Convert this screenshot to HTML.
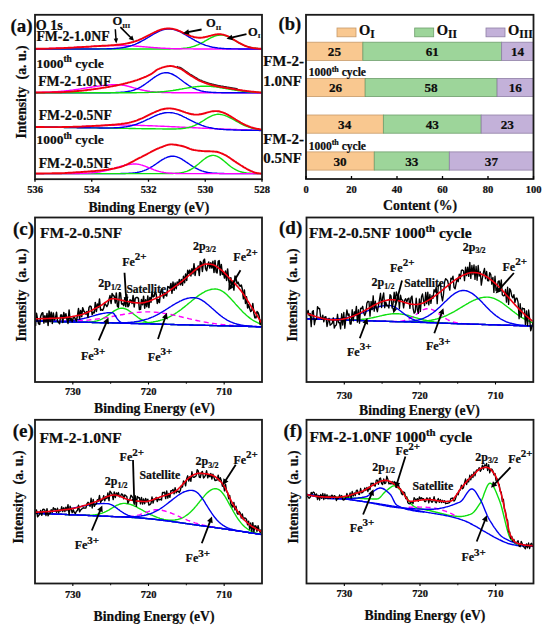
<!DOCTYPE html>
<html><head><meta charset="utf-8"><style>
html,body{margin:0;padding:0;background:#fff;width:550px;height:628px;overflow:hidden}
svg{display:block}
text{fill:#0d0d0d;stroke:#0d0d0d;stroke-width:0.22px}
</style></head><body>
<svg width="550" height="628" viewBox="0 0 550 628" style="font-family:'Liberation Serif',serif;font-weight:bold">
<rect width="550" height="628" fill="#fff"/>
<clipPath id="ca"><rect x="35" y="14.8" width="227" height="164.39999999999998"/></clipPath><g clip-path="url(#ca)">
<path d="M35.5,49.0L36.5,49.0L37.5,49.0L38.5,49.0L39.5,49.0L40.5,49.0L41.5,49.0L42.5,49.0L43.5,49.0L44.5,49.0L45.5,49.0L46.5,49.0L47.4,49.0L48.4,49.0L49.4,49.0L50.4,49.0L51.4,49.0L52.4,49.0L53.4,49.0L54.4,49.0L55.4,49.0L56.4,49.0L57.4,49.0L58.4,49.0L59.4,49.0L60.4,49.0L61.4,49.0L62.4,49.0L63.4,49.0L64.4,49.0L65.4,49.0L66.4,49.0L67.4,49.0L68.4,49.0L69.4,49.0L70.3,49.0L71.3,49.0L72.3,49.0L73.3,49.0L74.3,49.0L75.3,49.0L76.3,49.0L77.3,49.0L78.3,49.0L79.3,49.0L80.3,49.0L81.3,49.0L82.3,49.0L83.3,49.0L84.3,49.0L85.3,49.0L86.3,49.0L87.3,49.0L88.3,49.0L89.3,49.0L90.3,49.0L91.3,49.0L92.2,49.0L93.2,49.0L94.2,49.0L95.2,49.0L96.2,49.0L97.2,49.0L98.2,49.0L99.2,49.0L100.2,49.0L101.2,49.0L102.2,49.0L103.2,49.0L104.2,49.0L105.2,49.0L106.2,49.0L107.2,49.0L108.2,49.0L109.2,49.0L110.2,49.0L111.2,49.0L112.2,49.0L113.2,49.0L114.2,49.0L115.1,49.0L116.1,49.0L117.1,49.0L118.1,49.0L119.1,49.0L120.1,49.0L121.1,49.0L122.1,49.0L123.1,49.0L124.1,49.0L125.1,49.0L126.1,49.0L127.1,49.0L128.1,49.0L129.1,49.0L130.1,49.0L131.1,49.0L132.1,49.0L133.1,49.0L134.1,49.0L135.1,49.0L136.1,49.0L137.1,49.0L138.0,49.0L139.0,49.0L140.0,49.0L141.0,49.0L142.0,49.0L143.0,49.0L144.0,49.0L145.0,49.0L146.0,49.0L147.0,49.0L148.0,49.0L149.0,49.0L150.0,49.0L151.0,49.0L152.0,49.0L153.0,49.0L154.0,49.0L155.0,49.0L156.0,49.0L157.0,49.0L158.0,49.0L159.0,49.0L159.9,49.0L160.9,49.0L161.9,49.0L162.9,49.0L163.9,49.0L164.9,49.0L165.9,49.0L166.9,49.0L167.9,49.0L168.9,49.0L169.9,49.0L170.9,48.9L171.9,48.9L172.9,48.9L173.9,48.9L174.9,48.9L175.9,48.8L176.9,48.8L177.9,48.8L178.9,48.7L179.9,48.7L180.9,48.6L181.9,48.5L182.8,48.4L183.8,48.3L184.8,48.2L185.8,48.1L186.8,48.0L187.8,47.8L188.8,47.6L189.8,47.4L190.8,47.2L191.8,46.9L192.8,46.6L193.8,46.3L194.8,46.0L195.8,45.6L196.8,45.2L197.8,44.8L198.8,44.3L199.8,43.9L200.8,43.4L201.8,42.8L202.8,42.3L203.8,41.8L204.8,41.2L205.7,40.7L206.7,40.1L207.7,39.5L208.7,39.0L209.7,38.4L210.7,37.9L211.7,37.4L212.7,37.0L213.7,36.6L214.7,36.2L215.7,35.8L216.7,35.6L217.7,35.3L218.7,35.2L219.7,35.1L220.7,35.0L221.7,35.0L222.7,35.1L223.7,35.3L224.7,35.5L225.7,35.8L226.7,36.1L227.6,36.5L228.6,36.9L229.6,37.4L230.6,38.0L231.6,38.5L232.6,39.1L233.6,39.7L234.6,40.3L235.6,40.9L236.6,41.5L237.6,42.1L238.6,42.6L239.6,43.2L240.6,43.7L241.6,44.3L242.6,44.7L243.6,45.2L244.6,45.6L245.6,46.0L246.6,46.4L247.6,46.7L248.6,47.0L249.6,47.3L250.5,47.5L251.5,47.7L252.5,47.9L253.5,48.1L254.5,48.2L255.5,48.3L256.5,48.4L257.5,48.5L258.5,48.6L259.5,48.7L260.5,48.7L261.5,48.8" fill="none" stroke="#10E010" stroke-width="1.4" stroke-linejoin="round"/>
<path d="M35.5,48.8L36.5,48.8L37.5,48.8L38.5,48.8L39.5,48.8L40.5,48.7L41.5,48.7L42.5,48.7L43.5,48.7L44.5,48.7L45.5,48.6L46.5,48.6L47.4,48.6L48.4,48.6L49.4,48.5L50.4,48.5L51.4,48.5L52.4,48.5L53.4,48.4L54.4,48.4L55.4,48.4L56.4,48.3L57.4,48.3L58.4,48.3L59.4,48.2L60.4,48.2L61.4,48.1L62.4,48.1L63.4,48.1L64.4,48.0L65.4,48.0L66.4,47.9L67.4,47.9L68.4,47.8L69.4,47.8L70.3,47.7L71.3,47.7L72.3,47.6L73.3,47.6L74.3,47.5L75.3,47.5L76.3,47.4L77.3,47.3L78.3,47.3L79.3,47.2L80.3,47.2L81.3,47.1L82.3,47.0L83.3,47.0L84.3,46.9L85.3,46.9L86.3,46.8L87.3,46.7L88.3,46.7L89.3,46.6L90.3,46.6L91.3,46.5L92.2,46.4L93.2,46.4L94.2,46.3L95.2,46.3L96.2,46.2L97.2,46.2L98.2,46.1L99.2,46.1L100.2,46.0L101.2,46.0L102.2,45.9L103.2,45.9L104.2,45.8L105.2,45.8L106.2,45.8L107.2,45.7L108.2,45.7L109.2,45.7L110.2,45.6L111.2,45.6L112.2,45.6L113.2,45.6L114.2,45.5L115.1,45.5L116.1,45.5L117.1,45.5L118.1,45.5L119.1,45.5L120.1,45.5L121.1,45.5L122.1,45.5L123.1,45.5L124.1,45.5L125.1,45.6L126.1,45.6L127.1,45.6L128.1,45.7L129.1,45.7L130.1,45.8L131.1,45.8L132.1,45.9L133.1,45.9L134.1,46.0L135.1,46.1L136.1,46.2L137.1,46.2L138.0,46.3L139.0,46.4L140.0,46.5L141.0,46.5L142.0,46.6L143.0,46.7L144.0,46.8L145.0,46.9L146.0,47.0L147.0,47.0L148.0,47.1L149.0,47.2L150.0,47.3L151.0,47.4L152.0,47.5L153.0,47.5L154.0,47.6L155.0,47.7L156.0,47.8L157.0,47.8L158.0,47.9L159.0,48.0L159.9,48.0L160.9,48.1L161.9,48.1L162.9,48.2L163.9,48.3L164.9,48.3L165.9,48.4L166.9,48.4L167.9,48.4L168.9,48.5L169.9,48.5L170.9,48.6L171.9,48.6L172.9,48.6L173.9,48.7L174.9,48.7L175.9,48.7L176.9,48.7L177.9,48.8L178.9,48.8L179.9,48.8L180.9,48.8L181.9,48.8L182.8,48.9L183.8,48.9L184.8,48.9L185.8,48.9L186.8,48.9L187.8,48.9L188.8,48.9L189.8,48.9L190.8,48.9L191.8,48.9L192.8,48.9L193.8,49.0L194.8,49.0L195.8,49.0L196.8,49.0L197.8,49.0L198.8,49.0L199.8,49.0L200.8,49.0L201.8,49.0L202.8,49.0L203.8,49.0L204.8,49.0L205.7,49.0L206.7,49.0L207.7,49.0L208.7,49.0L209.7,49.0L210.7,49.0L211.7,49.0L212.7,49.0L213.7,49.0L214.7,49.0L215.7,49.0L216.7,49.0L217.7,49.0L218.7,49.0L219.7,49.0L220.7,49.0L221.7,49.0L222.7,49.0L223.7,49.0L224.7,49.0L225.7,49.0L226.7,49.0L227.6,49.0L228.6,49.0L229.6,49.0L230.6,49.0L231.6,49.0L232.6,49.0L233.6,49.0L234.6,49.0L235.6,49.0L236.6,49.0L237.6,49.0L238.6,49.0L239.6,49.0L240.6,49.0L241.6,49.0L242.6,49.0L243.6,49.0L244.6,49.0L245.6,49.0L246.6,49.0L247.6,49.0L248.6,49.0L249.6,49.0L250.5,49.0L251.5,49.0L252.5,49.0L253.5,49.0L254.5,49.0L255.5,49.0L256.5,49.0L257.5,49.0L258.5,49.0L259.5,49.0L260.5,49.0L261.5,49.0" fill="none" stroke="#FF00FF" stroke-width="1.4" stroke-linejoin="round"/>
<path d="M35.5,49.0L36.5,49.0L37.5,49.0L38.5,49.0L39.5,49.0L40.5,49.0L41.5,49.0L42.5,49.0L43.5,49.0L44.5,49.0L45.5,49.0L46.5,49.0L47.4,49.0L48.4,49.0L49.4,49.0L50.4,49.0L51.4,49.0L52.4,49.0L53.4,49.0L54.4,49.0L55.4,49.0L56.4,49.0L57.4,49.0L58.4,49.0L59.4,49.0L60.4,49.0L61.4,49.0L62.4,49.0L63.4,49.0L64.4,49.0L65.4,49.0L66.4,49.0L67.4,49.0L68.4,49.0L69.4,49.0L70.3,49.0L71.3,49.0L72.3,49.0L73.3,49.0L74.3,49.0L75.3,49.0L76.3,49.0L77.3,49.0L78.3,49.0L79.3,49.0L80.3,49.0L81.3,49.0L82.3,49.0L83.3,49.0L84.3,49.0L85.3,49.0L86.3,49.0L87.3,49.0L88.3,49.0L89.3,49.0L90.3,49.0L91.3,49.0L92.2,49.0L93.2,49.0L94.2,49.0L95.2,49.0L96.2,49.0L97.2,49.0L98.2,49.0L99.2,49.0L100.2,48.9L101.2,48.9L102.2,48.9L103.2,48.9L104.2,48.9L105.2,48.9L106.2,48.9L107.2,48.8L108.2,48.8L109.2,48.8L110.2,48.7L111.2,48.7L112.2,48.6L113.2,48.6L114.2,48.5L115.1,48.5L116.1,48.4L117.1,48.3L118.1,48.2L119.1,48.1L120.1,48.0L121.1,47.9L122.1,47.7L123.1,47.6L124.1,47.4L125.1,47.2L126.1,47.0L127.1,46.8L128.1,46.5L129.1,46.3L130.1,46.0L131.1,45.7L132.1,45.4L133.1,45.0L134.1,44.7L135.1,44.3L136.1,43.8L137.1,43.4L138.0,43.0L139.0,42.5L140.0,42.0L141.0,41.5L142.0,40.9L143.0,40.4L144.0,39.8L145.0,39.3L146.0,38.7L147.0,38.1L148.0,37.5L149.0,36.9L150.0,36.3L151.0,35.7L152.0,35.1L153.0,34.5L154.0,33.9L155.0,33.4L156.0,32.8L157.0,32.3L158.0,31.8L159.0,31.4L159.9,30.9L160.9,30.6L161.9,30.2L162.9,29.9L163.9,29.6L164.9,29.4L165.9,29.2L166.9,29.1L167.9,29.0L168.9,29.0L169.9,29.0L170.9,29.1L171.9,29.2L172.9,29.4L173.9,29.6L174.9,29.8L175.9,30.1L176.9,30.5L177.9,30.9L178.9,31.3L179.9,31.7L180.9,32.2L181.9,32.7L182.8,33.3L183.8,33.8L184.8,34.4L185.8,35.0L186.8,35.6L187.8,36.2L188.8,36.8L189.8,37.4L190.8,38.0L191.8,38.6L192.8,39.2L193.8,39.7L194.8,40.3L195.8,40.8L196.8,41.4L197.8,41.9L198.8,42.4L199.8,42.9L200.8,43.3L201.8,43.8L202.8,44.2L203.8,44.6L204.8,45.0L205.7,45.3L206.7,45.6L207.7,45.9L208.7,46.2L209.7,46.5L210.7,46.7L211.7,47.0L212.7,47.2L213.7,47.4L214.7,47.5L215.7,47.7L216.7,47.8L217.7,48.0L218.7,48.1L219.7,48.2L220.7,48.3L221.7,48.4L222.7,48.5L223.7,48.5L224.7,48.6L225.7,48.6L226.7,48.7L227.6,48.7L228.6,48.8L229.6,48.8L230.6,48.8L231.6,48.9L232.6,48.9L233.6,48.9L234.6,48.9L235.6,48.9L236.6,48.9L237.6,48.9L238.6,49.0L239.6,49.0L240.6,49.0L241.6,49.0L242.6,49.0L243.6,49.0L244.6,49.0L245.6,49.0L246.6,49.0L247.6,49.0L248.6,49.0L249.6,49.0L250.5,49.0L251.5,49.0L252.5,49.0L253.5,49.0L254.5,49.0L255.5,49.0L256.5,49.0L257.5,49.0L258.5,49.0L259.5,49.0L260.5,49.0L261.5,49.0" fill="none" stroke="#0000F0" stroke-width="1.4" stroke-linejoin="round"/>
<path d="M35.5,48.8L36.5,48.8L37.5,48.8L38.5,48.8L39.5,48.8L40.5,48.7L41.5,48.7L42.5,48.7L43.5,48.7L44.5,48.7L45.5,48.6L46.5,48.6L47.4,48.6L48.4,48.6L49.4,48.5L50.4,48.5L51.4,48.5L52.4,48.5L53.4,48.4L54.4,48.4L55.4,48.4L56.4,48.3L57.4,48.3L58.4,48.3L59.4,48.2L60.4,48.2L61.4,48.1L62.4,48.1L63.4,48.1L64.4,48.0L65.4,48.0L66.4,47.9L67.4,47.9L68.4,47.8L69.4,47.8L70.3,47.7L71.3,47.7L72.3,47.6L73.3,47.6L74.3,47.5L75.3,47.4L76.3,47.4L77.3,47.3L78.3,47.3L79.3,47.2L80.3,47.2L81.3,47.1L82.3,47.0L83.3,47.0L84.3,46.9L85.3,46.9L86.3,46.8L87.3,46.7L88.3,46.7L89.3,46.6L90.3,46.6L91.3,46.5L92.2,46.4L93.2,46.4L94.2,46.3L95.2,46.3L96.2,46.2L97.2,46.1L98.2,46.1L99.2,46.0L100.2,46.0L101.2,45.9L102.2,45.8L103.2,45.8L104.2,45.7L105.2,45.7L106.2,45.6L107.2,45.6L108.2,45.5L109.2,45.4L110.2,45.4L111.2,45.3L112.2,45.2L113.2,45.2L114.2,45.1L115.1,45.0L116.1,44.9L117.1,44.8L118.1,44.7L119.1,44.6L120.1,44.5L121.1,44.4L122.1,44.2L123.1,44.1L124.1,43.9L125.1,43.8L126.1,43.6L127.1,43.4L128.1,43.2L129.1,43.0L130.1,42.8L131.1,42.5L132.1,42.2L133.1,42.0L134.1,41.7L135.1,41.3L136.1,41.0L137.1,40.6L138.0,40.3L139.0,39.9L140.0,39.5L141.0,39.0L142.0,38.6L143.0,38.1L144.0,37.6L145.0,37.1L146.0,36.6L147.0,36.1L148.0,35.6L149.0,35.1L150.0,34.6L151.0,34.0L152.0,33.5L153.0,33.0L154.0,32.5L155.0,32.0L156.0,31.6L157.0,31.1L158.0,30.7L159.0,30.3L159.9,30.0L160.9,29.6L161.9,29.3L162.9,29.1L163.9,28.9L164.9,28.7L165.9,28.6L166.9,28.5L167.9,28.4L168.9,28.5L169.9,28.5L170.9,28.6L171.9,28.7L172.9,28.9L173.9,29.1L174.9,29.4L175.9,29.7L176.9,30.0L177.9,30.4L178.9,30.8L179.9,31.2L180.9,31.7L181.9,32.1L182.8,32.6L183.8,33.0L184.8,33.5L185.8,34.0L186.8,34.4L187.8,34.9L188.8,35.3L189.8,35.7L190.8,36.1L191.8,36.4L192.8,36.7L193.8,37.0L194.8,37.2L195.8,37.4L196.8,37.5L197.8,37.6L198.8,37.7L199.8,37.7L200.8,37.7L201.8,37.6L202.8,37.5L203.8,37.3L204.8,37.2L205.7,36.9L206.7,36.7L207.7,36.5L208.7,36.2L209.7,35.9L210.7,35.7L211.7,35.4L212.7,35.1L213.7,34.9L214.7,34.7L215.7,34.5L216.7,34.4L217.7,34.3L218.7,34.3L219.7,34.2L220.7,34.3L221.7,34.4L222.7,34.6L223.7,34.8L224.7,35.1L225.7,35.4L226.7,35.8L227.6,36.2L228.6,36.7L229.6,37.2L230.6,37.8L231.6,38.4L232.6,39.0L233.6,39.6L234.6,40.2L235.6,40.8L236.6,41.4L237.6,42.0L238.6,42.6L239.6,43.2L240.6,43.7L241.6,44.2L242.6,44.7L243.6,45.2L244.6,45.6L245.6,46.0L246.6,46.3L247.6,46.7L248.6,47.0L249.6,47.2L250.5,47.5L251.5,47.7L252.5,47.9L253.5,48.1L254.5,48.2L255.5,48.3L256.5,48.4L257.5,48.5L258.5,48.6L259.5,48.7L260.5,48.7L261.5,48.8" fill="none" stroke="#F00010" stroke-width="1.9" stroke-linejoin="round"/>
<path d="M35.5,92.5L36.5,92.5L37.5,92.5L38.5,92.4L39.5,92.4L40.5,92.4L41.5,92.4L42.5,92.3L43.5,92.3L44.5,92.3L45.5,92.2L46.5,92.2L47.4,92.2L48.4,92.1L49.4,92.1L50.4,92.0L51.4,92.0L52.4,91.9L53.4,91.9L54.4,91.8L55.4,91.7L56.4,91.7L57.4,91.6L58.4,91.5L59.4,91.4L60.4,91.4L61.4,91.3L62.4,91.2L63.4,91.1L64.4,91.0L65.4,90.9L66.4,90.8L67.4,90.7L68.4,90.6L69.4,90.4L70.3,90.3L71.3,90.2L72.3,90.1L73.3,89.9L74.3,89.8L75.3,89.7L76.3,89.5L77.3,89.4L78.3,89.2L79.3,89.1L80.3,88.9L81.3,88.8L82.3,88.6L83.3,88.4L84.3,88.3L85.3,88.1L86.3,88.0L87.3,87.8L88.3,87.6L89.3,87.5L90.3,87.3L91.3,87.2L92.2,87.0L93.2,86.9L94.2,86.7L95.2,86.6L96.2,86.4L97.2,86.3L98.2,86.1L99.2,86.0L100.2,85.9L101.2,85.7L102.2,85.6L103.2,85.5L104.2,85.4L105.2,85.3L106.2,85.2L107.2,85.1L108.2,85.0L109.2,85.0L110.2,84.9L111.2,84.8L112.2,84.8L113.2,84.8L114.2,84.7L115.1,84.7L116.1,84.7L117.1,84.7L118.1,84.7L119.1,84.8L120.1,84.8L121.1,84.9L122.1,85.1L123.1,85.2L124.1,85.4L125.1,85.6L126.1,85.8L127.1,86.0L128.1,86.2L129.1,86.5L130.1,86.8L131.1,87.0L132.1,87.3L133.1,87.6L134.1,87.9L135.1,88.1L136.1,88.4L137.1,88.7L138.0,89.0L139.0,89.2L140.0,89.5L141.0,89.8L142.0,90.0L143.0,90.2L144.0,90.4L145.0,90.6L146.0,90.8L147.0,91.0L148.0,91.2L149.0,91.3L150.0,91.5L151.0,91.6L152.0,91.7L153.0,91.8L154.0,91.9L155.0,92.0L156.0,92.1L157.0,92.2L158.0,92.3L159.0,92.3L159.9,92.4L160.9,92.4L161.9,92.5L162.9,92.5L163.9,92.5L164.9,92.5L165.9,92.6L166.9,92.6L167.9,92.6L168.9,92.6L169.9,92.6L170.9,92.6L171.9,92.7L172.9,92.7L173.9,92.7L174.9,92.7L175.9,92.7L176.9,92.7L177.9,92.7L178.9,92.7L179.9,92.7L180.9,92.7L181.9,92.7L182.8,92.7L183.8,92.7L184.8,92.7L185.8,92.7L186.8,92.7L187.8,92.7L188.8,92.7L189.8,92.7L190.8,92.7L191.8,92.7L192.8,92.7L193.8,92.7L194.8,92.7L195.8,92.7L196.8,92.7L197.8,92.7L198.8,92.7L199.8,92.7L200.8,92.7L201.8,92.7L202.8,92.7L203.8,92.7L204.8,92.7L205.7,92.7L206.7,92.7L207.7,92.7L208.7,92.7L209.7,92.7L210.7,92.7L211.7,92.7L212.7,92.7L213.7,92.7L214.7,92.7L215.7,92.7L216.7,92.7L217.7,92.7L218.7,92.7L219.7,92.7L220.7,92.7L221.7,92.7L222.7,92.7L223.7,92.7L224.7,92.7L225.7,92.7L226.7,92.7L227.6,92.7L228.6,92.7L229.6,92.7L230.6,92.7L231.6,92.7L232.6,92.7L233.6,92.7L234.6,92.7L235.6,92.7L236.6,92.7L237.6,92.7L238.6,92.7L239.6,92.7L240.6,92.7L241.6,92.7L242.6,92.7L243.6,92.7L244.6,92.7L245.6,92.7L246.6,92.7L247.6,92.7L248.6,92.7L249.6,92.7L250.5,92.7L251.5,92.7L252.5,92.7L253.5,92.7L254.5,92.7L255.5,92.7L256.5,92.7L257.5,92.7L258.5,92.7L259.5,92.7L260.5,92.7L261.5,92.7" fill="none" stroke="#FF00FF" stroke-width="1.4" stroke-linejoin="round"/>
<path d="M35.5,92.7L36.5,92.7L37.5,92.7L38.5,92.7L39.5,92.7L40.5,92.7L41.5,92.7L42.5,92.7L43.5,92.7L44.5,92.7L45.5,92.7L46.5,92.7L47.4,92.7L48.4,92.7L49.4,92.7L50.4,92.7L51.4,92.7L52.4,92.7L53.4,92.7L54.4,92.7L55.4,92.7L56.4,92.7L57.4,92.7L58.4,92.7L59.4,92.7L60.4,92.7L61.4,92.7L62.4,92.7L63.4,92.7L64.4,92.7L65.4,92.7L66.4,92.7L67.4,92.7L68.4,92.7L69.4,92.7L70.3,92.7L71.3,92.7L72.3,92.7L73.3,92.7L74.3,92.7L75.3,92.7L76.3,92.7L77.3,92.7L78.3,92.7L79.3,92.7L80.3,92.7L81.3,92.7L82.3,92.7L83.3,92.7L84.3,92.7L85.3,92.7L86.3,92.7L87.3,92.7L88.3,92.7L89.3,92.7L90.3,92.7L91.3,92.7L92.2,92.7L93.2,92.7L94.2,92.7L95.2,92.7L96.2,92.7L97.2,92.7L98.2,92.7L99.2,92.7L100.2,92.7L101.2,92.7L102.2,92.7L103.2,92.7L104.2,92.7L105.2,92.7L106.2,92.7L107.2,92.7L108.2,92.7L109.2,92.7L110.2,92.7L111.2,92.6L112.2,92.6L113.2,92.6L114.2,92.6L115.1,92.6L116.1,92.5L117.1,92.5L118.1,92.5L119.1,92.4L120.1,92.4L121.1,92.3L122.1,92.2L123.1,92.1L124.1,92.1L125.1,91.9L126.1,91.8L127.1,91.7L128.1,91.5L129.1,91.3L130.1,91.1L131.1,90.9L132.1,90.6L133.1,90.3L134.1,90.0L135.1,89.6L136.1,89.2L137.1,88.8L138.0,88.4L139.0,87.9L140.0,87.3L141.0,86.8L142.0,86.2L143.0,85.6L144.0,84.9L145.0,84.2L146.0,83.5L147.0,82.8L148.0,82.1L149.0,81.3L150.0,80.6L151.0,79.8L152.0,79.1L153.0,78.3L154.0,77.6L155.0,76.9L156.0,76.3L157.0,75.6L158.0,75.1L159.0,74.5L159.9,74.1L160.9,73.7L161.9,73.3L162.9,73.1L163.9,72.9L164.9,72.7L165.9,72.7L166.9,72.7L167.9,72.8L168.9,73.0L169.9,73.3L170.9,73.6L171.9,74.0L172.9,74.5L173.9,75.0L174.9,75.6L175.9,76.2L176.9,76.8L177.9,77.5L178.9,78.2L179.9,79.0L180.9,79.7L181.9,80.5L182.8,81.2L183.8,82.0L184.8,82.7L185.8,83.4L186.8,84.1L187.8,84.8L188.8,85.5L189.8,86.1L190.8,86.7L191.8,87.3L192.8,87.8L193.8,88.3L194.8,88.7L195.8,89.2L196.8,89.6L197.8,89.9L198.8,90.2L199.8,90.5L200.8,90.8L201.8,91.1L202.8,91.3L203.8,91.5L204.8,91.6L205.7,91.8L206.7,91.9L207.7,92.0L208.7,92.1L209.7,92.2L210.7,92.3L211.7,92.4L212.7,92.4L213.7,92.5L214.7,92.5L215.7,92.5L216.7,92.6L217.7,92.6L218.7,92.6L219.7,92.6L220.7,92.6L221.7,92.7L222.7,92.7L223.7,92.7L224.7,92.7L225.7,92.7L226.7,92.7L227.6,92.7L228.6,92.7L229.6,92.7L230.6,92.7L231.6,92.7L232.6,92.7L233.6,92.7L234.6,92.7L235.6,92.7L236.6,92.7L237.6,92.7L238.6,92.7L239.6,92.7L240.6,92.7L241.6,92.7L242.6,92.7L243.6,92.7L244.6,92.7L245.6,92.7L246.6,92.7L247.6,92.7L248.6,92.7L249.6,92.7L250.5,92.7L251.5,92.7L252.5,92.7L253.5,92.7L254.5,92.7L255.5,92.7L256.5,92.7L257.5,92.7L258.5,92.7L259.5,92.7L260.5,92.7L261.5,92.7" fill="none" stroke="#0000F0" stroke-width="1.4" stroke-linejoin="round"/>
<path d="M35.5,92.7L36.5,92.7L37.5,92.7L38.5,92.7L39.5,92.7L40.5,92.7L41.5,92.7L42.5,92.7L43.5,92.7L44.5,92.7L45.5,92.7L46.5,92.7L47.4,92.7L48.4,92.7L49.4,92.7L50.4,92.7L51.4,92.7L52.4,92.7L53.4,92.7L54.4,92.7L55.4,92.7L56.4,92.7L57.4,92.7L58.4,92.7L59.4,92.7L60.4,92.7L61.4,92.7L62.4,92.7L63.4,92.7L64.4,92.7L65.4,92.7L66.4,92.7L67.4,92.7L68.4,92.7L69.4,92.7L70.3,92.7L71.3,92.7L72.3,92.7L73.3,92.7L74.3,92.7L75.3,92.7L76.3,92.7L77.3,92.7L78.3,92.7L79.3,92.7L80.3,92.7L81.3,92.7L82.3,92.7L83.3,92.7L84.3,92.7L85.3,92.7L86.3,92.7L87.3,92.7L88.3,92.7L89.3,92.7L90.3,92.7L91.3,92.7L92.2,92.7L93.2,92.7L94.2,92.7L95.2,92.7L96.2,92.7L97.2,92.7L98.2,92.7L99.2,92.7L100.2,92.7L101.2,92.7L102.2,92.7L103.2,92.7L104.2,92.7L105.2,92.7L106.2,92.7L107.2,92.7L108.2,92.7L109.2,92.7L110.2,92.7L111.2,92.7L112.2,92.7L113.2,92.7L114.2,92.7L115.1,92.7L116.1,92.7L117.1,92.7L118.1,92.7L119.1,92.7L120.1,92.7L121.1,92.7L122.1,92.7L123.1,92.7L124.1,92.7L125.1,92.7L126.1,92.7L127.1,92.7L128.1,92.7L129.1,92.7L130.1,92.7L131.1,92.7L132.1,92.7L133.1,92.7L134.1,92.7L135.1,92.7L136.1,92.7L137.1,92.6L138.0,92.6L139.0,92.6L140.0,92.6L141.0,92.6L142.0,92.6L143.0,92.6L144.0,92.6L145.0,92.5L146.0,92.5L147.0,92.5L148.0,92.5L149.0,92.4L150.0,92.4L151.0,92.4L152.0,92.3L153.0,92.3L154.0,92.3L155.0,92.2L156.0,92.2L157.0,92.1L158.0,92.0L159.0,92.0L159.9,91.9L160.9,91.8L161.9,91.7L162.9,91.7L163.9,91.6L164.9,91.5L165.9,91.4L166.9,91.2L167.9,91.1L168.9,91.0L169.9,90.9L170.9,90.7L171.9,90.6L172.9,90.5L173.9,90.3L174.9,90.2L175.9,90.0L176.9,89.8L177.9,89.7L178.9,89.5L179.9,89.3L180.9,89.1L181.9,89.0L182.8,88.8L183.8,88.6L184.8,88.4L185.8,88.3L186.8,88.1L187.8,87.9L188.8,87.7L189.8,87.6L190.8,87.4L191.8,87.3L192.8,87.1L193.8,87.0L194.8,86.9L195.8,86.7L196.8,86.6L197.8,86.5L198.8,86.5L199.8,86.4L200.8,86.3L201.8,86.3L202.8,86.2L203.8,86.2L204.8,86.2L205.7,86.2L206.7,86.2L207.7,86.3L208.7,86.3L209.7,86.3L210.7,86.4L211.7,86.5L212.7,86.6L213.7,86.7L214.7,86.8L215.7,86.9L216.7,87.1L217.7,87.2L218.7,87.3L219.7,87.5L220.7,87.7L221.7,87.8L222.7,88.0L223.7,88.2L224.7,88.3L225.7,88.5L226.7,88.7L227.6,88.9L228.6,89.1L229.6,89.2L230.6,89.4L231.6,89.6L232.6,89.7L233.6,89.9L234.6,90.1L235.6,90.2L236.6,90.4L237.6,90.5L238.6,90.7L239.6,90.8L240.6,90.9L241.6,91.1L242.6,91.2L243.6,91.3L244.6,91.4L245.6,91.5L246.6,91.6L247.6,91.7L248.6,91.8L249.6,91.9L250.5,91.9L251.5,92.0L252.5,92.1L253.5,92.1L254.5,92.2L255.5,92.2L256.5,92.3L257.5,92.3L258.5,92.4L259.5,92.4L260.5,92.4L261.5,92.5" fill="none" stroke="#10E010" stroke-width="1.4" stroke-linejoin="round"/>
<path d="M176.9,66.4L177.9,66.8L178.9,67.1L179.9,67.5L180.9,68.0L181.9,68.5L182.8,69.1L183.8,69.8L184.8,70.5L185.8,71.2L186.8,71.9L187.8,72.6L188.8,73.3L189.8,74.0L190.8,74.6L191.8,75.2L192.8,75.8L193.8,76.4L194.8,77.0L195.8,77.6L196.8,78.2L197.8,78.8L198.8,79.3L199.8,79.8L200.8,80.2L201.8,80.7L202.8,81.1L203.8,81.4L204.8,81.8L205.7,82.2L206.7,82.5L207.7,82.8L208.7,83.2L209.7,83.5L210.7,83.8L211.7,84.0L212.7,84.3L213.7,84.5L214.7,84.8L215.7,85.0L216.7,85.2L217.7,85.4L218.7,85.6L219.7,85.8L220.7,86.0L221.7,86.1L222.7,86.3L223.7,86.5L224.7,86.6L225.7,86.8L226.7,87.0L227.6,87.1L228.6,87.3L229.6,87.4L230.6,87.6L231.6,87.8L232.6,87.9L233.6,88.1L234.6,88.3L235.6,88.4L236.6,88.6L237.6,88.7" fill="none" stroke="#222" stroke-width="1.4" stroke-linejoin="round"/>
<path d="M35.5,92.5L36.5,92.5L37.5,92.5L38.5,92.5L39.5,92.5L40.5,92.5L41.5,92.5L42.5,92.5L43.5,92.5L44.5,92.5L45.5,92.4L46.5,92.4L47.4,92.4L48.4,92.4L49.4,92.4L50.4,92.4L51.4,92.4L52.4,92.3L53.4,92.3L54.4,92.3L55.4,92.3L56.4,92.3L57.4,92.3L58.4,92.2L59.4,92.2L60.4,92.2L61.4,92.2L62.4,92.1L63.4,92.1L64.4,92.0L65.4,92.0L66.4,91.9L67.4,91.9L68.4,91.8L69.4,91.7L70.3,91.6L71.3,91.6L72.3,91.5L73.3,91.4L74.3,91.3L75.3,91.2L76.3,91.1L77.3,91.0L78.3,91.0L79.3,90.9L80.3,90.8L81.3,90.7L82.3,90.6L83.3,90.5L84.3,90.4L85.3,90.3L86.3,90.2L87.3,90.0L88.3,89.9L89.3,89.8L90.3,89.7L91.3,89.5L92.2,89.4L93.2,89.3L94.2,89.1L95.2,89.0L96.2,88.9L97.2,88.7L98.2,88.6L99.2,88.4L100.2,88.3L101.2,88.1L102.2,87.9L103.2,87.8L104.2,87.6L105.2,87.5L106.2,87.3L107.2,87.1L108.2,87.0L109.2,86.8L110.2,86.6L111.2,86.4L112.2,86.3L113.2,86.1L114.2,85.9L115.1,85.7L116.1,85.5L117.1,85.3L118.1,85.1L119.1,84.9L120.1,84.6L121.1,84.4L122.1,84.2L123.1,84.0L124.1,83.7L125.1,83.5L126.1,83.2L127.1,83.0L128.1,82.7L129.1,82.4L130.1,82.2L131.1,81.9L132.1,81.6L133.1,81.3L134.1,81.0L135.1,80.7L136.1,80.4L137.1,80.1L138.0,79.7L139.0,79.4L140.0,79.0L141.0,78.6L142.0,78.2L143.0,77.8L144.0,77.4L145.0,77.0L146.0,76.6L147.0,76.1L148.0,75.7L149.0,75.2L150.0,74.7L151.0,74.1L152.0,73.5L153.0,72.7L154.0,72.0L155.0,71.2L156.0,70.4L157.0,69.8L158.0,69.2L159.0,68.8L159.9,68.4L160.9,68.1L161.9,67.7L162.9,67.4L163.9,67.1L164.9,66.8L165.9,66.6L166.9,66.3L167.9,66.2L168.9,66.1L169.9,66.0L170.9,66.0L171.9,66.1L172.9,66.3L173.9,66.5L174.9,66.8L175.9,67.1L176.9,67.4L177.9,67.8L178.9,68.1L179.9,68.5L180.9,69.0L181.9,69.5L182.8,70.1L183.8,70.8L184.8,71.5L185.8,72.2L186.8,72.9L187.8,73.6L188.8,74.3L189.8,75.0L190.8,75.6L191.8,76.2L192.8,76.8L193.8,77.4L194.8,78.0L195.8,78.6L196.8,79.2L197.8,79.8L198.8,80.3L199.8,80.8L200.8,81.2L201.8,81.7L202.8,82.1L203.8,82.4L204.8,82.8L205.7,83.2L206.7,83.5L207.7,83.8L208.7,84.2L209.7,84.5L210.7,84.8L211.7,85.0L212.7,85.3L213.7,85.5L214.7,85.8L215.7,86.0L216.7,86.2L217.7,86.4L218.7,86.6L219.7,86.8L220.7,87.0L221.7,87.1L222.7,87.3L223.7,87.5L224.7,87.6L225.7,87.8L226.7,88.0L227.6,88.1L228.6,88.3L229.6,88.4L230.6,88.6L231.6,88.8L232.6,88.9L233.6,89.1L234.6,89.3L235.6,89.4L236.6,89.6L237.6,89.7L238.6,89.9L239.6,90.0L240.6,90.2L241.6,90.3L242.6,90.5L243.6,90.6L244.6,90.7L245.6,90.9L246.6,91.0L247.6,91.1L248.6,91.2L249.6,91.4L250.5,91.5L251.5,91.6L252.5,91.7L253.5,91.8L254.5,91.9L255.5,92.0L256.5,92.1L257.5,92.2L258.5,92.3L259.5,92.4L260.5,92.5L261.5,92.6" fill="none" stroke="#F00010" stroke-width="1.9" stroke-linejoin="round"/>
<path d="M35.5,127.0L36.5,127.0L37.5,127.0L38.5,127.0L39.5,127.0L40.5,127.0L41.5,127.0L42.5,127.0L43.5,127.0L44.5,127.1L45.5,127.1L46.5,127.1L47.4,127.1L48.4,127.1L49.4,127.1L50.4,127.1L51.4,127.1L52.4,127.1L53.4,127.1L54.4,127.1L55.4,127.1L56.4,127.1L57.4,127.1L58.4,127.1L59.4,127.1L60.4,127.1L61.4,127.1L62.4,127.0L63.4,127.0L64.4,127.0L65.4,127.0L66.4,127.0L67.4,127.0L68.4,127.0L69.4,126.9L70.3,126.9L71.3,126.9L72.3,126.9L73.3,126.8L74.3,126.8L75.3,126.8L76.3,126.8L77.3,126.7L78.3,126.7L79.3,126.6L80.3,126.6L81.3,126.6L82.3,126.5L83.3,126.5L84.3,126.4L85.3,126.4L86.3,126.4L87.3,126.3L88.3,126.3L89.3,126.2L90.3,126.2L91.3,126.1L92.2,126.1L93.2,126.0L94.2,126.0L95.2,125.9L96.2,125.9L97.2,125.8L98.2,125.8L99.2,125.7L100.2,125.7L101.2,125.6L102.2,125.6L103.2,125.5L104.2,125.5L105.2,125.4L106.2,125.4L107.2,125.3L108.2,125.3L109.2,125.3L110.2,125.2L111.2,125.2L112.2,125.2L113.2,125.2L114.2,125.1L115.1,125.1L116.1,125.1L117.1,125.1L118.1,125.1L119.1,125.1L120.1,125.1L121.1,125.1L122.1,125.1L123.1,125.1L124.1,125.1L125.1,125.1L126.1,125.1L127.1,125.1L128.1,125.1L129.1,125.2L130.1,125.2L131.1,125.2L132.1,125.2L133.1,125.2L134.1,125.3L135.1,125.3L136.1,125.3L137.1,125.3L138.0,125.4L139.0,125.4L140.0,125.4L141.0,125.5L142.0,125.5L143.0,125.5L144.0,125.5L145.0,125.6L146.0,125.6L147.0,125.6L148.0,125.7L149.0,125.7L150.0,125.7L151.0,125.8L152.0,125.8L153.0,125.9L154.0,125.9L155.0,125.9L156.0,126.0L157.0,126.0L158.0,126.1L159.0,126.1L159.9,126.1L160.9,126.2L161.9,126.2L162.9,126.3L163.9,126.3L164.9,126.4L165.9,126.4L166.9,126.4L167.9,126.5L168.9,126.5L169.9,126.6L170.9,126.6L171.9,126.7L172.9,126.7L173.9,126.8L174.9,126.8L175.9,126.9L176.9,126.9L177.9,127.0L178.9,127.0L179.9,127.1L180.9,127.1L181.9,127.2L182.8,127.2L183.8,127.3L184.8,127.3L185.8,127.4L186.8,127.4L187.8,127.4L188.8,127.5L189.8,127.5L190.8,127.6L191.8,127.6L192.8,127.7L193.8,127.7L194.8,127.8L195.8,127.8L196.8,127.9L197.8,127.9L198.8,128.0L199.8,128.0L200.8,128.1L201.8,128.1L202.8,128.2L203.8,128.2L204.8,128.3L205.7,128.3L206.7,128.3L207.7,128.4L208.7,128.4L209.7,128.5L210.7,128.5L211.7,128.6L212.7,128.6L213.7,128.6L214.7,128.7L215.7,128.7L216.7,128.8L217.7,128.8L218.7,128.9L219.7,128.9L220.7,128.9L221.7,129.0L222.7,129.0L223.7,129.1L224.7,129.1L225.7,129.1L226.7,129.2L227.6,129.2L228.6,129.2L229.6,129.3L230.6,129.3L231.6,129.4L232.6,129.4L233.6,129.4L234.6,129.5L235.6,129.5L236.6,129.5L237.6,129.6L238.6,129.6L239.6,129.6L240.6,129.7L241.6,129.7L242.6,129.7L243.6,129.7L244.6,129.8L245.6,129.8L246.6,129.8L247.6,129.9L248.6,129.9L249.6,129.9L250.5,130.0L251.5,130.0L252.5,130.0L253.5,130.0L254.5,130.1L255.5,130.1L256.5,130.1L257.5,130.1L258.5,130.2L259.5,130.2L260.5,130.2L261.5,130.2" fill="none" stroke="#FF00FF" stroke-width="1.4" stroke-linejoin="round"/>
<path d="M35.5,127.0L36.5,127.0L37.5,127.0L38.5,127.1L39.5,127.1L40.5,127.1L41.5,127.1L42.5,127.1L43.5,127.1L44.5,127.1L45.5,127.2L46.5,127.2L47.4,127.2L48.4,127.2L49.4,127.2L50.4,127.2L51.4,127.3L52.4,127.3L53.4,127.3L54.4,127.3L55.4,127.3L56.4,127.3L57.4,127.3L58.4,127.4L59.4,127.4L60.4,127.4L61.4,127.4L62.4,127.4L63.4,127.4L64.4,127.5L65.4,127.5L66.4,127.5L67.4,127.5L68.4,127.5L69.4,127.5L70.3,127.5L71.3,127.6L72.3,127.6L73.3,127.6L74.3,127.6L75.3,127.6L76.3,127.6L77.3,127.7L78.3,127.7L79.3,127.7L80.3,127.7L81.3,127.7L82.3,127.7L83.3,127.7L84.3,127.8L85.3,127.8L86.3,127.8L87.3,127.8L88.3,127.8L89.3,127.8L90.3,127.9L91.3,127.9L92.2,127.9L93.2,127.9L94.2,127.9L95.2,127.9L96.2,127.9L97.2,128.0L98.2,128.0L99.2,128.0L100.2,128.0L101.2,128.0L102.2,128.0L103.2,128.1L104.2,128.1L105.2,128.1L106.2,128.1L107.2,128.1L108.2,128.1L109.2,128.1L110.2,128.2L111.2,128.2L112.2,128.2L113.2,128.2L114.2,128.2L115.1,128.2L116.1,128.3L117.1,128.3L118.1,128.3L119.1,128.3L120.1,128.3L121.1,128.3L122.1,128.3L123.1,128.4L124.1,128.4L125.1,128.4L126.1,128.4L127.1,128.4L128.1,128.4L129.1,128.5L130.1,128.5L131.1,128.5L132.1,128.5L133.1,128.5L134.1,128.5L135.1,128.5L136.1,128.6L137.1,128.6L138.0,128.6L139.0,128.6L140.0,128.6L141.0,128.6L142.0,128.7L143.0,128.7L144.0,128.7L145.0,128.7L146.0,128.7L147.0,128.7L148.0,128.7L149.0,128.8L150.0,128.8L151.0,128.8L152.0,128.8L153.0,128.8L154.0,128.8L155.0,128.8L156.0,128.9L157.0,128.9L158.0,128.9L159.0,128.9L159.9,128.9L160.9,128.9L161.9,128.9L162.9,129.0L163.9,129.0L164.9,129.0L165.9,129.0L166.9,129.0L167.9,129.0L168.9,129.0L169.9,129.0L170.9,129.0L171.9,129.0L172.9,129.0L173.9,129.0L174.9,129.0L175.9,129.0L176.9,128.9L177.9,128.9L178.9,128.8L179.9,128.8L180.9,128.7L181.9,128.6L182.8,128.5L183.8,128.4L184.8,128.3L185.8,128.1L186.8,127.9L187.8,127.7L188.8,127.5L189.8,127.2L190.8,126.9L191.8,126.6L192.8,126.2L193.8,125.8L194.8,125.4L195.8,124.9L196.8,124.4L197.8,123.9L198.8,123.4L199.8,122.8L200.8,122.2L201.8,121.6L202.8,121.0L203.8,120.4L204.8,119.7L205.7,119.1L206.7,118.5L207.7,117.9L208.7,117.3L209.7,116.8L210.7,116.3L211.7,115.8L212.7,115.4L213.7,115.1L214.7,114.8L215.7,114.6L216.7,114.4L217.7,114.3L218.7,114.3L219.7,114.4L220.7,114.5L221.7,114.6L222.7,114.9L223.7,115.1L224.7,115.4L225.7,115.8L226.7,116.1L227.6,116.6L228.6,117.0L229.6,117.5L230.6,118.0L231.6,118.5L232.6,119.1L233.6,119.6L234.6,120.2L235.6,120.8L236.6,121.3L237.6,121.9L238.6,122.4L239.6,123.0L240.6,123.5L241.6,124.0L242.6,124.5L243.6,125.0L244.6,125.5L245.6,125.9L246.6,126.3L247.6,126.7L248.6,127.0L249.6,127.4L250.5,127.7L251.5,128.0L252.5,128.3L253.5,128.5L254.5,128.7L255.5,129.0L256.5,129.1L257.5,129.3L258.5,129.5L259.5,129.6L260.5,129.7L261.5,129.9" fill="none" stroke="#10E010" stroke-width="1.4" stroke-linejoin="round"/>
<path d="M35.5,127.0L36.5,127.0L37.5,127.0L38.5,127.1L39.5,127.1L40.5,127.1L41.5,127.1L42.5,127.1L43.5,127.1L44.5,127.1L45.5,127.2L46.5,127.2L47.4,127.2L48.4,127.2L49.4,127.2L50.4,127.2L51.4,127.3L52.4,127.3L53.4,127.3L54.4,127.3L55.4,127.3L56.4,127.3L57.4,127.3L58.4,127.4L59.4,127.4L60.4,127.4L61.4,127.4L62.4,127.4L63.4,127.4L64.4,127.5L65.4,127.5L66.4,127.5L67.4,127.5L68.4,127.5L69.4,127.5L70.3,127.5L71.3,127.6L72.3,127.6L73.3,127.6L74.3,127.6L75.3,127.6L76.3,127.6L77.3,127.7L78.3,127.7L79.3,127.7L80.3,127.7L81.3,127.7L82.3,127.7L83.3,127.7L84.3,127.8L85.3,127.8L86.3,127.8L87.3,127.8L88.3,127.8L89.3,127.8L90.3,127.8L91.3,127.9L92.2,127.9L93.2,127.9L94.2,127.9L95.2,127.9L96.2,127.9L97.2,127.9L98.2,127.9L99.2,128.0L100.2,128.0L101.2,128.0L102.2,128.0L103.2,128.0L104.2,128.0L105.2,128.0L106.2,128.0L107.2,128.0L108.2,128.0L109.2,128.0L110.2,127.9L111.2,127.9L112.2,127.9L113.2,127.9L114.2,127.8L115.1,127.8L116.1,127.7L117.1,127.7L118.1,127.6L119.1,127.6L120.1,127.5L121.1,127.4L122.1,127.3L123.1,127.2L124.1,127.0L125.1,126.9L126.1,126.8L127.1,126.6L128.1,126.4L129.1,126.2L130.1,126.0L131.1,125.7L132.1,125.5L133.1,125.2L134.1,124.9L135.1,124.6L136.1,124.3L137.1,124.0L138.0,123.6L139.0,123.2L140.0,122.8L141.0,122.4L142.0,122.0L143.0,121.6L144.0,121.1L145.0,120.7L146.0,120.2L147.0,119.7L148.0,119.2L149.0,118.8L150.0,118.3L151.0,117.8L152.0,117.3L153.0,116.8L154.0,116.4L155.0,115.9L156.0,115.5L157.0,115.1L158.0,114.7L159.0,114.4L159.9,114.0L160.9,113.7L161.9,113.5L162.9,113.2L163.9,113.0L164.9,112.8L165.9,112.7L166.9,112.6L167.9,112.6L168.9,112.6L169.9,112.6L170.9,112.7L171.9,112.8L172.9,112.9L173.9,113.1L174.9,113.4L175.9,113.6L176.9,113.9L177.9,114.2L178.9,114.6L179.9,115.0L180.9,115.4L181.9,115.8L182.8,116.3L183.8,116.8L184.8,117.3L185.8,117.7L186.8,118.3L187.8,118.8L188.8,119.3L189.8,119.8L190.8,120.3L191.8,120.8L192.8,121.3L193.8,121.8L194.8,122.3L195.8,122.8L196.8,123.2L197.8,123.7L198.8,124.1L199.8,124.5L200.8,124.9L201.8,125.3L202.8,125.6L203.8,126.0L204.8,126.3L205.7,126.6L206.7,126.9L207.7,127.1L208.7,127.4L209.7,127.6L210.7,127.8L211.7,128.0L212.7,128.2L213.7,128.4L214.7,128.6L215.7,128.7L216.7,128.8L217.7,129.0L218.7,129.1L219.7,129.2L220.7,129.3L221.7,129.4L222.7,129.4L223.7,129.5L224.7,129.6L225.7,129.6L226.7,129.7L227.6,129.7L228.6,129.8L229.6,129.8L230.6,129.9L231.6,129.9L232.6,129.9L233.6,130.0L234.6,130.0L235.6,130.0L236.6,130.1L237.6,130.1L238.6,130.1L239.6,130.1L240.6,130.1L241.6,130.2L242.6,130.2L243.6,130.2L244.6,130.2L245.6,130.2L246.6,130.3L247.6,130.3L248.6,130.3L249.6,130.3L250.5,130.3L251.5,130.3L252.5,130.4L253.5,130.4L254.5,130.4L255.5,130.4L256.5,130.4L257.5,130.4L258.5,130.4L259.5,130.5L260.5,130.5L261.5,130.5" fill="none" stroke="#0000F0" stroke-width="1.4" stroke-linejoin="round"/>
<path d="M35.5,127.0L36.5,127.0L37.5,127.0L38.5,127.0L39.5,127.0L40.5,127.0L41.5,127.0L42.5,127.0L43.5,127.0L44.5,127.1L45.5,127.1L46.5,127.1L47.4,127.1L48.4,127.1L49.4,127.1L50.4,127.1L51.4,127.1L52.4,127.1L53.4,127.1L54.4,127.1L55.4,127.1L56.4,127.1L57.4,127.1L58.4,127.1L59.4,127.1L60.4,127.1L61.4,127.1L62.4,127.0L63.4,127.0L64.4,127.0L65.4,127.0L66.4,127.0L67.4,127.0L68.4,127.0L69.4,126.9L70.3,126.9L71.3,126.9L72.3,126.9L73.3,126.8L74.3,126.8L75.3,126.8L76.3,126.8L77.3,126.7L78.3,126.7L79.3,126.6L80.3,126.6L81.3,126.6L82.3,126.5L83.3,126.5L84.3,126.4L85.3,126.4L86.3,126.3L87.3,126.3L88.3,126.3L89.3,126.2L90.3,126.1L91.3,126.1L92.2,126.0L93.2,126.0L94.2,125.9L95.2,125.9L96.2,125.8L97.2,125.8L98.2,125.7L99.2,125.7L100.2,125.6L101.2,125.5L102.2,125.5L103.2,125.4L104.2,125.4L105.2,125.3L106.2,125.2L107.2,125.2L108.2,125.1L109.2,125.0L110.2,125.0L111.2,124.9L112.2,124.8L113.2,124.7L114.2,124.7L115.1,124.6L116.1,124.5L117.1,124.4L118.1,124.3L119.1,124.2L120.1,124.1L121.1,124.0L122.1,123.8L123.1,123.7L124.1,123.6L125.1,123.4L126.1,123.2L127.1,123.1L128.1,122.9L129.1,122.7L130.1,122.4L131.1,122.2L132.1,121.9L133.1,121.6L134.1,121.3L135.1,121.0L136.1,120.7L137.1,120.3L138.0,119.9L139.0,119.5L140.0,119.1L141.0,118.7L142.0,118.3L143.0,117.8L144.0,117.4L145.0,116.9L146.0,116.4L147.0,115.9L148.0,115.4L149.0,114.9L150.0,114.4L151.0,113.9L152.0,113.4L153.0,113.0L154.0,112.5L155.0,112.0L156.0,111.6L157.0,111.2L158.0,110.8L159.0,110.4L159.9,110.0L160.9,109.7L161.9,109.4L162.9,109.2L163.9,109.0L164.9,108.8L165.9,108.6L166.9,108.5L167.9,108.5L168.9,108.4L169.9,108.4L170.9,108.5L171.9,108.6L172.9,108.7L173.9,108.9L174.9,109.1L175.9,109.3L176.9,109.6L177.9,109.9L178.9,110.2L179.9,110.5L180.9,110.8L181.9,111.2L182.8,111.5L183.8,111.9L184.8,112.2L185.8,112.6L186.8,112.9L187.8,113.2L188.8,113.5L189.8,113.8L190.8,114.0L191.8,114.2L192.8,114.3L193.8,114.5L194.8,114.6L195.8,114.6L196.8,114.6L197.8,114.6L198.8,114.5L199.8,114.3L200.8,114.2L201.8,114.0L202.8,113.8L203.8,113.5L204.8,113.3L205.7,113.0L206.7,112.7L207.7,112.4L208.7,112.1L209.7,111.9L210.7,111.6L211.7,111.4L212.7,111.3L213.7,111.2L214.7,111.1L215.7,111.1L216.7,111.1L217.7,111.2L218.7,111.3L219.7,111.5L220.7,111.8L221.7,112.1L222.7,112.4L223.7,112.8L224.7,113.2L225.7,113.7L226.7,114.1L227.6,114.7L228.6,115.2L229.6,115.8L230.6,116.4L231.6,117.0L232.6,117.6L233.6,118.2L234.6,118.8L235.6,119.5L236.6,120.1L237.6,120.7L238.6,121.3L239.6,121.9L240.6,122.5L241.6,123.0L242.6,123.6L243.6,124.1L244.6,124.6L245.6,125.1L246.6,125.5L247.6,125.9L248.6,126.3L249.6,126.7L250.5,127.1L251.5,127.4L252.5,127.7L253.5,128.0L254.5,128.2L255.5,128.5L256.5,128.7L257.5,128.9L258.5,129.0L259.5,129.2L260.5,129.4L261.5,129.5" fill="none" stroke="#F00010" stroke-width="1.9" stroke-linejoin="round"/>
<path d="M35.5,173.6L36.5,173.6L37.5,173.6L38.5,173.6L39.5,173.6L40.5,173.6L41.5,173.6L42.5,173.6L43.5,173.6L44.5,173.6L45.5,173.6L46.5,173.6L47.4,173.6L48.4,173.6L49.4,173.6L50.4,173.6L51.4,173.6L52.4,173.6L53.4,173.6L54.4,173.6L55.4,173.6L56.4,173.6L57.4,173.6L58.4,173.6L59.4,173.6L60.4,173.6L61.4,173.6L62.4,173.6L63.4,173.6L64.4,173.6L65.4,173.6L66.4,173.6L67.4,173.6L68.4,173.6L69.4,173.6L70.3,173.6L71.3,173.6L72.3,173.6L73.3,173.6L74.3,173.6L75.3,173.6L76.3,173.6L77.3,173.6L78.3,173.6L79.3,173.6L80.3,173.6L81.3,173.6L82.3,173.6L83.3,173.6L84.3,173.6L85.3,173.6L86.3,173.6L87.3,173.6L88.3,173.6L89.3,173.6L90.3,173.6L91.3,173.6L92.2,173.6L93.2,173.6L94.2,173.6L95.2,173.6L96.2,173.6L97.2,173.6L98.2,173.6L99.2,173.6L100.2,173.6L101.2,173.6L102.2,173.6L103.2,173.6L104.2,173.6L105.2,173.6L106.2,173.6L107.2,173.6L108.2,173.6L109.2,173.6L110.2,173.6L111.2,173.6L112.2,173.6L113.2,173.6L114.2,173.6L115.1,173.6L116.1,173.6L117.1,173.6L118.1,173.6L119.1,173.6L120.1,173.6L121.1,173.5L122.1,173.5L123.1,173.5L124.1,173.5L125.1,173.5L126.1,173.4L127.1,173.4L128.1,173.4L129.1,173.3L130.1,173.2L131.1,173.2L132.1,173.1L133.1,173.0L134.1,172.9L135.1,172.8L136.1,172.6L137.1,172.5L138.0,172.3L139.0,172.1L140.0,171.8L141.0,171.6L142.0,171.3L143.0,170.9L144.0,170.6L145.0,170.2L146.0,169.8L147.0,169.3L148.0,168.9L149.0,168.3L150.0,167.8L151.0,167.2L152.0,166.6L153.0,166.0L154.0,165.3L155.0,164.7L156.0,164.0L157.0,163.3L158.0,162.6L159.0,161.9L159.9,161.2L160.9,160.6L161.9,159.9L162.9,159.3L163.9,158.8L164.9,158.2L165.9,157.8L166.9,157.3L167.9,157.0L168.9,156.7L169.9,156.5L170.9,156.3L171.9,156.2L172.9,156.2L173.9,156.3L174.9,156.4L175.9,156.6L176.9,156.9L177.9,157.3L178.9,157.7L179.9,158.1L180.9,158.6L181.9,159.2L182.8,159.8L183.8,160.4L184.8,161.1L185.8,161.8L186.8,162.4L187.8,163.1L188.8,163.8L189.8,164.5L190.8,165.2L191.8,165.8L192.8,166.5L193.8,167.1L194.8,167.7L195.8,168.2L196.8,168.7L197.8,169.2L198.8,169.7L199.8,170.1L200.8,170.5L201.8,170.9L202.8,171.2L203.8,171.5L204.8,171.8L205.7,172.0L206.7,172.2L207.7,172.4L208.7,172.6L209.7,172.7L210.7,172.9L211.7,173.0L212.7,173.1L213.7,173.2L214.7,173.2L215.7,173.3L216.7,173.3L217.7,173.4L218.7,173.4L219.7,173.5L220.7,173.5L221.7,173.5L222.7,173.5L223.7,173.5L224.7,173.6L225.7,173.6L226.7,173.6L227.6,173.6L228.6,173.6L229.6,173.6L230.6,173.6L231.6,173.6L232.6,173.6L233.6,173.6L234.6,173.6L235.6,173.6L236.6,173.6L237.6,173.6L238.6,173.6L239.6,173.6L240.6,173.6L241.6,173.6L242.6,173.6L243.6,173.6L244.6,173.6L245.6,173.6L246.6,173.6L247.6,173.6L248.6,173.6L249.6,173.6L250.5,173.6L251.5,173.6L252.5,173.6L253.5,173.6L254.5,173.6L255.5,173.6L256.5,173.6L257.5,173.6L258.5,173.6L259.5,173.6L260.5,173.6L261.5,173.6" fill="none" stroke="#0000F0" stroke-width="1.4" stroke-linejoin="round"/>
<path d="M35.5,173.6L36.5,173.6L37.5,173.6L38.5,173.6L39.5,173.6L40.5,173.6L41.5,173.6L42.5,173.6L43.5,173.6L44.5,173.6L45.5,173.6L46.5,173.6L47.4,173.6L48.4,173.6L49.4,173.6L50.4,173.6L51.4,173.6L52.4,173.6L53.4,173.6L54.4,173.6L55.4,173.6L56.4,173.6L57.4,173.6L58.4,173.6L59.4,173.6L60.4,173.6L61.4,173.6L62.4,173.6L63.4,173.6L64.4,173.6L65.4,173.6L66.4,173.6L67.4,173.6L68.4,173.6L69.4,173.6L70.3,173.6L71.3,173.6L72.3,173.6L73.3,173.6L74.3,173.6L75.3,173.6L76.3,173.6L77.3,173.6L78.3,173.6L79.3,173.6L80.3,173.6L81.3,173.6L82.3,173.6L83.3,173.6L84.3,173.6L85.3,173.6L86.3,173.6L87.3,173.6L88.3,173.6L89.3,173.6L90.3,173.6L91.3,173.6L92.2,173.6L93.2,173.6L94.2,173.6L95.2,173.6L96.2,173.6L97.2,173.6L98.2,173.6L99.2,173.6L100.2,173.6L101.2,173.6L102.2,173.6L103.2,173.6L104.2,173.6L105.2,173.6L106.2,173.6L107.2,173.6L108.2,173.6L109.2,173.6L110.2,173.6L111.2,173.6L112.2,173.6L113.2,173.6L114.2,173.6L115.1,173.6L116.1,173.6L117.1,173.6L118.1,173.6L119.1,173.6L120.1,173.6L121.1,173.6L122.1,173.6L123.1,173.6L124.1,173.6L125.1,173.6L126.1,173.6L127.1,173.6L128.1,173.6L129.1,173.6L130.1,173.6L131.1,173.6L132.1,173.6L133.1,173.6L134.1,173.6L135.1,173.6L136.1,173.6L137.1,173.6L138.0,173.6L139.0,173.6L140.0,173.6L141.0,173.6L142.0,173.6L143.0,173.6L144.0,173.6L145.0,173.6L146.0,173.6L147.0,173.6L148.0,173.6L149.0,173.6L150.0,173.6L151.0,173.6L152.0,173.6L153.0,173.6L154.0,173.6L155.0,173.6L156.0,173.6L157.0,173.6L158.0,173.6L159.0,173.6L159.9,173.6L160.9,173.6L161.9,173.6L162.9,173.6L163.9,173.6L164.9,173.6L165.9,173.6L166.9,173.6L167.9,173.6L168.9,173.5L169.9,173.5L170.9,173.5L171.9,173.5L172.9,173.5L173.9,173.4L174.9,173.4L175.9,173.3L176.9,173.2L177.9,173.2L178.9,173.1L179.9,172.9L180.9,172.8L181.9,172.6L182.8,172.4L183.8,172.2L184.8,171.9L185.8,171.6L186.8,171.3L187.8,170.9L188.8,170.5L189.8,170.0L190.8,169.5L191.8,168.9L192.8,168.3L193.8,167.6L194.8,166.9L195.8,166.1L196.8,165.3L197.8,164.5L198.8,163.7L199.8,162.8L200.8,162.0L201.8,161.1L202.8,160.3L203.8,159.5L204.8,158.8L205.7,158.1L206.7,157.4L207.7,156.9L208.7,156.4L209.7,156.0L210.7,155.7L211.7,155.5L212.7,155.4L213.7,155.4L214.7,155.6L215.7,155.8L216.7,156.1L217.7,156.6L218.7,157.1L219.7,157.7L220.7,158.4L221.7,159.1L222.7,159.9L223.7,160.7L224.7,161.5L225.7,162.4L226.7,163.2L227.6,164.0L228.6,164.9L229.6,165.7L230.6,166.5L231.6,167.2L232.6,167.9L233.6,168.5L234.6,169.1L235.6,169.7L236.6,170.2L237.6,170.6L238.6,171.1L239.6,171.4L240.6,171.8L241.6,172.0L242.6,172.3L243.6,172.5L244.6,172.7L245.6,172.8L246.6,173.0L247.6,173.1L248.6,173.2L249.6,173.3L250.5,173.3L251.5,173.4L252.5,173.4L253.5,173.5L254.5,173.5L255.5,173.5L256.5,173.5L257.5,173.6L258.5,173.6L259.5,173.6L260.5,173.6L261.5,173.6" fill="none" stroke="#10E010" stroke-width="1.4" stroke-linejoin="round"/>
<path d="M35.5,173.6L36.5,173.6L37.5,173.6L38.5,173.6L39.5,173.6L40.5,173.6L41.5,173.6L42.5,173.6L43.5,173.6L44.5,173.6L45.5,173.6L46.5,173.6L47.4,173.6L48.4,173.6L49.4,173.6L50.4,173.6L51.4,173.6L52.4,173.6L53.4,173.6L54.4,173.6L55.4,173.6L56.4,173.6L57.4,173.6L58.4,173.6L59.4,173.6L60.4,173.6L61.4,173.6L62.4,173.6L63.4,173.6L64.4,173.6L65.4,173.6L66.4,173.6L67.4,173.6L68.4,173.6L69.4,173.6L70.3,173.6L71.3,173.6L72.3,173.6L73.3,173.6L74.3,173.5L75.3,173.5L76.3,173.5L77.3,173.5L78.3,173.5L79.3,173.5L80.3,173.4L81.3,173.4L82.3,173.4L83.3,173.4L84.3,173.3L85.3,173.3L86.3,173.2L87.3,173.2L88.3,173.1L89.3,173.1L90.3,173.0L91.3,172.9L92.2,172.8L93.2,172.7L94.2,172.6L95.2,172.5L96.2,172.4L97.2,172.3L98.2,172.1L99.2,172.0L100.2,171.8L101.2,171.6L102.2,171.4L103.2,171.2L104.2,171.0L105.2,170.8L106.2,170.6L107.2,170.3L108.2,170.1L109.2,169.8L110.2,169.5L111.2,169.2L112.2,168.9L113.2,168.6L114.2,168.3L115.1,168.0L116.1,167.7L117.1,167.4L118.1,167.1L119.1,166.8L120.1,166.5L121.1,166.2L122.1,166.0L123.1,165.7L124.1,165.5L125.1,165.2L126.1,165.0L127.1,164.8L128.1,164.6L129.1,164.5L130.1,164.3L131.1,164.2L132.1,164.1L133.1,164.0L134.1,164.0L135.1,164.0L136.1,164.0L137.1,164.1L138.0,164.2L139.0,164.4L140.0,164.6L141.0,164.9L142.0,165.1L143.0,165.5L144.0,165.8L145.0,166.2L146.0,166.6L147.0,167.0L148.0,167.4L149.0,167.8L150.0,168.2L151.0,168.6L152.0,169.0L153.0,169.4L154.0,169.8L155.0,170.1L156.0,170.5L157.0,170.8L158.0,171.1L159.0,171.4L159.9,171.6L160.9,171.9L161.9,172.1L162.9,172.3L163.9,172.5L164.9,172.6L165.9,172.8L166.9,172.9L167.9,173.0L168.9,173.1L169.9,173.2L170.9,173.2L171.9,173.3L172.9,173.4L173.9,173.4L174.9,173.4L175.9,173.5L176.9,173.5L177.9,173.5L178.9,173.5L179.9,173.5L180.9,173.6L181.9,173.6L182.8,173.6L183.8,173.6L184.8,173.6L185.8,173.6L186.8,173.6L187.8,173.6L188.8,173.6L189.8,173.6L190.8,173.6L191.8,173.6L192.8,173.6L193.8,173.6L194.8,173.6L195.8,173.6L196.8,173.6L197.8,173.6L198.8,173.6L199.8,173.6L200.8,173.6L201.8,173.6L202.8,173.6L203.8,173.6L204.8,173.6L205.7,173.6L206.7,173.6L207.7,173.6L208.7,173.6L209.7,173.6L210.7,173.6L211.7,173.6L212.7,173.6L213.7,173.6L214.7,173.6L215.7,173.6L216.7,173.6L217.7,173.6L218.7,173.6L219.7,173.6L220.7,173.6L221.7,173.6L222.7,173.6L223.7,173.6L224.7,173.6L225.7,173.6L226.7,173.6L227.6,173.6L228.6,173.6L229.6,173.6L230.6,173.6L231.6,173.6L232.6,173.6L233.6,173.6L234.6,173.6L235.6,173.6L236.6,173.6L237.6,173.6L238.6,173.6L239.6,173.6L240.6,173.6L241.6,173.6L242.6,173.6L243.6,173.6L244.6,173.6L245.6,173.6L246.6,173.6L247.6,173.6L248.6,173.6L249.6,173.6L250.5,173.6L251.5,173.6L252.5,173.6L253.5,173.6L254.5,173.6L255.5,173.6L256.5,173.6L257.5,173.6L258.5,173.6L259.5,173.6L260.5,173.6L261.5,173.6" fill="none" stroke="#FF00FF" stroke-width="1.4" stroke-linejoin="round"/>
<path d="M35.5,173.5L36.5,173.5L37.5,173.5L38.5,173.5L39.5,173.5L40.5,173.5L41.5,173.5L42.5,173.5L43.5,173.5L44.5,173.4L45.5,173.4L46.5,173.4L47.4,173.4L48.4,173.4L49.4,173.4L50.4,173.4L51.4,173.4L52.4,173.3L53.4,173.3L54.4,173.3L55.4,173.3L56.4,173.3L57.4,173.3L58.4,173.2L59.4,173.2L60.4,173.2L61.4,173.2L62.4,173.1L63.4,173.1L64.4,173.1L65.4,173.0L66.4,173.0L67.4,172.9L68.4,172.8L69.4,172.8L70.3,172.7L71.3,172.7L72.3,172.6L73.3,172.5L74.3,172.5L75.3,172.4L76.3,172.3L77.3,172.3L78.3,172.2L79.3,172.2L80.3,172.1L81.3,172.0L82.3,172.0L83.3,171.9L84.3,171.8L85.3,171.8L86.3,171.7L87.3,171.6L88.3,171.5L89.3,171.5L90.3,171.4L91.3,171.3L92.2,171.2L93.2,171.1L94.2,171.1L95.2,171.0L96.2,170.9L97.2,170.8L98.2,170.7L99.2,170.6L100.2,170.5L101.2,170.4L102.2,170.3L103.2,170.1L104.2,170.0L105.2,169.9L106.2,169.8L107.2,169.6L108.2,169.5L109.2,169.3L110.2,169.2L111.2,169.0L112.2,168.8L113.2,168.6L114.2,168.5L115.1,168.3L116.1,168.0L117.1,167.8L118.1,167.6L119.1,167.4L120.1,167.1L121.1,166.8L122.1,166.4L123.1,166.1L124.1,165.7L125.1,165.2L126.1,164.8L127.1,164.3L128.1,163.9L129.1,163.4L130.1,162.9L131.1,162.3L132.1,161.8L133.1,161.3L134.1,160.8L135.1,160.2L136.1,159.7L137.1,159.2L138.0,158.7L139.0,158.2L140.0,157.7L141.0,157.3L142.0,156.7L143.0,156.2L144.0,155.7L145.0,155.2L146.0,154.6L147.0,154.1L148.0,153.5L149.0,153.0L150.0,152.5L151.0,151.9L152.0,151.4L153.0,150.9L154.0,150.4L155.0,149.9L156.0,149.4L157.0,148.9L158.0,148.5L159.0,148.1L159.9,147.7L160.9,147.3L161.9,147.0L162.9,146.6L163.9,146.2L164.9,145.8L165.9,145.4L166.9,145.1L167.9,144.8L168.9,144.6L169.9,144.5L170.9,144.4L171.9,144.4L172.9,144.5L173.9,144.6L174.9,144.7L175.9,144.8L176.9,145.0L177.9,145.2L178.9,145.4L179.9,145.6L180.9,145.8L181.9,146.0L182.8,146.2L183.8,146.5L184.8,146.8L185.8,147.2L186.8,147.6L187.8,148.0L188.8,148.4L189.8,148.8L190.8,149.1L191.8,149.5L192.8,149.7L193.8,150.0L194.8,150.1L195.8,150.3L196.8,150.4L197.8,150.6L198.8,150.7L199.8,150.8L200.8,150.9L201.8,151.0L202.8,151.1L203.8,151.1L204.8,151.2L205.7,151.2L206.7,151.2L207.7,151.3L208.7,151.3L209.7,151.3L210.7,151.4L211.7,151.4L212.7,151.5L213.7,151.5L214.7,151.6L215.7,151.7L216.7,151.8L217.7,152.0L218.7,152.3L219.7,152.7L220.7,153.0L221.7,153.5L222.7,153.9L223.7,154.4L224.7,154.8L225.7,155.3L226.7,155.9L227.6,156.5L228.6,157.1L229.6,157.8L230.6,158.5L231.6,159.2L232.6,159.9L233.6,160.6L234.6,161.3L235.6,161.9L236.6,162.6L237.6,163.2L238.6,163.9L239.6,164.5L240.6,165.2L241.6,165.8L242.6,166.4L243.6,167.1L244.6,167.7L245.6,168.2L246.6,168.8L247.6,169.3L248.6,169.8L249.6,170.3L250.5,170.8L251.5,171.2L252.5,171.7L253.5,172.1L254.5,172.5L255.5,172.8L256.5,173.0L257.5,173.2L258.5,173.3L259.5,173.4L260.5,173.5L261.5,173.6" fill="none" stroke="#F00010" stroke-width="1.9" stroke-linejoin="round"/>
</g>
<rect x="35" y="14.8" width="227" height="164.39999999999998" fill="none" stroke="#1a1a1a" stroke-width="1.8"/>
<line x1="35.0" y1="179.2" x2="35.0" y2="181.7" stroke="#000" stroke-width="1.3"/>
<text x="35.0" y="192.5" font-size="10.5" text-anchor="middle" >536</text>
<line x1="91.75" y1="179.2" x2="91.75" y2="181.7" stroke="#000" stroke-width="1.3"/>
<text x="91.75" y="192.5" font-size="10.5" text-anchor="middle" >534</text>
<line x1="148.5" y1="179.2" x2="148.5" y2="181.7" stroke="#000" stroke-width="1.3"/>
<text x="148.5" y="192.5" font-size="10.5" text-anchor="middle" >532</text>
<line x1="205.25" y1="179.2" x2="205.25" y2="181.7" stroke="#000" stroke-width="1.3"/>
<text x="205.25" y="192.5" font-size="10.5" text-anchor="middle" >530</text>
<line x1="262.0" y1="179.2" x2="262.0" y2="181.7" stroke="#000" stroke-width="1.3"/>
<text x="262.0" y="192.5" font-size="10.5" text-anchor="middle" >528</text>
<text x="10.5" y="32" font-size="19" text-anchor="start" >(a)</text>
<text x="35.8" y="29.5" font-size="14" text-anchor="start" >O 1s</text>
<text x="36.4" y="41.3" font-size="13.8" text-anchor="start" >FM-2-1.0NF</text>
<text x="36.4" y="67.6" font-size="13.5">1000<tspan font-size="9.45" dy="-5.13">th</tspan><tspan dy="5.13"> cycle</tspan></text>
<text x="38.2" y="85.5" font-size="13.8" text-anchor="start" >FM-2-1.0NF</text>
<text x="38.7" y="120.4" font-size="13.8" text-anchor="start" >FM-2-0.5NF</text>
<text x="36.4" y="144.2" font-size="13.5">1000<tspan font-size="9.45" dy="-5.13">th</tspan><tspan dy="5.13"> cycle</tspan></text>
<text x="38.7" y="168.2" font-size="13.8" text-anchor="start" >FM-2-0.5NF</text>
<text x="112.4" y="25.3" font-size="12.5">O<tspan font-size="7" dy="3">III</tspan></text>
<text x="206" y="27.1" font-size="12.5">O<tspan font-size="7" dy="2.5">II</tspan></text>
<text x="248" y="35.6" font-size="12.5">O<tspan font-size="7" dy="2.5">I</tspan></text>
<line x1="115.30" y1="29.30" x2="116.02" y2="39.51" stroke="#000" stroke-width="1.5"/>
<polygon points="116.30,43.50 113.75,38.67 118.14,38.36" fill="#000"/>
<line x1="120.40" y1="27.10" x2="131.18" y2="37.96" stroke="#000" stroke-width="1.6"/>
<polygon points="134.00,40.80 128.63,39.08 132.32,35.42" fill="#000"/>
<line x1="201.60" y1="29.50" x2="187.90" y2="32.22" stroke="#000" stroke-width="1.8"/>
<polygon points="183.00,33.20 188.34,29.28 189.43,34.78" fill="#000"/>
<line x1="246.50" y1="34.10" x2="231.37" y2="37.66" stroke="#000" stroke-width="1.8"/>
<polygon points="226.50,38.80 231.70,34.70 232.98,40.15" fill="#000"/>
<text x="88.4" y="211.5" font-size="13.7" text-anchor="start" >Binding Energy (eV)</text>
<text transform="translate(25.7,138.4) rotate(-90)" font-size="14.3"><tspan x="0" y="0" textLength="51.7" lengthAdjust="spacingAndGlyphs">Intensity</tspan><tspan x="59" y="0" textLength="34" lengthAdjust="spacingAndGlyphs">(a. u.)</tspan></text>
<rect x="306.00" y="42.2" width="56.88" height="18.2" fill="#F9C890" stroke="#C79A6A" stroke-width="0.8"/>
<text x="334.44" y="56.10" font-size="13.2" text-anchor="middle" >25</text>
<rect x="362.88" y="42.2" width="138.78" height="18.2" fill="#9DD59A" stroke="#6E9E6C" stroke-width="0.8"/>
<text x="432.26" y="56.10" font-size="13.2" text-anchor="middle" >61</text>
<rect x="501.65" y="42.2" width="31.85" height="18.2" fill="#C3B1D9" stroke="#8F7FA6" stroke-width="0.8"/>
<text x="517.57" y="56.10" font-size="13.2" text-anchor="middle" >14</text>
<rect x="306.00" y="78.4" width="59.15" height="18.2" fill="#F9C890" stroke="#C79A6A" stroke-width="0.8"/>
<text x="335.57" y="92.30" font-size="13.2" text-anchor="middle" >26</text>
<rect x="365.15" y="78.4" width="131.95" height="18.2" fill="#9DD59A" stroke="#6E9E6C" stroke-width="0.8"/>
<text x="431.12" y="92.30" font-size="13.2" text-anchor="middle" >58</text>
<rect x="497.10" y="78.4" width="36.40" height="18.2" fill="#C3B1D9" stroke="#8F7FA6" stroke-width="0.8"/>
<text x="515.30" y="92.30" font-size="13.2" text-anchor="middle" >16</text>
<rect x="306.00" y="115.0" width="77.35" height="18.2" fill="#F9C890" stroke="#C79A6A" stroke-width="0.8"/>
<text x="344.68" y="128.90" font-size="13.2" text-anchor="middle" >34</text>
<rect x="383.35" y="115.0" width="97.83" height="18.2" fill="#9DD59A" stroke="#6E9E6C" stroke-width="0.8"/>
<text x="432.26" y="128.90" font-size="13.2" text-anchor="middle" >43</text>
<rect x="481.18" y="115.0" width="52.33" height="18.2" fill="#C3B1D9" stroke="#8F7FA6" stroke-width="0.8"/>
<text x="507.34" y="128.90" font-size="13.2" text-anchor="middle" >23</text>
<rect x="306.00" y="151.9" width="68.25" height="18.2" fill="#F9C890" stroke="#C79A6A" stroke-width="0.8"/>
<text x="340.12" y="165.80" font-size="13.2" text-anchor="middle" >30</text>
<rect x="374.25" y="151.9" width="75.08" height="18.2" fill="#9DD59A" stroke="#6E9E6C" stroke-width="0.8"/>
<text x="411.79" y="165.80" font-size="13.2" text-anchor="middle" >33</text>
<rect x="449.32" y="151.9" width="84.17" height="18.2" fill="#C3B1D9" stroke="#8F7FA6" stroke-width="0.8"/>
<text x="491.41" y="165.80" font-size="13.2" text-anchor="middle" >37</text>
<rect x="306" y="14.8" width="227.5" height="164.2" fill="none" stroke="#1a1a1a" stroke-width="1.8"/>
<line x1="306.0" y1="179" x2="306.0" y2="176" stroke="#000" stroke-width="1.3"/>
<text x="306.0" y="193" font-size="10.5" text-anchor="middle" >0</text>
<line x1="351.5" y1="179" x2="351.5" y2="176" stroke="#000" stroke-width="1.3"/>
<text x="351.5" y="193" font-size="10.5" text-anchor="middle" >20</text>
<line x1="397.0" y1="179" x2="397.0" y2="176" stroke="#000" stroke-width="1.3"/>
<text x="397.0" y="193" font-size="10.5" text-anchor="middle" >40</text>
<line x1="442.5" y1="179" x2="442.5" y2="176" stroke="#000" stroke-width="1.3"/>
<text x="442.5" y="193" font-size="10.5" text-anchor="middle" >60</text>
<line x1="488.0" y1="179" x2="488.0" y2="176" stroke="#000" stroke-width="1.3"/>
<text x="488.0" y="193" font-size="10.5" text-anchor="middle" >80</text>
<line x1="533.5" y1="179" x2="533.5" y2="176" stroke="#000" stroke-width="1.3"/>
<text x="533.5" y="193" font-size="10.5" text-anchor="middle" >100</text>
<text x="278.5" y="30.3" font-size="18.5" text-anchor="start" >(b)</text>
<rect x="337" y="28" width="19" height="8.8" fill="#F9C890" stroke="#C79A6A" stroke-width="0.8"/>
<text x="359" y="35" font-size="14.5">O<tspan font-size="11.5" dy="3.3">I</tspan></text>
<rect x="414.7" y="28" width="19" height="8.8" fill="#9DD59A" stroke="#6E9E6C" stroke-width="0.8"/>
<text x="436.7" y="35" font-size="14.5">O<tspan font-size="11.5" dy="3.3">II</tspan></text>
<rect x="486" y="28" width="19" height="8.8" fill="#C3B1D9" stroke="#8F7FA6" stroke-width="0.8"/>
<text x="508" y="35" font-size="14.5">O<tspan font-size="11.5" dy="3.3">III</tspan></text>
<text x="263.2" y="66.4" font-size="15" text-anchor="start" >FM-2-</text>
<text x="263.2" y="86" font-size="15" text-anchor="start" >1.0NF</text>
<text x="263.2" y="143.5" font-size="15" text-anchor="start" >FM-2-</text>
<text x="263.2" y="163.1" font-size="15" text-anchor="start" >0.5NF</text>
<text x="308.7" y="76.2" font-size="11.5">1000<tspan font-size="8.05" dy="-4.37">th</tspan><tspan dy="4.37"> cycle</tspan></text>
<text x="308.7" y="149.7" font-size="11.5">1000<tspan font-size="8.05" dy="-4.37">th</tspan><tspan dy="4.37"> cycle</tspan></text>
<text x="383.1" y="209.5" font-size="13.8" text-anchor="start" >Content (%)</text>
<clipPath id="cc"><rect x="35" y="217.5" width="227" height="164.5"/></clipPath><g clip-path="url(#cc)">
<path d="M35.5,321.0L36.5,321.0L37.5,321.1L38.5,321.1L39.5,321.1L40.5,321.1L41.5,321.2L42.5,321.2L43.5,321.2L44.5,321.2L45.5,321.3L46.5,321.3L47.4,321.3L48.4,321.3L49.4,321.4L50.4,321.4L51.4,321.4L52.4,321.4L53.4,321.5L54.4,321.5L55.4,321.5L56.4,321.5L57.4,321.6L58.4,321.6L59.4,321.6L60.4,321.6L61.4,321.7L62.4,321.7L63.4,321.7L64.4,321.8L65.4,321.8L66.4,321.8L67.4,321.8L68.4,321.9L69.4,321.9L70.3,321.9L71.3,321.9L72.3,322.0L73.3,322.0L74.3,322.0L75.3,322.0L76.3,322.0L77.3,322.1L78.3,322.1L79.3,322.1L80.3,322.1L81.3,322.1L82.3,322.1L83.3,322.2L84.3,322.2L85.3,322.1L86.3,322.1L87.3,322.1L88.3,322.1L89.3,322.0L90.3,322.0L91.3,321.9L92.2,321.8L93.2,321.6L94.2,321.5L95.2,321.3L96.2,321.1L97.2,320.8L98.2,320.5L99.2,320.2L100.2,319.8L101.2,319.3L102.2,318.9L103.2,318.3L104.2,317.8L105.2,317.2L106.2,316.5L107.2,315.8L108.2,315.1L109.2,314.4L110.2,313.7L111.2,313.0L112.2,312.3L113.2,311.6L114.2,310.9L115.1,310.3L116.1,309.8L117.1,309.3L118.1,308.9L119.1,308.6L120.1,308.4L121.1,308.2L122.1,308.2L123.1,308.3L124.1,308.5L125.1,308.8L126.1,309.2L127.1,309.6L128.1,310.2L129.1,310.8L130.1,311.5L131.1,312.2L132.1,312.9L133.1,313.7L134.1,314.5L135.1,315.3L136.1,316.0L137.1,316.8L138.0,317.5L139.0,318.2L140.0,318.8L141.0,319.4L142.0,320.0L143.0,320.5L144.0,321.0L145.0,321.4L146.0,321.8L147.0,322.2L148.0,322.5L149.0,322.7L150.0,323.0L151.0,323.2L152.0,323.3L153.0,323.5L154.0,323.6L155.0,323.7L156.0,323.8L157.0,323.9L158.0,324.0L159.0,324.0L159.9,324.1L160.9,324.1L161.9,324.2L162.9,324.2L163.9,324.3L164.9,324.3L165.9,324.3L166.9,324.4L167.9,324.4L168.9,324.4L169.9,324.4L170.9,324.5L171.9,324.5L172.9,324.5L173.9,324.5L174.9,324.6L175.9,324.6L176.9,324.6L177.9,324.7L178.9,324.7L179.9,324.7L180.9,324.7L181.9,324.8L182.8,324.8L183.8,324.8L184.8,324.8L185.8,324.9L186.8,324.9L187.8,324.9L188.8,324.9L189.8,325.0L190.8,325.0L191.8,325.0L192.8,325.0L193.8,325.1L194.8,325.1L195.8,325.1L196.8,325.1L197.8,325.2L198.8,325.2L199.8,325.2L200.8,325.2L201.8,325.3L202.8,325.3L203.8,325.3L204.8,325.3L205.7,325.4L206.7,325.4L207.7,325.4L208.7,325.4L209.7,325.5L210.7,325.5L211.7,325.5L212.7,325.5L213.7,325.6L214.7,325.6L215.7,325.6L216.7,325.6L217.7,325.7L218.7,325.7L219.7,325.7L220.7,325.7L221.7,325.8L222.7,325.8L223.7,325.8L224.7,325.8L225.7,325.9L226.7,325.9L227.6,325.9L228.6,325.9L229.6,326.0L230.6,326.0L231.6,326.0L232.6,326.0L233.6,326.1L234.6,326.1L235.6,326.1L236.6,326.2L237.6,326.2L238.6,326.2L239.6,326.2L240.6,326.3L241.6,326.3L242.6,326.3L243.6,326.3L244.6,326.4L245.6,326.4L246.6,326.4L247.6,326.4L248.6,326.5L249.6,326.5L250.5,326.5L251.5,326.5L252.5,326.6L253.5,326.6L254.5,326.6L255.5,326.6L256.5,326.7L257.5,326.7L258.5,326.7L259.5,326.7L260.5,326.8L261.5,326.8" fill="none" stroke="#10E010" stroke-width="1.4" stroke-linejoin="round"/>
<path d="M35.5,321.0L36.5,321.0L37.5,321.1L38.5,321.1L39.5,321.1L40.5,321.1L41.5,321.2L42.5,321.2L43.5,321.2L44.5,321.2L45.5,321.3L46.5,321.3L47.4,321.3L48.4,321.3L49.4,321.4L50.4,321.4L51.4,321.4L52.4,321.4L53.4,321.5L54.4,321.5L55.4,321.5L56.4,321.5L57.4,321.6L58.4,321.6L59.4,321.6L60.4,321.6L61.4,321.7L62.4,321.7L63.4,321.7L64.4,321.8L65.4,321.8L66.4,321.8L67.4,321.8L68.4,321.9L69.4,321.9L70.3,321.9L71.3,321.9L72.3,322.0L73.3,322.0L74.3,322.0L75.3,322.0L76.3,322.1L77.3,322.1L78.3,322.1L79.3,322.1L80.3,322.2L81.3,322.2L82.3,322.2L83.3,322.2L84.3,322.3L85.3,322.3L86.3,322.3L87.3,322.3L88.3,322.4L89.3,322.4L90.3,322.4L91.3,322.4L92.2,322.5L93.2,322.5L94.2,322.5L95.2,322.5L96.2,322.6L97.2,322.6L98.2,322.6L99.2,322.6L100.2,322.7L101.2,322.7L102.2,322.7L103.2,322.7L104.2,322.8L105.2,322.8L106.2,322.8L107.2,322.8L108.2,322.9L109.2,322.9L110.2,322.9L111.2,322.9L112.2,323.0L113.2,323.0L114.2,323.0L115.1,323.0L116.1,323.0L117.1,323.1L118.1,323.1L119.1,323.1L120.1,323.1L121.1,323.2L122.1,323.2L123.1,323.2L124.1,323.2L125.1,323.2L126.1,323.2L127.1,323.2L128.1,323.2L129.1,323.3L130.1,323.3L131.1,323.3L132.1,323.3L133.1,323.3L134.1,323.3L135.1,323.3L136.1,323.2L137.1,323.2L138.0,323.2L139.0,323.2L140.0,323.1L141.0,323.1L142.0,323.1L143.0,323.0L144.0,322.9L145.0,322.9L146.0,322.8L147.0,322.7L148.0,322.6L149.0,322.5L150.0,322.4L151.0,322.3L152.0,322.1L153.0,322.0L154.0,321.8L155.0,321.6L156.0,321.4L157.0,321.2L158.0,321.0L159.0,320.7L159.9,320.5L160.9,320.2L161.9,319.9L162.9,319.5L163.9,319.2L164.9,318.8L165.9,318.4L166.9,318.0L167.9,317.5L168.9,317.1L169.9,316.6L170.9,316.1L171.9,315.5L172.9,315.0L173.9,314.4L174.9,313.8L175.9,313.1L176.9,312.5L177.9,311.8L178.9,311.1L179.9,310.4L180.9,309.7L181.9,308.9L182.8,308.1L183.8,307.4L184.8,306.6L185.8,305.8L186.8,305.0L187.8,304.1L188.8,303.3L189.8,302.5L190.8,301.7L191.8,300.8L192.8,300.0L193.8,299.2L194.8,298.4L195.8,297.6L196.8,296.9L197.8,296.1L198.8,295.4L199.8,294.7L200.8,294.1L201.8,293.4L202.8,292.8L203.8,292.3L204.8,291.7L205.7,291.2L206.7,290.8L207.7,290.4L208.7,290.1L209.7,289.8L210.7,289.5L211.7,289.3L212.7,289.1L213.7,289.1L214.7,289.0L215.7,289.0L216.7,289.1L217.7,289.3L218.7,289.6L219.7,289.9L220.7,290.4L221.7,290.9L222.7,291.5L223.7,292.1L224.7,292.9L225.7,293.7L226.7,294.6L227.6,295.5L228.6,296.5L229.6,297.5L230.6,298.5L231.6,299.6L232.6,300.7L233.6,301.8L234.6,302.9L235.6,304.1L236.6,305.2L237.6,306.3L238.6,307.4L239.6,308.5L240.6,309.6L241.6,310.6L242.6,311.7L243.6,312.7L244.6,313.6L245.6,314.6L246.6,315.5L247.6,316.3L248.6,317.1L249.6,317.9L250.5,318.6L251.5,319.3L252.5,320.0L253.5,320.6L254.5,321.2L255.5,321.7L256.5,322.2L257.5,322.7L258.5,323.1L259.5,323.5L260.5,323.9L261.5,324.2" fill="none" stroke="#10E010" stroke-width="1.4" stroke-linejoin="round"/>
<path d="M35.5,321.0L36.5,321.0L37.5,321.0L38.5,321.0L39.5,321.1L40.5,321.1L41.5,321.1L42.5,321.1L43.5,321.1L44.5,321.1L45.5,321.2L46.5,321.2L47.4,321.2L48.4,321.2L49.4,321.2L50.4,321.2L51.4,321.2L52.4,321.2L53.4,321.3L54.4,321.3L55.4,321.3L56.4,321.3L57.4,321.3L58.4,321.3L59.4,321.3L60.4,321.3L61.4,321.3L62.4,321.3L63.4,321.3L64.4,321.2L65.4,321.2L66.4,321.2L67.4,321.2L68.4,321.2L69.4,321.2L70.3,321.1L71.3,321.1L72.3,321.1L73.3,321.0L74.3,321.0L75.3,321.0L76.3,320.9L77.3,320.9L78.3,320.8L79.3,320.8L80.3,320.7L81.3,320.6L82.3,320.6L83.3,320.5L84.3,320.4L85.3,320.3L86.3,320.2L87.3,320.1L88.3,320.1L89.3,320.0L90.3,319.8L91.3,319.7L92.2,319.6L93.2,319.5L94.2,319.4L95.2,319.3L96.2,319.1L97.2,319.0L98.2,318.9L99.2,318.7L100.2,318.6L101.2,318.4L102.2,318.2L103.2,318.1L104.2,317.9L105.2,317.8L106.2,317.6L107.2,317.4L108.2,317.2L109.2,317.1L110.2,316.9L111.2,316.7L112.2,316.5L113.2,316.3L114.2,316.1L115.1,316.0L116.1,315.8L117.1,315.6L118.1,315.4L119.1,315.2L120.1,315.0L121.1,314.8L122.1,314.7L123.1,314.5L124.1,314.3L125.1,314.1L126.1,314.0L127.1,313.8L128.1,313.6L129.1,313.5L130.1,313.3L131.1,313.2L132.1,313.0L133.1,312.9L134.1,312.8L135.1,312.7L136.1,312.6L137.1,312.4L138.0,312.4L139.0,312.3L140.0,312.2L141.0,312.1L142.0,312.1L143.0,312.0L144.0,312.0L145.0,311.9L146.0,311.9L147.0,311.9L148.0,311.9L149.0,311.9L150.0,311.9L151.0,312.0L152.0,312.0L153.0,312.1L154.0,312.1L155.0,312.2L156.0,312.3L157.0,312.4L158.0,312.5L159.0,312.6L159.9,312.7L160.9,312.8L161.9,313.0L162.9,313.1L163.9,313.3L164.9,313.4L165.9,313.6L166.9,313.8L167.9,314.0L168.9,314.1L169.9,314.3L170.9,314.5L171.9,314.7L172.9,315.0L173.9,315.2L174.9,315.4L175.9,315.6L176.9,315.8L177.9,316.1L178.9,316.3L179.9,316.5L180.9,316.8L181.9,317.0L182.8,317.3L183.8,317.5L184.8,317.7L185.8,318.0L186.8,318.2L187.8,318.4L188.8,318.7L189.8,318.9L190.8,319.1L191.8,319.4L192.8,319.6L193.8,319.8L194.8,320.0L195.8,320.3L196.8,320.5L197.8,320.7L198.8,320.9L199.8,321.1L200.8,321.3L201.8,321.5L202.8,321.7L203.8,321.9L204.8,322.1L205.7,322.2L206.7,322.4L207.7,322.6L208.7,322.7L209.7,322.9L210.7,323.1L211.7,323.2L212.7,323.4L213.7,323.5L214.7,323.6L215.7,323.8L216.7,323.9L217.7,324.0L218.7,324.1L219.7,324.2L220.7,324.4L221.7,324.5L222.7,324.6L223.7,324.7L224.7,324.8L225.7,324.9L226.7,325.0L227.6,325.0L228.6,325.1L229.6,325.2L230.6,325.3L231.6,325.4L232.6,325.4L233.6,325.5L234.6,325.6L235.6,325.6L236.6,325.7L237.6,325.7L238.6,325.8L239.6,325.9L240.6,325.9L241.6,326.0L242.6,326.0L243.6,326.1L244.6,326.1L245.6,326.1L246.6,326.2L247.6,326.2L248.6,326.3L249.6,326.3L250.5,326.4L251.5,326.4L252.5,326.4L253.5,326.5L254.5,326.5L255.5,326.5L256.5,326.6L257.5,326.6L258.5,326.6L259.5,326.7L260.5,326.7L261.5,326.7" fill="none" stroke="#FF00FF" stroke-width="1.4" stroke-linejoin="round" stroke-dasharray="5,3.5"/>
<path d="M35.5,321.0L36.5,321.0L37.5,321.1L38.5,321.1L39.5,321.1L40.5,321.1L41.5,321.2L42.5,321.2L43.5,321.2L44.5,321.2L45.5,321.3L46.5,321.3L47.4,321.3L48.4,321.3L49.4,321.4L50.4,321.4L51.4,321.4L52.4,321.4L53.4,321.5L54.4,321.5L55.4,321.5L56.4,321.5L57.4,321.6L58.4,321.6L59.4,321.6L60.4,321.6L61.4,321.7L62.4,321.7L63.4,321.7L64.4,321.8L65.4,321.8L66.4,321.8L67.4,321.8L68.4,321.9L69.4,321.9L70.3,321.9L71.3,321.9L72.3,322.0L73.3,322.0L74.3,322.0L75.3,322.0L76.3,322.1L77.3,322.1L78.3,322.1L79.3,322.1L80.3,322.2L81.3,322.2L82.3,322.2L83.3,322.2L84.3,322.3L85.3,322.3L86.3,322.3L87.3,322.3L88.3,322.4L89.3,322.4L90.3,322.4L91.3,322.4L92.2,322.5L93.2,322.5L94.2,322.5L95.2,322.5L96.2,322.6L97.2,322.6L98.2,322.6L99.2,322.6L100.2,322.7L101.2,322.7L102.2,322.7L103.2,322.7L104.2,322.8L105.2,322.8L106.2,322.8L107.2,322.8L108.2,322.9L109.2,322.9L110.2,322.9L111.2,322.9L112.2,323.0L113.2,323.0L114.2,323.0L115.1,323.0L116.1,323.1L117.1,323.1L118.1,323.1L119.1,323.1L120.1,323.2L121.1,323.2L122.1,323.2L123.1,323.3L124.1,323.3L125.1,323.3L126.1,323.3L127.1,323.4L128.1,323.4L129.1,323.4L130.1,323.4L131.1,323.5L132.1,323.5L133.1,323.5L134.1,323.5L135.1,323.6L136.1,323.6L137.1,323.6L138.0,323.6L139.0,323.7L140.0,323.7L141.0,323.7L142.0,323.7L143.0,323.8L144.0,323.8L145.0,323.8L146.0,323.8L147.0,323.9L148.0,323.9L149.0,323.9L150.0,323.9L151.0,324.0L152.0,324.0L153.0,324.0L154.0,324.0L155.0,324.1L156.0,324.1L157.0,324.1L158.0,324.1L159.0,324.2L159.9,324.2L160.9,324.2L161.9,324.2L162.9,324.3L163.9,324.3L164.9,324.3L165.9,324.3L166.9,324.4L167.9,324.4L168.9,324.4L169.9,324.4L170.9,324.5L171.9,324.5L172.9,324.5L173.9,324.5L174.9,324.6L175.9,324.6L176.9,324.6L177.9,324.7L178.9,324.7L179.9,324.7L180.9,324.7L181.9,324.8L182.8,324.8L183.8,324.8L184.8,324.8L185.8,324.9L186.8,324.9L187.8,324.9L188.8,324.9L189.8,325.0L190.8,325.0L191.8,325.0L192.8,325.0L193.8,325.1L194.8,325.1L195.8,325.1L196.8,325.1L197.8,325.2L198.8,325.2L199.8,325.2L200.8,325.2L201.8,325.3L202.8,325.3L203.8,325.3L204.8,325.3L205.7,325.4L206.7,325.4L207.7,325.4L208.7,325.4L209.7,325.5L210.7,325.5L211.7,325.5L212.7,325.5L213.7,325.6L214.7,325.6L215.7,325.6L216.7,325.6L217.7,325.7L218.7,325.7L219.7,325.7L220.7,325.7L221.7,325.8L222.7,325.8L223.7,325.8L224.7,325.8L225.7,325.9L226.7,325.9L227.6,325.9L228.6,325.9L229.6,326.0L230.6,326.0L231.6,326.0L232.6,326.0L233.6,326.1L234.6,326.1L235.6,326.1L236.6,326.2L237.6,326.2L238.6,326.2L239.6,326.2L240.6,326.3L241.6,326.3L242.6,326.3L243.6,326.3L244.6,326.4L245.6,326.4L246.6,326.4L247.6,326.4L248.6,326.5L249.6,326.5L250.5,326.5L251.5,326.5L252.5,326.6L253.5,326.6L254.5,326.6L255.5,326.6L256.5,326.7L257.5,326.7L258.5,326.7L259.5,326.7L260.5,326.8L261.5,326.8" fill="none" stroke="#0000F0" stroke-width="1.4" stroke-linejoin="round"/>
<path d="M35.5,321.0L36.5,321.0L37.5,321.1L38.5,321.1L39.5,321.1L40.5,321.1L41.5,321.1L42.5,321.2L43.5,321.2L44.5,321.2L45.5,321.2L46.5,321.2L47.4,321.3L48.4,321.3L49.4,321.3L50.4,321.3L51.4,321.3L52.4,321.3L53.4,321.3L54.4,321.3L55.4,321.3L56.4,321.3L57.4,321.3L58.4,321.3L59.4,321.3L60.4,321.3L61.4,321.3L62.4,321.2L63.4,321.2L64.4,321.1L65.4,321.1L66.4,321.0L67.4,321.0L68.4,320.9L69.4,320.8L70.3,320.7L71.3,320.6L72.3,320.5L73.3,320.4L74.3,320.3L75.3,320.1L76.3,320.0L77.3,319.8L78.3,319.6L79.3,319.4L80.3,319.2L81.3,319.0L82.3,318.8L83.3,318.6L84.3,318.3L85.3,318.1L86.3,317.8L87.3,317.5L88.3,317.3L89.3,317.0L90.3,316.7L91.3,316.4L92.2,316.1L93.2,315.9L94.2,315.6L95.2,315.3L96.2,315.0L97.2,314.7L98.2,314.5L99.2,314.2L100.2,314.0L101.2,313.8L102.2,313.6L103.2,313.4L104.2,313.2L105.2,313.1L106.2,312.9L107.2,312.8L108.2,312.8L109.2,312.7L110.2,312.7L111.2,312.7L112.2,312.7L113.2,313.1L114.2,314.1L115.1,315.5L116.1,317.0L117.1,318.6L118.1,319.9L119.1,321.0L120.1,321.9L121.1,322.4L122.1,322.8L123.1,323.0L124.1,323.2L125.1,323.3L126.1,323.3L127.1,323.3L128.1,323.4L129.1,323.4L130.1,323.4L131.1,323.5L132.1,323.5L133.1,323.5L134.1,323.5L135.1,323.6L136.1,323.6L137.1,323.6L138.0,323.6L139.0,323.7L140.0,323.7L141.0,323.7L142.0,323.7L143.0,323.8L144.0,323.8L145.0,323.8L146.0,323.8L147.0,323.9L148.0,323.9L149.0,323.9L150.0,323.9L151.0,324.0L152.0,324.0L153.0,324.0L154.0,324.0L155.0,324.1L156.0,324.1L157.0,324.1L158.0,324.1L159.0,324.2L159.9,324.2L160.9,324.2L161.9,324.2L162.9,324.3L163.9,324.3L164.9,324.3L165.9,324.3L166.9,324.4L167.9,324.4L168.9,324.4L169.9,324.4L170.9,324.5L171.9,324.5L172.9,324.5L173.9,324.5L174.9,324.6L175.9,324.6L176.9,324.6L177.9,324.7L178.9,324.7L179.9,324.7L180.9,324.7L181.9,324.8L182.8,324.8L183.8,324.8L184.8,324.8L185.8,324.9L186.8,324.9L187.8,324.9L188.8,324.9L189.8,325.0L190.8,325.0L191.8,325.0L192.8,325.0L193.8,325.1L194.8,325.1L195.8,325.1L196.8,325.1L197.8,325.2L198.8,325.2L199.8,325.2L200.8,325.2L201.8,325.3L202.8,325.3L203.8,325.3L204.8,325.3L205.7,325.4L206.7,325.4L207.7,325.4L208.7,325.4L209.7,325.5L210.7,325.5L211.7,325.5L212.7,325.5L213.7,325.6L214.7,325.6L215.7,325.6L216.7,325.6L217.7,325.7L218.7,325.7L219.7,325.7L220.7,325.7L221.7,325.8L222.7,325.8L223.7,325.8L224.7,325.8L225.7,325.9L226.7,325.9L227.6,325.9L228.6,325.9L229.6,326.0L230.6,326.0L231.6,326.0L232.6,326.0L233.6,326.1L234.6,326.1L235.6,326.1L236.6,326.2L237.6,326.2L238.6,326.2L239.6,326.2L240.6,326.3L241.6,326.3L242.6,326.3L243.6,326.3L244.6,326.4L245.6,326.4L246.6,326.4L247.6,326.4L248.6,326.5L249.6,326.5L250.5,326.5L251.5,326.5L252.5,326.6L253.5,326.6L254.5,326.6L255.5,326.6L256.5,326.7L257.5,326.7L258.5,326.7L259.5,326.7L260.5,326.8L261.5,326.8" fill="none" stroke="#0000F0" stroke-width="1.4" stroke-linejoin="round"/>
<path d="M35.5,321.0L36.5,321.0L37.5,321.1L38.5,321.1L39.5,321.1L40.5,321.1L41.5,321.2L42.5,321.2L43.5,321.2L44.5,321.2L45.5,321.3L46.5,321.3L47.4,321.3L48.4,321.3L49.4,321.4L50.4,321.4L51.4,321.4L52.4,321.4L53.4,321.5L54.4,321.5L55.4,321.5L56.4,321.5L57.4,321.6L58.4,321.6L59.4,321.6L60.4,321.6L61.4,321.7L62.4,321.7L63.4,321.7L64.4,321.8L65.4,321.8L66.4,321.8L67.4,321.8L68.4,321.9L69.4,321.9L70.3,321.9L71.3,321.9L72.3,322.0L73.3,322.0L74.3,322.0L75.3,322.0L76.3,322.1L77.3,322.1L78.3,322.1L79.3,322.1L80.3,322.2L81.3,322.2L82.3,322.2L83.3,322.2L84.3,322.3L85.3,322.3L86.3,322.3L87.3,322.3L88.3,322.4L89.3,322.4L90.3,322.4L91.3,322.4L92.2,322.5L93.2,322.5L94.2,322.5L95.2,322.5L96.2,322.6L97.2,322.6L98.2,322.6L99.2,322.6L100.2,322.6L101.2,322.7L102.2,322.7L103.2,322.7L104.2,322.7L105.2,322.7L106.2,322.8L107.2,322.8L108.2,322.8L109.2,322.8L110.2,322.8L111.2,322.8L112.2,322.8L113.2,322.8L114.2,322.9L115.1,322.9L116.1,322.9L117.1,322.8L118.1,322.8L119.1,322.8L120.1,322.8L121.1,322.8L122.1,322.8L123.1,322.7L124.1,322.7L125.1,322.7L126.1,322.6L127.1,322.6L128.1,322.5L129.1,322.4L130.1,322.4L131.1,322.3L132.1,322.2L133.1,322.1L134.1,322.0L135.1,321.8L136.1,321.7L137.1,321.5L138.0,321.4L139.0,321.2L140.0,321.0L141.0,320.8L142.0,320.5L143.0,320.3L144.0,320.0L145.0,319.7L146.0,319.4L147.0,319.1L148.0,318.8L149.0,318.4L150.0,318.0L151.0,317.6L152.0,317.2L153.0,316.8L154.0,316.3L155.0,315.9L156.0,315.4L157.0,314.9L158.0,314.3L159.0,313.8L159.9,313.2L160.9,312.7L161.9,312.1L162.9,311.5L163.9,310.9L164.9,310.3L165.9,309.6L166.9,309.0L167.9,308.4L168.9,307.7L169.9,307.1L170.9,306.5L171.9,305.8L172.9,305.2L173.9,304.6L174.9,304.0L175.9,303.4L176.9,302.8L177.9,302.3L178.9,301.8L179.9,301.2L180.9,300.8L181.9,300.3L182.8,299.9L183.8,299.5L184.8,299.1L185.8,298.8L186.8,298.5L187.8,298.3L188.8,298.1L189.8,297.9L190.8,297.8L191.8,297.7L192.8,297.7L193.8,297.7L194.8,297.7L195.8,297.9L196.8,298.1L197.8,298.4L198.8,298.7L199.8,299.1L200.8,299.6L201.8,300.2L202.8,300.8L203.8,301.4L204.8,302.1L205.7,302.9L206.7,303.7L207.7,304.5L208.7,305.3L209.7,306.2L210.7,307.1L211.7,308.0L212.7,308.8L213.7,309.7L214.7,310.6L215.7,311.5L216.7,312.4L217.7,313.2L218.7,314.1L219.7,314.9L220.7,315.7L221.7,316.4L222.7,317.2L223.7,317.9L224.7,318.5L225.7,319.2L226.7,319.8L227.6,320.3L228.6,320.8L229.6,321.3L230.6,321.8L231.6,322.2L232.6,322.7L233.6,323.0L234.6,323.4L235.6,323.7L236.6,324.0L237.6,324.3L238.6,324.5L239.6,324.7L240.6,324.9L241.6,325.1L242.6,325.3L243.6,325.4L244.6,325.6L245.6,325.7L246.6,325.8L247.6,325.9L248.6,326.0L249.6,326.1L250.5,326.2L251.5,326.3L252.5,326.3L253.5,326.4L254.5,326.4L255.5,326.5L256.5,326.5L257.5,326.6L258.5,326.6L259.5,326.7L260.5,326.7L261.5,326.7" fill="none" stroke="#0000F0" stroke-width="1.4" stroke-linejoin="round"/>
<path d="M35.5,326.0L36.5,313.3L37.6,319.5L38.6,323.8L39.7,324.4L40.7,316.2L41.8,313.4L42.8,312.7L43.9,323.1L44.9,315.7L46.0,322.2L47.0,313.5L48.1,325.4L49.1,310.9L50.2,321.7L51.2,312.2L52.3,323.4L53.3,312.9L54.4,319.9L55.4,318.6L56.5,312.3L57.5,321.1L58.6,322.4L59.6,323.7L60.7,315.1L61.7,314.9L62.8,322.5L63.8,312.6L64.9,318.2L65.9,313.8L67.0,319.5L68.0,323.4L69.1,310.1L70.1,320.4L71.2,318.4L72.2,321.7L73.3,317.7L74.3,317.0L75.4,319.2L76.4,321.0L77.5,315.5L78.5,308.5L79.6,318.9L80.6,310.5L81.7,316.6L82.7,307.7L83.8,311.1L84.8,312.1L85.9,314.2L86.9,311.4L88.0,317.4L89.0,307.4L90.1,306.0L91.1,306.7L92.2,314.6L93.2,312.2L94.3,312.8L95.3,302.4L96.4,311.4L97.4,304.1L98.5,307.4L99.5,299.1L100.6,310.3L101.6,309.5L102.7,310.3L103.7,308.0L104.8,303.3L105.8,304.8L106.9,306.5L107.9,304.5L109.0,299.7L110.0,295.6L111.1,303.4L112.1,293.6L113.2,295.5L114.2,296.1L115.3,303.0L116.3,292.9L117.4,306.2L118.4,307.2L119.5,292.8L120.5,293.0L121.6,303.9L122.6,303.7L123.7,305.7L124.7,298.5L125.8,306.6L126.8,294.5L127.9,306.8L128.9,305.6L130.0,299.8L131.0,300.3L132.1,303.4L133.1,295.5L134.2,306.9L135.2,298.4L136.3,297.5L137.3,297.4L138.4,298.3L139.4,309.6L140.5,309.3L141.5,299.6L142.6,304.7L143.6,296.2L144.7,308.2L145.7,299.8L146.8,306.7L147.8,295.9L148.9,307.6L149.9,297.4L151.0,302.2L152.0,291.7L153.1,296.9L154.1,296.4L155.2,291.7L156.2,294.3L157.3,303.4L158.3,299.4L159.4,302.6L160.4,293.2L161.5,288.9L162.5,293.3L163.6,298.0L164.6,292.7L165.7,295.1L166.7,296.0L167.8,286.6L168.8,287.0L169.9,288.4L170.9,283.4L172.0,293.3L173.0,282.1L174.1,290.3L175.1,283.1L176.2,288.7L177.2,282.1L178.3,285.0L179.3,279.6L180.4,284.8L181.4,279.5L182.5,285.2L183.5,276.3L184.6,282.7L185.6,274.1L186.7,280.4L187.7,270.3L188.8,273.5L189.8,270.1L190.9,275.9L191.9,268.8L193.0,273.9L194.0,263.7L195.1,275.5L196.1,268.2L197.2,269.9L198.2,265.9L199.3,275.4L200.3,261.4L201.4,262.9L202.4,271.5L203.5,260.7L204.5,259.2L205.6,268.7L206.6,270.8L207.7,265.6L208.7,262.0L209.8,268.1L210.8,262.7L211.9,268.0L212.9,261.3L214.0,272.5L215.0,260.5L216.1,271.9L217.1,273.0L218.2,261.3L219.2,260.6L220.3,275.1L221.3,264.5L222.4,274.4L223.4,272.3L224.5,278.1L225.5,271.1L226.6,280.5L227.6,268.9L228.7,280.1L229.7,285.8L230.8,277.7L231.8,284.1L232.9,283.3L233.9,290.1L235.0,276.1L236.0,278.9L237.1,283.7L238.1,282.2L239.2,285.1L240.2,286.1L241.3,285.0L242.3,289.2L243.4,298.8L244.4,290.0L245.5,303.4L246.5,296.8L247.6,308.0L248.6,304.7L249.7,308.5L250.7,311.5L251.8,310.3L252.8,303.5L253.9,313.4L254.9,317.8L256.0,317.8L257.0,311.6L258.1,312.7L259.1,315.8L260.2,324.5L261.2,319.7" fill="none" stroke="#000" stroke-width="1.5" stroke-linejoin="round"/>
<path d="M35.5,318.7L36.5,318.7L37.5,318.7L38.5,318.7L39.5,318.7L40.5,318.7L41.5,318.6L42.5,318.6L43.5,318.6L44.5,318.6L45.5,318.6L46.5,318.5L47.4,318.5L48.4,318.5L49.4,318.4L50.4,318.4L51.4,318.4L52.4,318.3L53.4,318.3L54.4,318.3L55.4,318.2L56.4,318.2L57.4,318.1L58.4,318.1L59.4,318.0L60.4,318.0L61.4,317.9L62.4,317.8L63.4,317.8L64.4,317.7L65.4,317.6L66.4,317.4L67.4,317.3L68.4,317.2L69.4,317.0L70.3,316.9L71.3,316.7L72.3,316.6L73.3,316.4L74.3,316.2L75.3,316.0L76.3,315.8L77.3,315.6L78.3,315.4L79.3,315.2L80.3,314.9L81.3,314.7L82.3,314.4L83.3,314.1L84.3,313.7L85.3,313.3L86.3,312.9L87.3,312.5L88.3,312.0L89.3,311.6L90.3,311.1L91.3,310.6L92.2,310.1L93.2,309.5L94.2,309.0L95.2,308.5L96.2,308.0L97.2,307.4L98.2,306.9L99.2,306.4L100.2,305.9L101.2,305.3L102.2,304.7L103.2,304.0L104.2,303.2L105.2,302.5L106.2,301.8L107.2,301.1L108.2,300.4L109.2,299.8L110.2,299.3L111.2,299.0L112.2,298.8L113.2,298.7L114.2,298.7L115.1,298.8L116.1,299.0L117.1,299.2L118.1,299.4L119.1,299.6L120.1,299.9L121.1,300.2L122.1,300.4L123.1,300.6L124.1,300.8L125.1,301.0L126.1,301.2L127.1,301.4L128.1,301.5L129.1,301.7L130.1,301.9L131.1,302.1L132.1,302.2L133.1,302.4L134.1,302.5L135.1,302.7L136.1,302.8L137.1,302.9L138.0,302.9L139.0,303.0L140.0,303.0L141.0,303.0L142.0,302.9L143.0,302.8L144.0,302.6L145.0,302.4L146.0,302.1L147.0,301.8L148.0,301.5L149.0,301.2L150.0,300.8L151.0,300.4L152.0,300.0L153.0,299.6L154.0,299.1L155.0,298.7L156.0,298.2L157.0,297.8L158.0,297.3L159.0,296.9L159.9,296.4L160.9,296.0L161.9,295.5L162.9,294.9L163.9,294.4L164.9,293.8L165.9,293.1L166.9,292.5L167.9,291.8L168.9,291.1L169.9,290.4L170.9,289.7L171.9,288.9L172.9,288.2L173.9,287.4L174.9,286.6L175.9,285.9L176.9,285.1L177.9,284.3L178.9,283.6L179.9,282.8L180.9,282.0L181.9,281.3L182.8,280.5L183.8,279.6L184.8,278.8L185.8,278.0L186.8,277.1L187.8,276.3L188.8,275.5L189.8,274.6L190.8,273.8L191.8,273.0L192.8,272.1L193.8,271.2L194.8,270.3L195.8,269.4L196.8,268.6L197.8,267.8L198.8,267.1L199.8,266.5L200.8,266.0L201.8,265.4L202.8,264.9L203.8,264.5L204.8,264.2L205.7,264.0L206.7,264.0L207.7,264.1L208.7,264.1L209.7,264.2L210.7,264.3L211.7,264.5L212.7,264.6L213.7,265.0L214.7,265.4L215.7,266.0L216.7,266.6L217.7,267.3L218.7,268.1L219.7,268.8L220.7,269.5L221.7,270.3L222.7,271.2L223.7,272.1L224.7,273.1L225.7,274.1L226.7,275.1L227.6,276.2L228.6,277.2L229.6,278.2L230.6,279.2L231.6,280.3L232.6,281.3L233.6,282.3L234.6,283.3L235.6,284.4L236.6,285.5L237.6,286.6L238.6,287.8L239.6,289.0L240.6,290.3L241.6,291.6L242.6,293.0L243.6,294.5L244.6,296.0L245.6,297.5L246.6,299.1L247.6,300.7L248.6,302.2L249.6,303.8L250.5,305.3L251.5,306.9L252.5,308.4L253.5,310.0L254.5,311.6L255.5,313.1L256.5,314.7L257.5,316.3L258.5,317.9L259.5,319.5L260.5,321.2L261.5,322.8" fill="none" stroke="#F00010" stroke-width="1.6" stroke-linejoin="round"/>
</g>
<rect x="35" y="217.5" width="227" height="164.5" fill="none" stroke="#1a1a1a" stroke-width="1.8"/>
<line x1="72.83333333333333" y1="382" x2="72.83333333333333" y2="384.5" stroke="#000" stroke-width="1.1"/>
<text x="72.83" y="394.8" font-size="10.5" text-anchor="middle" >730</text>
<line x1="110.66666666666666" y1="382" x2="110.66666666666666" y2="383.8" stroke="#000" stroke-width="0.9"/>
<line x1="148.5" y1="382" x2="148.5" y2="384.5" stroke="#000" stroke-width="1.1"/>
<text x="148.50" y="394.8" font-size="10.5" text-anchor="middle" >720</text>
<line x1="186.33333333333331" y1="382" x2="186.33333333333331" y2="383.8" stroke="#000" stroke-width="0.9"/>
<line x1="224.16666666666666" y1="382" x2="224.16666666666666" y2="384.5" stroke="#000" stroke-width="1.1"/>
<text x="224.17" y="394.8" font-size="10.5" text-anchor="middle" >710</text>
<text x="13" y="234.5" font-size="19" text-anchor="start" >(c)</text>
<text x="40.1" y="238.2" font-size="15.5" text-anchor="start" >FM-2-0.5NF</text>
<text x="122.2" y="265.5" font-size="12">Fe<tspan font-size="11" dy="-5.5">2+</tspan></text>
<text x="98.2" y="287" font-size="12">2p<tspan font-size="8" dy="2.5">1/2</tspan></text>
<text x="126.4" y="293" font-size="11.5" text-anchor="start" >Satellite</text>
<text x="193.1" y="249.5" font-size="12">2p<tspan font-size="8" dy="2.5">3/2</tspan></text>
<text x="233.3" y="261.3" font-size="12">Fe<tspan font-size="11" dy="-5.5">2+</tspan></text>
<text x="80.9" y="360.2" font-size="12">Fe<tspan font-size="11" dy="-5.5">3+</tspan></text>
<text x="147.8" y="360.7" font-size="12">Fe<tspan font-size="11" dy="-5.5">3+</tspan></text>
<line x1="124.50" y1="272.70" x2="126.14" y2="298.01" stroke="#000" stroke-width="1.8"/>
<polygon points="126.40,302.00 123.58,297.17 128.57,296.85" fill="#000"/>
<line x1="240.50" y1="270.30" x2="230.78" y2="286.42" stroke="#000" stroke-width="1.8"/>
<polygon points="228.20,290.70 228.73,284.01 233.87,287.11" fill="#000"/>
<line x1="98.70" y1="340.40" x2="106.53" y2="322.10" stroke="#000" stroke-width="1.8"/>
<polygon points="108.50,317.50 108.90,324.20 103.38,321.84" fill="#000"/>
<line x1="158.00" y1="339.00" x2="165.21" y2="317.54" stroke="#000" stroke-width="1.8"/>
<polygon points="166.80,312.80 167.73,319.44 162.05,317.53" fill="#000"/>
<text x="94" y="413" font-size="13.7" text-anchor="start" >Binding Energy (eV)</text>
<text transform="translate(25.6,341.4) rotate(-90)" font-size="14.3"><tspan x="0" y="0" textLength="51.7" lengthAdjust="spacingAndGlyphs">Intensity</tspan><tspan x="59" y="0" textLength="34" lengthAdjust="spacingAndGlyphs">(a. u.)</tspan></text>
<clipPath id="cd"><rect x="306.5" y="217.5" width="226.79999999999995" height="164.5"/></clipPath><g clip-path="url(#cd)">
<path d="M307.0,318.8L308.0,318.8L309.0,318.9L310.0,318.9L311.0,318.9L312.0,319.0L313.0,319.0L314.0,319.0L315.0,319.1L316.0,319.1L316.9,319.1L317.9,319.2L318.9,319.2L319.9,319.2L320.9,319.3L321.9,319.3L322.9,319.3L323.9,319.4L324.9,319.4L325.9,319.4L326.9,319.5L327.9,319.5L328.9,319.5L329.9,319.5L330.9,319.6L331.9,319.6L332.9,319.6L333.9,319.7L334.9,319.7L335.8,319.7L336.8,319.7L337.8,319.8L338.8,319.8L339.8,319.8L340.8,319.8L341.8,319.9L342.8,319.9L343.8,319.9L344.8,319.9L345.8,319.9L346.8,319.9L347.8,319.9L348.8,319.9L349.8,319.9L350.8,319.9L351.8,319.9L352.8,319.9L353.8,319.9L354.7,319.8L355.7,319.8L356.7,319.8L357.7,319.7L358.7,319.6L359.7,319.6L360.7,319.5L361.7,319.4L362.7,319.3L363.7,319.2L364.7,319.1L365.7,318.9L366.7,318.8L367.7,318.6L368.7,318.5L369.7,318.3L370.7,318.1L371.7,317.9L372.7,317.7L373.6,317.5L374.6,317.3L375.6,317.1L376.6,316.8L377.6,316.6L378.6,316.4L379.6,316.1L380.6,315.9L381.6,315.7L382.6,315.4L383.6,315.2L384.6,315.0L385.6,314.8L386.6,314.6L387.6,314.4L388.6,314.3L389.6,314.1L390.6,314.0L391.6,313.9L392.5,313.8L393.5,313.7L394.5,313.7L395.5,313.7L396.5,313.7L397.5,313.7L398.5,313.8L399.5,313.9L400.5,314.0L401.5,314.1L402.5,314.3L403.5,314.4L404.5,314.6L405.5,314.8L406.5,315.1L407.5,315.3L408.5,315.5L409.5,315.8L410.5,316.1L411.4,316.4L412.4,316.7L413.4,317.0L414.4,317.3L415.4,317.6L416.4,317.9L417.4,318.2L418.4,318.5L419.4,318.7L420.4,319.0L421.4,319.3L422.4,319.6L423.4,319.8L424.4,320.1L425.4,320.3L426.4,320.5L427.4,320.8L428.4,321.0L429.3,321.2L430.3,321.3L431.3,321.5L432.3,321.7L433.3,321.8L434.3,322.0L435.3,322.1L436.3,322.2L437.3,322.4L438.3,322.5L439.3,322.6L440.3,322.7L441.3,322.8L442.3,322.8L443.3,322.9L444.3,323.0L445.3,323.0L446.3,323.1L447.3,323.2L448.2,323.2L449.2,323.3L450.2,323.3L451.2,323.4L452.2,323.4L453.2,323.5L454.2,323.5L455.2,323.5L456.2,323.6L457.2,323.6L458.2,323.7L459.2,323.7L460.2,323.7L461.2,323.8L462.2,323.8L463.2,323.8L464.2,323.9L465.2,323.9L466.2,323.9L467.1,324.0L468.1,324.0L469.1,324.0L470.1,324.1L471.1,324.1L472.1,324.1L473.1,324.2L474.1,324.2L475.1,324.2L476.1,324.3L477.1,324.3L478.1,324.3L479.1,324.4L480.1,324.4L481.1,324.4L482.1,324.5L483.1,324.5L484.1,324.5L485.1,324.5L486.0,324.6L487.0,324.6L488.0,324.6L489.0,324.7L490.0,324.7L491.0,324.7L492.0,324.8L493.0,324.8L494.0,324.8L495.0,324.9L496.0,324.9L497.0,324.9L498.0,325.0L499.0,325.0L500.0,325.0L501.0,325.1L502.0,325.1L503.0,325.1L504.0,325.2L504.9,325.2L505.9,325.2L506.9,325.3L507.9,325.3L508.9,325.3L509.9,325.3L510.9,325.4L511.9,325.4L512.9,325.4L513.9,325.5L514.9,325.5L515.9,325.5L516.9,325.6L517.9,325.6L518.9,325.6L519.9,325.7L520.9,325.7L521.9,325.7L522.9,325.8L523.8,325.8L524.8,325.8L525.8,325.9L526.8,325.9L527.8,325.9L528.8,326.0L529.8,326.0L530.8,326.0L531.8,326.1L532.8,326.1" fill="none" stroke="#10E010" stroke-width="1.4" stroke-linejoin="round"/>
<path d="M307.0,318.8L308.0,318.8L309.0,318.9L310.0,318.9L311.0,318.9L312.0,319.0L313.0,319.0L314.0,319.0L315.0,319.1L316.0,319.1L316.9,319.1L317.9,319.2L318.9,319.2L319.9,319.2L320.9,319.3L321.9,319.3L322.9,319.3L323.9,319.4L324.9,319.4L325.9,319.4L326.9,319.5L327.9,319.5L328.9,319.5L329.9,319.6L330.9,319.6L331.9,319.6L332.9,319.6L333.9,319.7L334.9,319.7L335.8,319.7L336.8,319.8L337.8,319.8L338.8,319.8L339.8,319.9L340.8,319.9L341.8,319.9L342.8,320.0L343.8,320.0L344.8,320.0L345.8,320.1L346.8,320.1L347.8,320.1L348.8,320.2L349.8,320.2L350.8,320.2L351.8,320.3L352.8,320.3L353.8,320.3L354.7,320.4L355.7,320.4L356.7,320.4L357.7,320.4L358.7,320.5L359.7,320.5L360.7,320.5L361.7,320.6L362.7,320.6L363.7,320.6L364.7,320.7L365.7,320.7L366.7,320.7L367.7,320.8L368.7,320.8L369.7,320.8L370.7,320.9L371.7,320.9L372.7,320.9L373.6,321.0L374.6,321.0L375.6,321.0L376.6,321.1L377.6,321.1L378.6,321.1L379.6,321.1L380.6,321.2L381.6,321.2L382.6,321.2L383.6,321.3L384.6,321.3L385.6,321.3L386.6,321.4L387.6,321.4L388.6,321.4L389.6,321.5L390.6,321.5L391.6,321.5L392.5,321.5L393.5,321.6L394.5,321.6L395.5,321.6L396.5,321.6L397.5,321.7L398.5,321.7L399.5,321.7L400.5,321.7L401.5,321.7L402.5,321.8L403.5,321.8L404.5,321.8L405.5,321.8L406.5,321.8L407.5,321.8L408.5,321.8L409.5,321.8L410.5,321.8L411.4,321.8L412.4,321.8L413.4,321.8L414.4,321.8L415.4,321.7L416.4,321.7L417.4,321.7L418.4,321.6L419.4,321.6L420.4,321.5L421.4,321.4L422.4,321.4L423.4,321.3L424.4,321.2L425.4,321.1L426.4,321.0L427.4,320.8L428.4,320.7L429.3,320.5L430.3,320.4L431.3,320.2L432.3,320.0L433.3,319.8L434.3,319.6L435.3,319.3L436.3,319.1L437.3,318.8L438.3,318.5L439.3,318.2L440.3,317.9L441.3,317.5L442.3,317.2L443.3,316.8L444.3,316.4L445.3,316.0L446.3,315.6L447.3,315.1L448.2,314.7L449.2,314.2L450.2,313.7L451.2,313.2L452.2,312.6L453.2,312.1L454.2,311.6L455.2,311.0L456.2,310.4L457.2,309.8L458.2,309.2L459.2,308.6L460.2,308.0L461.2,307.4L462.2,306.8L463.2,306.2L464.2,305.6L465.2,305.0L466.2,304.4L467.1,303.8L468.1,303.3L469.1,302.7L470.1,302.2L471.1,301.7L472.1,301.1L473.1,300.7L474.1,300.2L475.1,299.8L476.1,299.4L477.1,299.0L478.1,298.6L479.1,298.3L480.1,298.0L481.1,297.8L482.1,297.6L483.1,297.4L484.1,297.3L485.1,297.2L486.0,297.1L487.0,297.1L488.0,297.1L489.0,297.2L490.0,297.4L491.0,297.6L492.0,297.8L493.0,298.1L494.0,298.4L495.0,298.8L496.0,299.3L497.0,299.8L498.0,300.3L499.0,300.9L500.0,301.5L501.0,302.1L502.0,302.8L503.0,303.5L504.0,304.2L504.9,305.0L505.9,305.7L506.9,306.5L507.9,307.3L508.9,308.0L509.9,308.8L510.9,309.6L511.9,310.4L512.9,311.2L513.9,311.9L514.9,312.7L515.9,313.4L516.9,314.2L517.9,314.9L518.9,315.6L519.9,316.2L520.9,316.9L521.9,317.5L522.9,318.1L523.8,318.7L524.8,319.2L525.8,319.7L526.8,320.2L527.8,320.7L528.8,321.2L529.8,321.6L530.8,322.0L531.8,322.4L532.8,322.7" fill="none" stroke="#10E010" stroke-width="1.4" stroke-linejoin="round"/>
<path d="M307.0,318.8L308.0,318.8L309.0,318.9L310.0,318.9L311.0,318.9L312.0,319.0L313.0,319.0L314.0,319.0L315.0,319.1L316.0,319.1L316.9,319.1L317.9,319.2L318.9,319.2L319.9,319.2L320.9,319.3L321.9,319.3L322.9,319.3L323.9,319.4L324.9,319.4L325.9,319.4L326.9,319.5L327.9,319.5L328.9,319.5L329.9,319.6L330.9,319.6L331.9,319.6L332.9,319.6L333.9,319.7L334.9,319.7L335.8,319.7L336.8,319.8L337.8,319.8L338.8,319.8L339.8,319.9L340.8,319.9L341.8,319.9L342.8,320.0L343.8,320.0L344.8,320.0L345.8,320.1L346.8,320.1L347.8,320.1L348.8,320.2L349.8,320.2L350.8,320.2L351.8,320.3L352.8,320.3L353.8,320.3L354.7,320.4L355.7,320.4L356.7,320.4L357.7,320.4L358.7,320.5L359.7,320.5L360.7,320.5L361.7,320.6L362.7,320.6L363.7,320.6L364.7,320.7L365.7,320.7L366.7,320.7L367.7,320.8L368.7,320.8L369.7,320.8L370.7,320.9L371.7,320.9L372.7,320.9L373.6,321.0L374.6,321.0L375.6,321.0L376.6,321.1L377.6,321.1L378.6,321.1L379.6,321.2L380.6,321.2L381.6,321.2L382.6,321.2L383.6,321.3L384.6,321.3L385.6,321.3L386.6,321.4L387.6,321.4L388.6,321.4L389.6,321.4L390.6,321.5L391.6,321.5L392.5,321.5L393.5,321.5L394.5,321.5L395.5,321.5L396.5,321.5L397.5,321.4L398.5,321.4L399.5,321.3L400.5,321.2L401.5,321.1L402.5,320.9L403.5,320.8L404.5,320.5L405.5,320.3L406.5,320.0L407.5,319.6L408.5,319.2L409.5,318.7L410.5,318.2L411.4,317.7L412.4,317.1L413.4,316.4L414.4,315.7L415.4,315.0L416.4,314.3L417.4,313.6L418.4,312.8L419.4,312.1L420.4,311.4L421.4,310.8L422.4,310.2L423.4,309.7L424.4,309.3L425.4,309.0L426.4,308.8L427.4,308.7L428.4,308.7L429.3,308.8L430.3,309.1L431.3,309.3L432.3,309.7L433.3,310.2L434.3,310.7L435.3,311.3L436.3,312.0L437.3,312.6L438.3,313.4L439.3,314.1L440.3,314.8L441.3,315.6L442.3,316.3L443.3,317.0L444.3,317.7L445.3,318.3L446.3,318.9L447.3,319.5L448.2,320.0L449.2,320.5L450.2,320.9L451.2,321.3L452.2,321.7L453.2,322.0L454.2,322.3L455.2,322.5L456.2,322.7L457.2,322.9L458.2,323.1L459.2,323.2L460.2,323.4L461.2,323.5L462.2,323.6L463.2,323.7L464.2,323.7L465.2,323.8L466.2,323.8L467.1,323.9L468.1,324.0L469.1,324.0L470.1,324.0L471.1,324.1L472.1,324.1L473.1,324.2L474.1,324.2L475.1,324.2L476.1,324.3L477.1,324.3L478.1,324.3L479.1,324.4L480.1,324.4L481.1,324.4L482.1,324.5L483.1,324.5L484.1,324.5L485.1,324.5L486.0,324.6L487.0,324.6L488.0,324.6L489.0,324.7L490.0,324.7L491.0,324.7L492.0,324.8L493.0,324.8L494.0,324.8L495.0,324.9L496.0,324.9L497.0,324.9L498.0,325.0L499.0,325.0L500.0,325.0L501.0,325.1L502.0,325.1L503.0,325.1L504.0,325.2L504.9,325.2L505.9,325.2L506.9,325.3L507.9,325.3L508.9,325.3L509.9,325.3L510.9,325.4L511.9,325.4L512.9,325.4L513.9,325.5L514.9,325.5L515.9,325.5L516.9,325.6L517.9,325.6L518.9,325.6L519.9,325.7L520.9,325.7L521.9,325.7L522.9,325.8L523.8,325.8L524.8,325.8L525.8,325.9L526.8,325.9L527.8,325.9L528.8,326.0L529.8,326.0L530.8,326.0L531.8,326.1L532.8,326.1" fill="none" stroke="#FF00FF" stroke-width="1.4" stroke-linejoin="round" stroke-dasharray="5,3.5"/>
<path d="M307.0,318.8L308.0,318.8L309.0,318.9L310.0,318.9L311.0,318.9L312.0,319.0L313.0,319.0L314.0,319.0L315.0,319.1L316.0,319.1L316.9,319.1L317.9,319.2L318.9,319.2L319.9,319.2L320.9,319.3L321.9,319.3L322.9,319.3L323.9,319.4L324.9,319.4L325.9,319.4L326.9,319.5L327.9,319.5L328.9,319.5L329.9,319.6L330.9,319.6L331.9,319.6L332.9,319.6L333.9,319.7L334.9,319.7L335.8,319.7L336.8,319.8L337.8,319.8L338.8,319.8L339.8,319.9L340.8,319.9L341.8,319.9L342.8,320.0L343.8,320.0L344.8,320.0L345.8,320.1L346.8,320.1L347.8,320.1L348.8,320.2L349.8,320.2L350.8,320.2L351.8,320.3L352.8,320.3L353.8,320.3L354.7,320.4L355.7,320.4L356.7,320.4L357.7,320.4L358.7,320.5L359.7,320.5L360.7,320.5L361.7,320.6L362.7,320.6L363.7,320.6L364.7,320.7L365.7,320.7L366.7,320.7L367.7,320.8L368.7,320.8L369.7,320.8L370.7,320.9L371.7,320.9L372.7,320.9L373.6,321.0L374.6,321.0L375.6,321.0L376.6,321.1L377.6,321.1L378.6,321.1L379.6,321.2L380.6,321.2L381.6,321.2L382.6,321.2L383.6,321.3L384.6,321.3L385.6,321.3L386.6,321.4L387.6,321.4L388.6,321.4L389.6,321.5L390.6,321.5L391.6,321.5L392.5,321.6L393.5,321.6L394.5,321.6L395.5,321.7L396.5,321.7L397.5,321.7L398.5,321.8L399.5,321.8L400.5,321.8L401.5,321.9L402.5,321.9L403.5,321.9L404.5,322.0L405.5,322.0L406.5,322.0L407.5,322.0L408.5,322.1L409.5,322.1L410.5,322.1L411.4,322.2L412.4,322.2L413.4,322.2L414.4,322.3L415.4,322.3L416.4,322.3L417.4,322.4L418.4,322.4L419.4,322.4L420.4,322.5L421.4,322.5L422.4,322.5L423.4,322.6L424.4,322.6L425.4,322.6L426.4,322.7L427.4,322.7L428.4,322.7L429.3,322.8L430.3,322.8L431.3,322.8L432.3,322.9L433.3,322.9L434.3,322.9L435.3,322.9L436.3,323.0L437.3,323.0L438.3,323.0L439.3,323.1L440.3,323.1L441.3,323.1L442.3,323.2L443.3,323.2L444.3,323.2L445.3,323.3L446.3,323.3L447.3,323.3L448.2,323.4L449.2,323.4L450.2,323.4L451.2,323.5L452.2,323.5L453.2,323.5L454.2,323.6L455.2,323.6L456.2,323.6L457.2,323.7L458.2,323.7L459.2,323.7L460.2,323.7L461.2,323.8L462.2,323.8L463.2,323.8L464.2,323.9L465.2,323.9L466.2,323.9L467.1,324.0L468.1,324.0L469.1,324.0L470.1,324.1L471.1,324.1L472.1,324.1L473.1,324.2L474.1,324.2L475.1,324.2L476.1,324.3L477.1,324.3L478.1,324.3L479.1,324.4L480.1,324.4L481.1,324.4L482.1,324.5L483.1,324.5L484.1,324.5L485.1,324.5L486.0,324.6L487.0,324.6L488.0,324.6L489.0,324.7L490.0,324.7L491.0,324.7L492.0,324.8L493.0,324.8L494.0,324.8L495.0,324.9L496.0,324.9L497.0,324.9L498.0,325.0L499.0,325.0L500.0,325.0L501.0,325.1L502.0,325.1L503.0,325.1L504.0,325.2L504.9,325.2L505.9,325.2L506.9,325.3L507.9,325.3L508.9,325.3L509.9,325.3L510.9,325.4L511.9,325.4L512.9,325.4L513.9,325.5L514.9,325.5L515.9,325.5L516.9,325.6L517.9,325.6L518.9,325.6L519.9,325.7L520.9,325.7L521.9,325.7L522.9,325.8L523.8,325.8L524.8,325.8L525.8,325.9L526.8,325.9L527.8,325.9L528.8,326.0L529.8,326.0L530.8,326.0L531.8,326.1L532.8,326.1" fill="none" stroke="#0000F0" stroke-width="1.4" stroke-linejoin="round"/>
<path d="M307.0,318.8L308.0,318.8L309.0,318.9L310.0,318.9L311.0,318.9L312.0,318.9L313.0,319.0L314.0,319.0L315.0,319.0L316.0,319.0L316.9,319.1L317.9,319.1L318.9,319.1L319.9,319.1L320.9,319.1L321.9,319.1L322.9,319.2L323.9,319.2L324.9,319.2L325.9,319.2L326.9,319.2L327.9,319.2L328.9,319.1L329.9,319.1L330.9,319.1L331.9,319.1L332.9,319.0L333.9,319.0L334.9,318.9L335.8,318.9L336.8,318.8L337.8,318.7L338.8,318.7L339.8,318.6L340.8,318.5L341.8,318.3L342.8,318.2L343.8,318.1L344.8,317.9L345.8,317.7L346.8,317.6L347.8,317.4L348.8,317.2L349.8,316.9L350.8,316.7L351.8,316.4L352.8,316.2L353.8,315.9L354.7,315.6L355.7,315.3L356.7,315.0L357.7,314.6L358.7,314.3L359.7,313.9L360.7,313.5L361.7,313.2L362.7,312.8L363.7,312.4L364.7,312.0L365.7,311.6L366.7,311.2L367.7,310.8L368.7,310.4L369.7,310.0L370.7,309.6L371.7,309.2L372.7,308.8L373.6,308.4L374.6,308.1L375.6,307.7L376.6,307.4L377.6,307.1L378.6,306.8L379.6,306.5L380.6,306.3L381.6,306.1L382.6,305.9L383.6,305.8L384.6,305.6L385.6,305.5L386.6,305.5L387.6,305.4L388.6,305.4L389.6,305.5L390.6,305.6L391.6,305.8L392.5,306.2L393.5,306.5L394.5,307.0L395.5,307.6L396.5,308.2L397.5,308.8L398.5,309.5L399.5,310.3L400.5,311.0L401.5,311.8L402.5,312.6L403.5,313.3L404.5,314.1L405.5,314.8L406.5,315.5L407.5,316.2L408.5,316.9L409.5,317.5L410.5,318.0L411.4,318.6L412.4,319.1L413.4,319.5L414.4,319.9L415.4,320.3L416.4,320.6L417.4,320.9L418.4,321.2L419.4,321.4L420.4,321.6L421.4,321.8L422.4,321.9L423.4,322.1L424.4,322.2L425.4,322.3L426.4,322.4L427.4,322.5L428.4,322.6L429.3,322.6L430.3,322.7L431.3,322.7L432.3,322.8L433.3,322.8L434.3,322.9L435.3,322.9L436.3,323.0L437.3,323.0L438.3,323.0L439.3,323.1L440.3,323.1L441.3,323.1L442.3,323.2L443.3,323.2L444.3,323.2L445.3,323.3L446.3,323.3L447.3,323.3L448.2,323.4L449.2,323.4L450.2,323.4L451.2,323.5L452.2,323.5L453.2,323.5L454.2,323.6L455.2,323.6L456.2,323.6L457.2,323.7L458.2,323.7L459.2,323.7L460.2,323.7L461.2,323.8L462.2,323.8L463.2,323.8L464.2,323.9L465.2,323.9L466.2,323.9L467.1,324.0L468.1,324.0L469.1,324.0L470.1,324.1L471.1,324.1L472.1,324.1L473.1,324.2L474.1,324.2L475.1,324.2L476.1,324.3L477.1,324.3L478.1,324.3L479.1,324.4L480.1,324.4L481.1,324.4L482.1,324.5L483.1,324.5L484.1,324.5L485.1,324.5L486.0,324.6L487.0,324.6L488.0,324.6L489.0,324.7L490.0,324.7L491.0,324.7L492.0,324.8L493.0,324.8L494.0,324.8L495.0,324.9L496.0,324.9L497.0,324.9L498.0,325.0L499.0,325.0L500.0,325.0L501.0,325.1L502.0,325.1L503.0,325.1L504.0,325.2L504.9,325.2L505.9,325.2L506.9,325.3L507.9,325.3L508.9,325.3L509.9,325.3L510.9,325.4L511.9,325.4L512.9,325.4L513.9,325.5L514.9,325.5L515.9,325.5L516.9,325.6L517.9,325.6L518.9,325.6L519.9,325.7L520.9,325.7L521.9,325.7L522.9,325.8L523.8,325.8L524.8,325.8L525.8,325.9L526.8,325.9L527.8,325.9L528.8,326.0L529.8,326.0L530.8,326.0L531.8,326.1L532.8,326.1" fill="none" stroke="#0000F0" stroke-width="1.4" stroke-linejoin="round"/>
<path d="M307.0,318.8L308.0,318.8L309.0,318.9L310.0,318.9L311.0,318.9L312.0,319.0L313.0,319.0L314.0,319.0L315.0,319.1L316.0,319.1L316.9,319.1L317.9,319.2L318.9,319.2L319.9,319.2L320.9,319.3L321.9,319.3L322.9,319.3L323.9,319.4L324.9,319.4L325.9,319.4L326.9,319.5L327.9,319.5L328.9,319.5L329.9,319.6L330.9,319.6L331.9,319.6L332.9,319.6L333.9,319.7L334.9,319.7L335.8,319.7L336.8,319.8L337.8,319.8L338.8,319.8L339.8,319.9L340.8,319.9L341.8,319.9L342.8,320.0L343.8,320.0L344.8,320.0L345.8,320.1L346.8,320.1L347.8,320.1L348.8,320.2L349.8,320.2L350.8,320.2L351.8,320.3L352.8,320.3L353.8,320.3L354.7,320.4L355.7,320.4L356.7,320.4L357.7,320.4L358.7,320.5L359.7,320.5L360.7,320.5L361.7,320.6L362.7,320.6L363.7,320.6L364.7,320.7L365.7,320.7L366.7,320.7L367.7,320.8L368.7,320.8L369.7,320.8L370.7,320.9L371.7,320.9L372.7,320.9L373.6,321.0L374.6,321.0L375.6,321.0L376.6,321.1L377.6,321.1L378.6,321.1L379.6,321.1L380.6,321.2L381.6,321.2L382.6,321.2L383.6,321.3L384.6,321.3L385.6,321.3L386.6,321.4L387.6,321.4L388.6,321.4L389.6,321.4L390.6,321.5L391.6,321.5L392.5,321.5L393.5,321.5L394.5,321.6L395.5,321.6L396.5,321.6L397.5,321.6L398.5,321.6L399.5,321.6L400.5,321.6L401.5,321.6L402.5,321.6L403.5,321.6L404.5,321.5L405.5,321.5L406.5,321.5L407.5,321.4L408.5,321.4L409.5,321.3L410.5,321.2L411.4,321.1L412.4,321.0L413.4,320.9L414.4,320.7L415.4,320.5L416.4,320.3L417.4,320.1L418.4,319.9L419.4,319.6L420.4,319.3L421.4,319.0L422.4,318.7L423.4,318.3L424.4,317.9L425.4,317.4L426.4,316.9L427.4,316.4L428.4,315.8L429.3,315.2L430.3,314.6L431.3,313.9L432.3,313.2L433.3,312.5L434.3,311.7L435.3,310.9L436.3,310.1L437.3,309.2L438.3,308.3L439.3,307.4L440.3,306.5L441.3,305.5L442.3,304.5L443.3,303.6L444.3,302.6L445.3,301.6L446.3,300.7L447.3,299.7L448.2,298.8L449.2,297.9L450.2,297.0L451.2,296.1L452.2,295.3L453.2,294.6L454.2,293.8L455.2,293.2L456.2,292.6L457.2,292.1L458.2,291.6L459.2,291.2L460.2,290.9L461.2,290.7L462.2,290.5L463.2,290.5L464.2,290.5L465.2,290.6L466.2,290.8L467.1,291.0L468.1,291.3L469.1,291.8L470.1,292.3L471.1,292.8L472.1,293.4L473.1,294.1L474.1,294.9L475.1,295.7L476.1,296.5L477.1,297.4L478.1,298.4L479.1,299.3L480.1,300.3L481.1,301.3L482.1,302.3L483.1,303.4L484.1,304.4L485.1,305.5L486.0,306.5L487.0,307.5L488.0,308.5L489.0,309.5L490.0,310.5L491.0,311.4L492.0,312.3L493.0,313.2L494.0,314.1L495.0,314.9L496.0,315.7L497.0,316.4L498.0,317.1L499.0,317.8L500.0,318.5L501.0,319.1L502.0,319.6L503.0,320.2L504.0,320.7L504.9,321.1L505.9,321.6L506.9,322.0L507.9,322.3L508.9,322.7L509.9,323.0L510.9,323.3L511.9,323.5L512.9,323.8L513.9,324.0L514.9,324.2L515.9,324.4L516.9,324.6L517.9,324.7L518.9,324.9L519.9,325.0L520.9,325.1L521.9,325.2L522.9,325.3L523.8,325.4L524.8,325.5L525.8,325.6L526.8,325.7L527.8,325.7L528.8,325.8L529.8,325.8L530.8,325.9L531.8,325.9L532.8,326.0" fill="none" stroke="#0000F0" stroke-width="1.4" stroke-linejoin="round"/>
<path d="M307.0,313.5L308.1,310.5L309.1,315.5L310.2,313.5L311.2,326.6L312.3,311.8L313.3,310.6L314.4,324.7L315.4,319.7L316.5,319.4L317.5,306.6L318.6,308.6L319.6,308.5L320.7,317.8L321.7,319.0L322.8,315.1L323.8,321.8L324.9,316.9L325.9,316.7L327.0,326.5L328.0,321.6L329.1,318.3L330.1,325.2L331.2,324.3L332.2,323.3L333.3,317.8L334.3,328.1L335.4,325.6L336.4,325.0L337.5,314.3L338.5,322.7L339.6,322.4L340.6,328.9L341.7,313.8L342.7,325.0L343.8,312.5L344.8,328.3L345.9,317.9L346.9,309.9L348.0,315.4L349.0,314.0L350.1,324.0L351.1,324.0L352.2,309.7L353.2,320.8L354.3,311.8L355.3,315.2L356.4,306.4L357.4,322.1L358.5,309.8L359.5,323.2L360.6,308.3L361.6,308.6L362.7,306.3L363.7,312.7L364.8,315.6L365.8,312.8L366.9,303.1L367.9,301.3L369.0,301.7L370.0,316.1L371.1,301.4L372.1,309.6L373.2,295.8L374.2,311.2L375.3,301.1L376.3,307.8L377.4,311.7L378.4,306.0L379.5,299.5L380.5,293.3L381.6,307.5L382.6,297.7L383.7,293.0L384.7,307.7L385.8,302.0L386.8,305.8L387.9,305.5L388.9,308.0L390.0,294.7L391.0,295.9L392.1,308.0L393.1,303.4L394.2,292.3L395.2,302.5L396.3,292.0L397.3,295.5L398.4,295.2L399.4,308.6L400.5,295.1L401.5,299.6L402.6,300.1L403.6,307.8L404.7,300.2L405.7,298.7L406.8,302.1L407.8,298.9L408.9,298.1L409.9,308.4L411.0,297.5L412.0,296.0L413.1,308.3L414.1,313.2L415.2,312.0L416.2,298.2L417.3,309.9L418.3,313.4L419.4,299.0L420.4,311.4L421.5,296.7L422.5,294.0L423.6,300.7L424.6,305.5L425.7,292.5L426.7,303.6L427.8,292.1L428.8,304.9L429.9,294.5L430.9,303.4L432.0,295.8L433.0,298.4L434.1,289.7L435.1,292.1L436.2,287.2L437.2,303.6L438.3,285.2L439.3,285.4L440.4,283.0L441.4,295.4L442.5,300.9L443.5,294.2L444.6,281.9L445.6,278.7L446.7,279.6L447.7,281.0L448.8,286.2L449.8,290.2L450.9,278.3L451.9,279.1L453.0,276.2L454.0,287.4L455.1,288.8L456.1,283.5L457.2,278.5L458.2,281.7L459.3,274.2L460.3,278.7L461.4,270.3L462.4,270.0L463.5,270.7L464.5,280.6L465.6,267.1L466.6,275.6L467.7,267.1L468.7,276.4L469.8,262.4L470.8,278.4L471.9,265.5L472.9,274.5L474.0,264.9L475.0,279.4L476.1,266.3L477.1,280.3L478.2,265.5L479.2,276.2L480.3,271.8L481.3,285.1L482.4,278.1L483.4,272.6L484.5,268.5L485.5,278.7L486.6,271.4L487.6,280.7L488.7,280.9L489.7,272.7L490.8,274.5L491.8,284.2L492.9,277.4L493.9,292.4L495.0,276.1L496.0,290.6L497.1,289.3L498.1,281.6L499.2,280.9L500.2,289.7L501.3,279.9L502.3,294.7L503.4,295.9L504.4,295.6L505.5,289.5L506.5,302.1L507.6,287.1L508.6,304.4L509.7,288.7L510.7,290.6L511.8,296.2L512.8,297.8L513.9,294.6L514.9,302.6L516.0,298.2L517.0,298.1L518.1,302.4L519.1,318.7L520.2,303.7L521.2,317.2L522.3,308.0L523.3,308.7L524.4,308.7L525.4,324.4L526.5,310.9L527.5,325.6L528.6,310.0L529.6,318.3L530.7,330.8L531.7,327.5L532.8,322.7" fill="none" stroke="#000" stroke-width="1.35" stroke-linejoin="round"/>
<path d="M307.0,313.5L308.0,313.8L309.0,314.2L310.0,314.6L311.0,314.9L312.0,315.3L313.0,315.6L314.0,315.9L315.0,316.3L316.0,316.6L316.9,316.9L317.9,317.2L318.9,317.5L319.9,317.8L320.9,318.0L321.9,318.3L322.9,318.5L323.9,318.8L324.9,319.0L325.9,319.1L326.9,319.3L327.9,319.5L328.9,319.6L329.9,319.7L330.9,319.8L331.9,319.9L332.9,319.9L333.9,319.9L334.9,319.9L335.8,319.9L336.8,319.8L337.8,319.8L338.8,319.7L339.8,319.5L340.8,319.4L341.8,319.2L342.8,319.1L343.8,318.9L344.8,318.7L345.8,318.4L346.8,318.2L347.8,317.9L348.8,317.6L349.8,317.3L350.8,316.9L351.8,316.6L352.8,316.2L353.8,315.8L354.7,315.4L355.7,315.0L356.7,314.6L357.7,314.1L358.7,313.6L359.7,313.1L360.7,312.6L361.7,312.1L362.7,311.6L363.7,311.0L364.7,310.5L365.7,309.9L366.7,309.4L367.7,308.8L368.7,308.2L369.7,307.7L370.7,307.1L371.7,306.6L372.7,306.0L373.6,305.5L374.6,305.0L375.6,304.4L376.6,303.9L377.6,303.5L378.6,303.0L379.6,302.6L380.6,302.1L381.6,301.8L382.6,301.4L383.6,301.1L384.6,300.8L385.6,300.5L386.6,300.3L387.6,300.1L388.6,299.9L389.6,299.8L390.6,299.7L391.6,299.7L392.5,299.7L393.5,299.8L394.5,299.9L395.5,300.0L396.5,300.2L397.5,300.4L398.5,300.7L399.5,300.9L400.5,301.2L401.5,301.5L402.5,301.8L403.5,302.1L404.5,302.4L405.5,302.7L406.5,303.0L407.5,303.3L408.5,303.6L409.5,303.8L410.5,304.0L411.4,304.2L412.4,304.3L413.4,304.4L414.4,304.5L415.4,304.5L416.4,304.5L417.4,304.4L418.4,304.2L419.4,304.0L420.4,303.8L421.4,303.5L422.4,303.2L423.4,302.8L424.4,302.4L425.4,301.9L426.4,301.4L427.4,300.9L428.4,300.3L429.3,299.7L430.3,299.1L431.3,298.5L432.3,297.8L433.3,297.1L434.3,296.4L435.3,295.7L436.3,294.9L437.3,294.1L438.3,293.4L439.3,292.6L440.3,291.8L441.3,291.0L442.3,290.1L443.3,289.3L444.3,288.5L445.3,287.7L446.3,286.9L447.3,286.1L448.2,285.2L449.2,284.5L450.2,283.7L451.2,282.9L452.2,282.1L453.2,281.4L454.2,280.6L455.2,279.9L456.2,279.2L457.2,278.6L458.2,277.9L459.2,277.3L460.2,276.7L461.2,276.2L462.2,275.6L463.2,275.1L464.2,274.7L465.2,274.3L466.2,273.9L467.1,273.5L468.1,273.2L469.1,273.0L470.1,272.8L471.1,272.6L472.1,272.5L473.1,272.5L474.1,272.5L475.1,272.6L476.1,272.7L477.1,272.8L478.1,273.0L479.1,273.3L480.1,273.6L481.1,274.0L482.1,274.4L483.1,274.8L484.1,275.3L485.1,275.8L486.0,276.4L487.0,277.0L488.0,277.7L489.0,278.3L490.0,279.1L491.0,279.8L492.0,280.6L493.0,281.4L494.0,282.3L495.0,283.2L496.0,284.1L497.0,285.0L498.0,286.0L499.0,287.0L500.0,288.0L501.0,289.0L502.0,290.1L503.0,291.1L504.0,292.2L504.9,293.3L505.9,294.5L506.9,295.6L507.9,296.7L508.9,297.8L509.9,299.0L510.9,300.1L511.9,301.2L512.9,302.4L513.9,303.5L514.9,304.6L515.9,305.7L516.9,306.8L517.9,307.8L518.9,308.9L519.9,309.9L520.9,310.9L521.9,311.8L522.9,312.8L523.8,313.7L524.8,314.6L525.8,315.5L526.8,316.3L527.8,317.2L528.8,318.1L529.8,318.9L530.8,319.7L531.8,320.6L532.8,321.4" fill="none" stroke="#F00010" stroke-width="1.6" stroke-linejoin="round"/>
</g>
<rect x="306.5" y="217.5" width="226.79999999999995" height="164.5" fill="none" stroke="#1a1a1a" stroke-width="1.8"/>
<line x1="344.3" y1="382" x2="344.3" y2="384.5" stroke="#000" stroke-width="1.1"/>
<text x="344.30" y="398.8" font-size="10.5" text-anchor="middle" >730</text>
<line x1="382.1" y1="382" x2="382.1" y2="383.8" stroke="#000" stroke-width="0.9"/>
<line x1="419.9" y1="382" x2="419.9" y2="384.5" stroke="#000" stroke-width="1.1"/>
<text x="419.90" y="398.8" font-size="10.5" text-anchor="middle" >720</text>
<line x1="457.7" y1="382" x2="457.7" y2="383.8" stroke="#000" stroke-width="0.9"/>
<line x1="495.5" y1="382" x2="495.5" y2="384.5" stroke="#000" stroke-width="1.1"/>
<text x="495.50" y="398.8" font-size="10.5" text-anchor="middle" >710</text>
<text x="279" y="233.5" font-size="19" text-anchor="start" >(d)</text>
<text x="308.9" y="237.8" font-size="15.5">FM-2-0.5NF 1000<tspan font-size="10.85" dy="-5.89">th</tspan><tspan dy="5.89"> cycle</tspan></text>
<text x="390" y="271.8" font-size="12">Fe<tspan font-size="11" dy="-5.5">2+</tspan></text>
<text x="371.5" y="286" font-size="12">2p<tspan font-size="8" dy="2.5">1/2</tspan></text>
<text x="404.3" y="287" font-size="11.5" text-anchor="start" >Satellite</text>
<text x="462.7" y="250.5" font-size="12">2p<tspan font-size="8" dy="2.5">3/2</tspan></text>
<text x="502.5" y="270.7" font-size="12">Fe<tspan font-size="11" dy="-5.5">2+</tspan></text>
<text x="347" y="355.6" font-size="12">Fe<tspan font-size="11" dy="-5.5">3+</tspan></text>
<text x="426" y="350" font-size="12">Fe<tspan font-size="11" dy="-5.5">3+</tspan></text>
<line x1="402.00" y1="280.50" x2="394.41" y2="309.43" stroke="#000" stroke-width="1.8"/>
<polygon points="393.40,313.30 392.25,307.83 397.09,309.10" fill="#000"/>
<line x1="513.90" y1="273.00" x2="499.03" y2="289.67" stroke="#000" stroke-width="1.8"/>
<polygon points="495.70,293.40 497.46,286.93 501.93,290.92" fill="#000"/>
<line x1="359.80" y1="338.30" x2="365.65" y2="322.68" stroke="#000" stroke-width="1.8"/>
<polygon points="367.40,318.00 368.11,324.67 362.49,322.57" fill="#000"/>
<line x1="434.30" y1="333.20" x2="441.69" y2="312.90" stroke="#000" stroke-width="1.8"/>
<polygon points="443.40,308.20 444.17,314.86 438.53,312.81" fill="#000"/>
<text x="359" y="414.5" font-size="13.7" text-anchor="start" >Binding Energy (eV)</text>
<text transform="translate(297.3,341.4) rotate(-90)" font-size="14.3"><tspan x="0" y="0" textLength="51.7" lengthAdjust="spacingAndGlyphs">Intensity</tspan><tspan x="59" y="0" textLength="34" lengthAdjust="spacingAndGlyphs">(a. u.)</tspan></text>
<clipPath id="ce"><rect x="35" y="419.8" width="227" height="163.7"/></clipPath><g clip-path="url(#ce)">
<path d="M35.5,513.3L36.5,513.4L37.5,513.4L38.5,513.4L39.5,513.5L40.5,513.5L41.5,513.5L42.5,513.6L43.5,513.6L44.5,513.7L45.5,513.7L46.5,513.7L47.4,513.8L48.4,513.8L49.4,513.8L50.4,513.9L51.4,513.9L52.4,514.0L53.4,514.0L54.4,514.0L55.4,514.1L56.4,514.1L57.4,514.2L58.4,514.2L59.4,514.2L60.4,514.3L61.4,514.3L62.4,514.4L63.4,514.4L64.4,514.4L65.4,514.5L66.4,514.5L67.4,514.6L68.4,514.6L69.4,514.6L70.3,514.7L71.3,514.7L72.3,514.8L73.3,514.8L74.3,514.9L75.3,514.9L76.3,514.9L77.3,515.0L78.3,515.0L79.3,515.0L80.3,515.1L81.3,515.1L82.3,515.1L83.3,515.2L84.3,515.2L85.3,515.2L86.3,515.2L87.3,515.2L88.3,515.2L89.3,515.2L90.3,515.2L91.3,515.1L92.2,515.1L93.2,515.0L94.2,514.9L95.2,514.8L96.2,514.6L97.2,514.4L98.2,514.2L99.2,514.0L100.2,513.7L101.2,513.4L102.2,513.1L103.2,512.7L104.2,512.3L105.2,511.8L106.2,511.4L107.2,510.8L108.2,510.3L109.2,509.8L110.2,509.2L111.2,508.6L112.2,508.0L113.2,507.4L114.2,506.8L115.1,506.3L116.1,505.7L117.1,505.2L118.1,504.8L119.1,504.4L120.1,504.0L121.1,503.8L122.1,503.6L123.1,503.4L124.1,503.4L125.1,503.4L126.1,503.5L127.1,503.7L128.1,503.8L129.1,504.1L130.1,504.3L131.1,504.6L132.1,505.0L133.1,505.4L134.1,505.8L135.1,506.3L136.1,506.7L137.1,507.2L138.0,507.8L139.0,508.3L140.0,508.8L141.0,509.4L142.0,509.9L143.0,510.5L144.0,511.1L145.0,511.6L146.0,512.2L147.0,512.7L148.0,513.3L149.0,513.8L150.0,514.3L151.0,514.8L152.0,515.2L153.0,515.7L154.0,516.1L155.0,516.5L156.0,516.9L157.0,517.3L158.0,517.7L159.0,518.0L159.9,518.3L160.9,518.6L161.9,518.9L162.9,519.2L163.9,519.5L164.9,519.7L165.9,520.0L166.9,520.2L167.9,520.4L168.9,520.6L169.9,520.8L170.9,521.0L171.9,521.2L172.9,521.4L173.9,521.6L174.9,521.8L175.9,521.9L176.9,522.1L177.9,522.3L178.9,522.4L179.9,522.6L180.9,522.7L181.9,522.9L182.8,523.0L183.8,523.2L184.8,523.3L185.8,523.5L186.8,523.6L187.8,523.8L188.8,523.9L189.8,524.1L190.8,524.2L191.8,524.4L192.8,524.5L193.8,524.6L194.8,524.8L195.8,524.9L196.8,525.1L197.8,525.2L198.8,525.3L199.8,525.5L200.8,525.6L201.8,525.7L202.8,525.9L203.8,526.0L204.8,526.1L205.7,526.3L206.7,526.4L207.7,526.6L208.7,526.7L209.7,526.8L210.7,527.0L211.7,527.1L212.7,527.2L213.7,527.4L214.7,527.5L215.7,527.7L216.7,527.8L217.7,528.0L218.7,528.1L219.7,528.2L220.7,528.4L221.7,528.5L222.7,528.7L223.7,528.8L224.7,528.9L225.7,529.1L226.7,529.2L227.6,529.4L228.6,529.5L229.6,529.7L230.6,529.8L231.6,530.0L232.6,530.1L233.6,530.3L234.6,530.4L235.6,530.6L236.6,530.7L237.6,530.9L238.6,531.0L239.6,531.1L240.6,531.3L241.6,531.4L242.6,531.6L243.6,531.8L244.6,531.9L245.6,532.1L246.6,532.2L247.6,532.4L248.6,532.5L249.6,532.7L250.5,532.8L251.5,533.0L252.5,533.1L253.5,533.3L254.5,533.4L255.5,533.6L256.5,533.7L257.5,533.9L258.5,534.1L259.5,534.2L260.5,534.4L261.5,534.5" fill="none" stroke="#10E010" stroke-width="1.4" stroke-linejoin="round"/>
<path d="M35.5,513.3L36.5,513.4L37.5,513.4L38.5,513.4L39.5,513.5L40.5,513.5L41.5,513.5L42.5,513.6L43.5,513.6L44.5,513.7L45.5,513.7L46.5,513.7L47.4,513.8L48.4,513.8L49.4,513.8L50.4,513.9L51.4,513.9L52.4,514.0L53.4,514.0L54.4,514.0L55.4,514.1L56.4,514.1L57.4,514.2L58.4,514.2L59.4,514.2L60.4,514.3L61.4,514.3L62.4,514.4L63.4,514.4L64.4,514.4L65.4,514.5L66.4,514.5L67.4,514.6L68.4,514.6L69.4,514.7L70.3,514.7L71.3,514.7L72.3,514.8L73.3,514.8L74.3,514.9L75.3,514.9L76.3,514.9L77.3,515.0L78.3,515.0L79.3,515.1L80.3,515.1L81.3,515.2L82.3,515.2L83.3,515.3L84.3,515.3L85.3,515.3L86.3,515.4L87.3,515.4L88.3,515.5L89.3,515.5L90.3,515.6L91.3,515.6L92.2,515.6L93.2,515.7L94.2,515.7L95.2,515.8L96.2,515.8L97.2,515.9L98.2,515.9L99.2,516.0L100.2,516.0L101.2,516.1L102.2,516.1L103.2,516.1L104.2,516.2L105.2,516.2L106.2,516.3L107.2,516.3L108.2,516.4L109.2,516.4L110.2,516.4L111.2,516.5L112.2,516.5L113.2,516.6L114.2,516.6L115.1,516.7L116.1,516.7L117.1,516.8L118.1,516.8L119.1,516.8L120.1,516.9L121.1,516.9L122.1,517.0L123.1,517.0L124.1,517.1L125.1,517.1L126.1,517.2L127.1,517.2L128.1,517.3L129.1,517.3L130.1,517.4L131.1,517.4L132.1,517.5L133.1,517.6L134.1,517.6L135.1,517.7L136.1,517.7L137.1,517.8L138.0,517.9L139.0,517.9L140.0,518.0L141.0,518.1L142.0,518.1L143.0,518.2L144.0,518.3L145.0,518.4L146.0,518.5L147.0,518.6L148.0,518.6L149.0,518.7L150.0,518.8L151.0,518.9L152.0,519.0L153.0,519.1L154.0,519.2L155.0,519.3L156.0,519.4L157.0,519.5L158.0,519.6L159.0,519.7L159.9,519.8L160.9,519.9L161.9,520.0L162.9,520.1L163.9,520.1L164.9,520.2L165.9,520.2L166.9,520.3L167.9,520.3L168.9,520.3L169.9,520.3L170.9,520.3L171.9,520.3L172.9,520.2L173.9,520.1L174.9,520.0L175.9,519.8L176.9,519.6L177.9,519.4L178.9,519.1L179.9,518.8L180.9,518.5L181.9,518.0L182.8,517.6L183.8,517.1L184.8,516.5L185.8,515.8L186.8,515.1L187.8,514.4L188.8,513.6L189.8,512.7L190.8,511.8L191.8,510.8L192.8,509.7L193.8,508.7L194.8,507.5L195.8,506.4L196.8,505.2L197.8,503.9L198.8,502.7L199.8,501.4L200.8,500.2L201.8,499.0L202.8,497.7L203.8,496.6L204.8,495.4L205.7,494.4L206.7,493.3L207.7,492.4L208.7,491.6L209.7,490.8L210.7,490.2L211.7,489.6L212.7,489.2L213.7,488.9L214.7,488.7L215.7,488.7L216.7,488.8L217.7,489.1L218.7,489.6L219.7,490.2L220.7,491.1L221.7,492.1L222.7,493.3L223.7,494.6L224.7,496.0L225.7,497.6L226.7,499.3L227.6,501.0L228.6,502.8L229.6,504.6L230.6,506.4L231.6,508.2L232.6,510.0L233.6,511.8L234.6,513.5L235.6,515.2L236.6,516.8L237.6,518.3L238.6,519.8L239.6,521.1L240.6,522.4L241.6,523.6L242.6,524.7L243.6,525.7L244.6,526.7L245.6,527.5L246.6,528.3L247.6,529.0L248.6,529.7L249.6,530.3L250.5,530.8L251.5,531.3L252.5,531.7L253.5,532.1L254.5,532.5L255.5,532.8L256.5,533.1L257.5,533.4L258.5,533.6L259.5,533.9L260.5,534.1L261.5,534.3" fill="none" stroke="#10E010" stroke-width="1.4" stroke-linejoin="round"/>
<path d="M35.5,513.3L36.5,513.4L37.5,513.4L38.5,513.4L39.5,513.5L40.5,513.5L41.5,513.5L42.5,513.6L43.5,513.6L44.5,513.7L45.5,513.7L46.5,513.7L47.4,513.8L48.4,513.8L49.4,513.8L50.4,513.9L51.4,513.9L52.4,514.0L53.4,514.0L54.4,514.0L55.4,514.1L56.4,514.1L57.4,514.2L58.4,514.2L59.4,514.2L60.4,514.3L61.4,514.3L62.4,514.4L63.4,514.4L64.4,514.4L65.4,514.5L66.4,514.5L67.4,514.6L68.4,514.6L69.4,514.7L70.3,514.7L71.3,514.7L72.3,514.8L73.3,514.8L74.3,514.9L75.3,514.9L76.3,514.9L77.3,515.0L78.3,515.0L79.3,515.1L80.3,515.1L81.3,515.2L82.3,515.2L83.3,515.3L84.3,515.3L85.3,515.3L86.3,515.4L87.3,515.4L88.3,515.5L89.3,515.5L90.3,515.6L91.3,515.6L92.2,515.6L93.2,515.7L94.2,515.7L95.2,515.8L96.2,515.8L97.2,515.9L98.2,515.9L99.2,516.0L100.2,516.0L101.2,516.1L102.2,516.1L103.2,516.1L104.2,516.2L105.2,516.2L106.2,516.3L107.2,516.3L108.2,516.4L109.2,516.4L110.2,516.4L111.2,516.5L112.2,516.5L113.2,516.6L114.2,516.6L115.1,516.6L116.1,516.7L117.1,516.7L118.1,516.7L119.1,516.8L120.1,516.8L121.1,516.8L122.1,516.8L123.1,516.8L124.1,516.8L125.1,516.8L126.1,516.8L127.1,516.7L128.1,516.7L129.1,516.6L130.1,516.5L131.1,516.4L132.1,516.3L133.1,516.2L134.1,516.0L135.1,515.8L136.1,515.6L137.1,515.4L138.0,515.1L139.0,514.9L140.0,514.6L141.0,514.2L142.0,513.9L143.0,513.5L144.0,513.2L145.0,512.8L146.0,512.4L147.0,512.0L148.0,511.7L149.0,511.3L150.0,511.0L151.0,510.7L152.0,510.4L153.0,510.2L154.0,510.0L155.0,509.8L156.0,509.8L157.0,509.7L158.0,509.7L159.0,509.8L159.9,510.0L160.9,510.1L161.9,510.3L162.9,510.5L163.9,510.8L164.9,511.0L165.9,511.3L166.9,511.6L167.9,511.9L168.9,512.3L169.9,512.6L170.9,513.0L171.9,513.4L172.9,513.8L173.9,514.2L174.9,514.6L175.9,515.1L176.9,515.5L177.9,516.0L178.9,516.4L179.9,516.8L180.9,517.3L181.9,517.7L182.8,518.2L183.8,518.6L184.8,519.0L185.8,519.4L186.8,519.9L187.8,520.3L188.8,520.6L189.8,521.0L190.8,521.4L191.8,521.8L192.8,522.1L193.8,522.4L194.8,522.8L195.8,523.1L196.8,523.4L197.8,523.7L198.8,524.0L199.8,524.2L200.8,524.5L201.8,524.7L202.8,525.0L203.8,525.2L204.8,525.4L205.7,525.6L206.7,525.8L207.7,526.0L208.7,526.2L209.7,526.4L210.7,526.6L211.7,526.8L212.7,527.0L213.7,527.2L214.7,527.3L215.7,527.5L216.7,527.7L217.7,527.8L218.7,528.0L219.7,528.1L220.7,528.3L221.7,528.4L222.7,528.6L223.7,528.8L224.7,528.9L225.7,529.1L226.7,529.2L227.6,529.4L228.6,529.5L229.6,529.7L230.6,529.8L231.6,530.0L232.6,530.1L233.6,530.2L234.6,530.4L235.6,530.5L236.6,530.7L237.6,530.8L238.6,531.0L239.6,531.1L240.6,531.3L241.6,531.4L242.6,531.6L243.6,531.7L244.6,531.9L245.6,532.1L246.6,532.2L247.6,532.4L248.6,532.5L249.6,532.7L250.5,532.8L251.5,533.0L252.5,533.1L253.5,533.3L254.5,533.4L255.5,533.6L256.5,533.7L257.5,533.9L258.5,534.1L259.5,534.2L260.5,534.4L261.5,534.5" fill="none" stroke="#FF00FF" stroke-width="1.4" stroke-linejoin="round" stroke-dasharray="5,3.5"/>
<path d="M35.5,513.3L36.5,513.4L37.5,513.4L38.5,513.4L39.5,513.5L40.5,513.5L41.5,513.5L42.5,513.6L43.5,513.6L44.5,513.7L45.5,513.7L46.5,513.7L47.4,513.8L48.4,513.8L49.4,513.8L50.4,513.9L51.4,513.9L52.4,514.0L53.4,514.0L54.4,514.0L55.4,514.1L56.4,514.1L57.4,514.2L58.4,514.2L59.4,514.2L60.4,514.3L61.4,514.3L62.4,514.4L63.4,514.4L64.4,514.4L65.4,514.5L66.4,514.5L67.4,514.6L68.4,514.6L69.4,514.7L70.3,514.7L71.3,514.7L72.3,514.8L73.3,514.8L74.3,514.9L75.3,514.9L76.3,514.9L77.3,515.0L78.3,515.0L79.3,515.1L80.3,515.1L81.3,515.2L82.3,515.2L83.3,515.3L84.3,515.3L85.3,515.3L86.3,515.4L87.3,515.4L88.3,515.5L89.3,515.5L90.3,515.6L91.3,515.6L92.2,515.6L93.2,515.7L94.2,515.7L95.2,515.8L96.2,515.8L97.2,515.9L98.2,515.9L99.2,516.0L100.2,516.0L101.2,516.1L102.2,516.1L103.2,516.1L104.2,516.2L105.2,516.2L106.2,516.3L107.2,516.3L108.2,516.4L109.2,516.4L110.2,516.4L111.2,516.5L112.2,516.5L113.2,516.6L114.2,516.6L115.1,516.7L116.1,516.7L117.1,516.8L118.1,516.8L119.1,516.8L120.1,516.9L121.1,516.9L122.1,517.0L123.1,517.0L124.1,517.1L125.1,517.1L126.1,517.2L127.1,517.2L128.1,517.3L129.1,517.3L130.1,517.4L131.1,517.4L132.1,517.5L133.1,517.6L134.1,517.6L135.1,517.7L136.1,517.7L137.1,517.8L138.0,517.9L139.0,517.9L140.0,518.0L141.0,518.1L142.0,518.1L143.0,518.2L144.0,518.3L145.0,518.4L146.0,518.5L147.0,518.6L148.0,518.7L149.0,518.8L150.0,518.8L151.0,518.9L152.0,519.1L153.0,519.2L154.0,519.3L155.0,519.4L156.0,519.5L157.0,519.6L158.0,519.7L159.0,519.8L159.9,520.0L160.9,520.1L161.9,520.2L162.9,520.3L163.9,520.5L164.9,520.6L165.9,520.7L166.9,520.8L167.9,521.0L168.9,521.1L169.9,521.2L170.9,521.4L171.9,521.5L172.9,521.7L173.9,521.8L174.9,521.9L175.9,522.1L176.9,522.2L177.9,522.4L178.9,522.5L179.9,522.6L180.9,522.8L181.9,522.9L182.8,523.1L183.8,523.2L184.8,523.4L185.8,523.5L186.8,523.6L187.8,523.8L188.8,523.9L189.8,524.1L190.8,524.2L191.8,524.4L192.8,524.5L193.8,524.6L194.8,524.8L195.8,524.9L196.8,525.1L197.8,525.2L198.8,525.3L199.8,525.5L200.8,525.6L201.8,525.7L202.8,525.9L203.8,526.0L204.8,526.1L205.7,526.3L206.7,526.4L207.7,526.6L208.7,526.7L209.7,526.8L210.7,527.0L211.7,527.1L212.7,527.2L213.7,527.4L214.7,527.5L215.7,527.7L216.7,527.8L217.7,528.0L218.7,528.1L219.7,528.2L220.7,528.4L221.7,528.5L222.7,528.7L223.7,528.8L224.7,528.9L225.7,529.1L226.7,529.2L227.6,529.4L228.6,529.5L229.6,529.7L230.6,529.8L231.6,530.0L232.6,530.1L233.6,530.3L234.6,530.4L235.6,530.6L236.6,530.7L237.6,530.9L238.6,531.0L239.6,531.1L240.6,531.3L241.6,531.4L242.6,531.6L243.6,531.8L244.6,531.9L245.6,532.1L246.6,532.2L247.6,532.4L248.6,532.5L249.6,532.7L250.5,532.8L251.5,533.0L252.5,533.1L253.5,533.3L254.5,533.4L255.5,533.6L256.5,533.7L257.5,533.9L258.5,534.1L259.5,534.2L260.5,534.4L261.5,534.5" fill="none" stroke="#0000F0" stroke-width="1.4" stroke-linejoin="round"/>
<path d="M35.5,512.6L36.5,512.6L37.5,512.5L38.5,512.5L39.5,512.5L40.5,512.4L41.5,512.4L42.5,512.3L43.5,512.3L44.5,512.2L45.5,512.1L46.5,512.1L47.4,512.0L48.4,511.9L49.4,511.8L50.4,511.7L51.4,511.6L52.4,511.5L53.4,511.4L54.4,511.3L55.4,511.2L56.4,511.1L57.4,510.9L58.4,510.8L59.4,510.6L60.4,510.5L61.4,510.3L62.4,510.2L63.4,510.0L64.4,509.8L65.4,509.6L66.4,509.5L67.4,509.3L68.4,509.1L69.4,508.9L70.3,508.7L71.3,508.5L72.3,508.3L73.3,508.1L74.3,507.8L75.3,507.6L76.3,507.4L77.3,507.2L78.3,507.0L79.3,506.8L80.3,506.6L81.3,506.4L82.3,506.2L83.3,506.0L84.3,505.8L85.3,505.6L86.3,505.4L87.3,505.2L88.3,505.0L89.3,504.9L90.3,504.7L91.3,504.5L92.2,504.4L93.2,504.3L94.2,504.1L95.2,504.0L96.2,503.9L97.2,503.8L98.2,503.8L99.2,503.7L100.2,503.6L101.2,503.6L102.2,503.6L103.2,503.5L104.2,503.5L105.2,503.6L106.2,503.6L107.2,503.6L108.2,503.7L109.2,503.9L110.2,504.3L111.2,504.7L112.2,505.2L113.2,505.7L114.2,506.3L115.1,507.0L116.1,507.7L117.1,508.4L118.1,509.2L119.1,509.9L120.1,510.7L121.1,511.4L122.1,512.0L123.1,512.7L124.1,513.3L125.1,513.8L126.1,514.4L127.1,514.8L128.1,515.3L129.1,515.6L130.1,516.0L131.1,516.3L132.1,516.6L133.1,516.8L134.1,517.0L135.1,517.2L136.1,517.4L137.1,517.5L138.0,517.6L139.0,517.8L140.0,517.9L141.0,518.0L142.0,518.1L143.0,518.2L144.0,518.3L145.0,518.4L146.0,518.5L147.0,518.5L148.0,518.6L149.0,518.7L150.0,518.8L151.0,518.9L152.0,519.0L153.0,519.2L154.0,519.3L155.0,519.4L156.0,519.5L157.0,519.6L158.0,519.7L159.0,519.8L159.9,520.0L160.9,520.1L161.9,520.2L162.9,520.3L163.9,520.5L164.9,520.6L165.9,520.7L166.9,520.8L167.9,521.0L168.9,521.1L169.9,521.2L170.9,521.4L171.9,521.5L172.9,521.7L173.9,521.8L174.9,521.9L175.9,522.1L176.9,522.2L177.9,522.4L178.9,522.5L179.9,522.6L180.9,522.8L181.9,522.9L182.8,523.1L183.8,523.2L184.8,523.4L185.8,523.5L186.8,523.6L187.8,523.8L188.8,523.9L189.8,524.1L190.8,524.2L191.8,524.4L192.8,524.5L193.8,524.6L194.8,524.8L195.8,524.9L196.8,525.1L197.8,525.2L198.8,525.3L199.8,525.5L200.8,525.6L201.8,525.7L202.8,525.9L203.8,526.0L204.8,526.1L205.7,526.3L206.7,526.4L207.7,526.6L208.7,526.7L209.7,526.8L210.7,527.0L211.7,527.1L212.7,527.2L213.7,527.4L214.7,527.5L215.7,527.7L216.7,527.8L217.7,528.0L218.7,528.1L219.7,528.2L220.7,528.4L221.7,528.5L222.7,528.7L223.7,528.8L224.7,528.9L225.7,529.1L226.7,529.2L227.6,529.4L228.6,529.5L229.6,529.7L230.6,529.8L231.6,530.0L232.6,530.1L233.6,530.3L234.6,530.4L235.6,530.6L236.6,530.7L237.6,530.9L238.6,531.0L239.6,531.1L240.6,531.3L241.6,531.4L242.6,531.6L243.6,531.8L244.6,531.9L245.6,532.1L246.6,532.2L247.6,532.4L248.6,532.5L249.6,532.7L250.5,532.8L251.5,533.0L252.5,533.1L253.5,533.3L254.5,533.4L255.5,533.6L256.5,533.7L257.5,533.9L258.5,534.1L259.5,534.2L260.5,534.4L261.5,534.5" fill="none" stroke="#0000F0" stroke-width="1.4" stroke-linejoin="round"/>
<path d="M35.5,513.3L36.5,513.4L37.5,513.4L38.5,513.4L39.5,513.5L40.5,513.5L41.5,513.5L42.5,513.6L43.5,513.6L44.5,513.7L45.5,513.7L46.5,513.7L47.4,513.8L48.4,513.8L49.4,513.8L50.4,513.9L51.4,513.9L52.4,514.0L53.4,514.0L54.4,514.0L55.4,514.1L56.4,514.1L57.4,514.2L58.4,514.2L59.4,514.2L60.4,514.3L61.4,514.3L62.4,514.4L63.4,514.4L64.4,514.4L65.4,514.5L66.4,514.5L67.4,514.6L68.4,514.6L69.4,514.7L70.3,514.7L71.3,514.7L72.3,514.8L73.3,514.8L74.3,514.9L75.3,514.9L76.3,514.9L77.3,515.0L78.3,515.0L79.3,515.1L80.3,515.1L81.3,515.2L82.3,515.2L83.3,515.3L84.3,515.3L85.3,515.3L86.3,515.4L87.3,515.4L88.3,515.5L89.3,515.5L90.3,515.6L91.3,515.6L92.2,515.6L93.2,515.7L94.2,515.7L95.2,515.8L96.2,515.8L97.2,515.9L98.2,515.9L99.2,516.0L100.2,516.0L101.2,516.0L102.2,516.1L103.2,516.1L104.2,516.2L105.2,516.2L106.2,516.3L107.2,516.3L108.2,516.3L109.2,516.4L110.2,516.4L111.2,516.5L112.2,516.5L113.2,516.5L114.2,516.6L115.1,516.6L116.1,516.6L117.1,516.7L118.1,516.7L119.1,516.7L120.1,516.7L121.1,516.8L122.1,516.8L123.1,516.8L124.1,516.8L125.1,516.8L126.1,516.8L127.1,516.8L128.1,516.8L129.1,516.8L130.1,516.8L131.1,516.8L132.1,516.8L133.1,516.7L134.1,516.7L135.1,516.6L136.1,516.5L137.1,516.5L138.0,516.4L139.0,516.3L140.0,516.1L141.0,516.0L142.0,515.8L143.0,515.6L144.0,515.5L145.0,515.2L146.0,515.0L147.0,514.7L148.0,514.5L149.0,514.2L150.0,513.8L151.0,513.5L152.0,513.1L153.0,512.7L154.0,512.2L155.0,511.7L156.0,511.2L157.0,510.7L158.0,510.2L159.0,509.6L159.9,509.0L160.9,508.3L161.9,507.7L162.9,507.0L163.9,506.3L164.9,505.5L165.9,504.8L166.9,504.0L167.9,503.2L168.9,502.4L169.9,501.6L170.9,500.9L171.9,500.1L172.9,499.3L173.9,498.5L174.9,497.7L175.9,497.0L176.9,496.2L177.9,495.5L178.9,494.8L179.9,494.2L180.9,493.6L181.9,493.0L182.8,492.5L183.8,492.0L184.8,491.6L185.8,491.3L186.8,491.0L187.8,490.7L188.8,490.5L189.8,490.4L190.8,490.4L191.8,490.4L192.8,490.5L193.8,490.7L194.8,491.1L195.8,491.6L196.8,492.3L197.8,493.1L198.8,494.1L199.8,495.2L200.8,496.5L201.8,497.8L202.8,499.2L203.8,500.7L204.8,502.2L205.7,503.8L206.7,505.4L207.7,507.0L208.7,508.6L209.7,510.2L210.7,511.7L211.7,513.2L212.7,514.6L213.7,516.0L214.7,517.3L215.7,518.5L216.7,519.7L217.7,520.8L218.7,521.8L219.7,522.7L220.7,523.6L221.7,524.3L222.7,525.1L223.7,525.7L224.7,526.3L225.7,526.9L226.7,527.3L227.6,527.8L228.6,528.2L229.6,528.6L230.6,528.9L231.6,529.2L232.6,529.5L233.6,529.8L234.6,530.0L235.6,530.2L236.6,530.4L237.6,530.6L238.6,530.8L239.6,531.0L240.6,531.2L241.6,531.4L242.6,531.5L243.6,531.7L244.6,531.9L245.6,532.0L246.6,532.2L247.6,532.3L248.6,532.5L249.6,532.7L250.5,532.8L251.5,533.0L252.5,533.1L253.5,533.3L254.5,533.4L255.5,533.6L256.5,533.7L257.5,533.9L258.5,534.1L259.5,534.2L260.5,534.4L261.5,534.5" fill="none" stroke="#0000F0" stroke-width="1.4" stroke-linejoin="round"/>
<path d="M35.5,514.0L36.5,510.0L37.6,516.8L38.6,515.6L39.7,514.0L40.7,510.4L41.8,515.3L42.8,509.4L43.9,509.3L44.9,510.2L46.0,515.5L47.0,508.7L48.1,515.8L49.1,513.5L50.2,513.0L51.2,509.7L52.3,512.4L53.3,507.8L54.4,509.2L55.4,508.8L56.5,512.3L57.5,508.3L58.6,512.7L59.6,510.0L60.7,511.0L61.7,506.8L62.8,511.6L63.8,507.7L64.9,511.5L65.9,507.1L67.0,510.5L68.0,504.6L69.1,514.9L70.1,506.2L71.2,509.2L72.2,512.7L73.3,509.8L74.3,512.6L75.4,513.5L76.4,511.2L77.5,510.4L78.5,505.2L79.6,511.9L80.6,510.0L81.7,509.1L82.7,508.1L83.8,507.8L84.8,508.1L85.9,508.0L86.9,504.0L88.0,502.3L89.0,503.2L90.1,506.4L91.1,498.3L92.2,508.0L93.2,499.4L94.3,506.3L95.3,504.5L96.4,503.8L97.4,499.7L98.5,501.0L99.5,495.5L100.6,502.4L101.6,500.4L102.7,500.0L103.7,495.7L104.8,500.8L105.8,496.6L106.9,498.6L107.9,492.9L109.0,500.6L110.0,491.1L111.1,492.6L112.1,494.1L113.2,499.6L114.2,491.9L115.3,497.6L116.3,493.0L117.4,494.4L118.4,492.6L119.5,496.7L120.5,496.3L121.6,493.9L122.6,494.5L123.7,498.9L124.7,494.9L125.8,495.7L126.8,496.5L127.9,503.1L128.9,500.9L130.0,498.9L131.0,495.3L132.1,496.6L133.1,498.3L134.2,504.2L135.2,495.8L136.3,506.4L137.3,496.4L138.4,497.8L139.4,497.7L140.5,503.9L141.5,497.4L142.6,504.1L143.6,499.0L144.7,503.7L145.7,498.4L146.8,501.9L147.8,499.2L148.9,505.0L149.9,504.7L151.0,503.4L152.0,496.9L153.1,503.1L154.1,498.9L155.2,499.6L156.2,497.3L157.3,501.6L158.3,498.7L159.4,499.8L160.4,499.3L161.5,500.0L162.5,492.5L163.6,492.7L164.6,492.2L165.7,498.6L166.7,490.9L167.8,498.1L168.8,493.4L169.9,497.4L170.9,490.7L172.0,490.9L173.0,489.4L174.1,493.9L175.1,487.6L176.2,492.9L177.2,491.1L178.3,491.3L179.3,492.5L180.4,490.1L181.4,485.8L182.5,487.0L183.5,480.9L184.6,482.3L185.6,485.9L186.7,478.7L187.7,475.8L188.8,481.1L189.8,476.7L190.9,481.3L191.9,471.8L193.0,477.1L194.0,477.4L195.1,476.7L196.1,476.0L197.2,469.6L198.2,470.7L199.3,477.1L200.3,477.6L201.4,472.5L202.4,471.5L203.5,478.0L204.5,477.0L205.6,475.2L206.6,470.7L207.7,477.9L208.7,475.0L209.8,476.7L210.8,473.5L211.9,479.1L212.9,474.1L214.0,477.5L215.0,480.5L216.1,480.2L217.1,480.1L218.2,475.2L219.2,481.0L220.3,477.6L221.3,480.7L222.4,486.2L223.4,483.8L224.5,490.8L225.5,484.1L226.6,491.6L227.6,492.8L228.7,498.7L229.7,495.5L230.8,503.7L231.8,505.5L232.9,507.2L233.9,502.5L235.0,510.0L236.0,506.1L237.1,513.0L238.1,514.3L239.2,511.5L240.2,512.9L241.3,518.0L242.3,514.0L243.4,519.5L244.4,517.9L245.5,518.1L246.5,519.5L247.6,524.8L248.6,521.1L249.7,529.1L250.7,523.0L251.8,531.1L252.8,522.7L253.9,531.8L254.9,525.7L256.0,526.1L257.0,531.4L258.1,525.6L259.1,530.3L260.2,532.5L261.2,529.3" fill="none" stroke="#000" stroke-width="1.4" stroke-linejoin="round"/>
<path d="M35.5,512.1L36.5,512.1L37.5,512.1L38.5,512.1L39.5,512.0L40.5,512.0L41.5,512.0L42.5,511.9L43.5,511.9L44.5,511.8L45.5,511.7L46.5,511.7L47.4,511.6L48.4,511.5L49.4,511.4L50.4,511.4L51.4,511.3L52.4,511.2L53.4,511.1L54.4,511.0L55.4,510.9L56.4,510.7L57.4,510.6L58.4,510.5L59.4,510.4L60.4,510.3L61.4,510.1L62.4,510.0L63.4,509.9L64.4,509.8L65.4,509.6L66.4,509.5L67.4,509.4L68.4,509.2L69.4,509.1L70.3,509.0L71.3,508.8L72.3,508.6L73.3,508.4L74.3,508.2L75.3,508.0L76.3,507.8L77.3,507.5L78.3,507.3L79.3,507.0L80.3,506.7L81.3,506.4L82.3,506.1L83.3,505.8L84.3,505.5L85.3,505.2L86.3,504.9L87.3,504.5L88.3,504.2L89.3,503.9L90.3,503.6L91.3,503.2L92.2,502.9L93.2,502.6L94.2,502.2L95.2,501.9L96.2,501.6L97.2,501.2L98.2,500.8L99.2,500.3L100.2,499.9L101.2,499.4L102.2,498.9L103.2,498.4L104.2,497.9L105.2,497.5L106.2,497.0L107.2,496.6L108.2,496.2L109.2,495.9L110.2,495.6L111.2,495.3L112.2,495.2L113.2,495.0L114.2,495.0L115.1,495.0L116.1,495.2L117.1,495.4L118.1,495.7L119.1,496.0L120.1,496.4L121.1,496.8L122.1,497.2L123.1,497.6L124.1,498.1L125.1,498.5L126.1,498.9L127.1,499.3L128.1,499.6L129.1,499.8L130.1,500.0L131.1,500.2L132.1,500.3L133.1,500.5L134.1,500.6L135.1,500.7L136.1,500.9L137.1,501.0L138.0,501.1L139.0,501.2L140.0,501.3L141.0,501.4L142.0,501.4L143.0,501.5L144.0,501.5L145.0,501.5L146.0,501.5L147.0,501.4L148.0,501.2L149.0,501.0L150.0,500.7L151.0,500.4L152.0,500.1L153.0,499.7L154.0,499.3L155.0,498.9L156.0,498.5L157.0,498.1L158.0,497.7L159.0,497.4L159.9,497.0L160.9,496.7L161.9,496.4L162.9,496.1L163.9,495.8L164.9,495.5L165.9,495.2L166.9,494.9L167.9,494.5L168.9,494.2L169.9,493.8L170.9,493.4L171.9,493.0L172.9,492.6L173.9,492.1L174.9,491.6L175.9,490.9L176.9,490.2L177.9,489.3L178.9,488.3L179.9,487.3L180.9,486.2L181.9,485.2L182.8,484.1L183.8,483.1L184.8,482.1L185.8,480.9L186.8,479.8L187.8,478.8L188.8,477.9L189.8,477.1L190.8,476.5L191.8,475.9L192.8,475.3L193.8,474.8L194.8,474.3L195.8,473.9L196.8,473.6L197.8,473.4L198.8,473.3L199.8,473.3L200.8,473.4L201.8,473.4L202.8,473.5L203.8,473.6L204.8,473.7L205.7,473.8L206.7,473.9L207.7,474.1L208.7,474.3L209.7,474.5L210.7,474.8L211.7,475.1L212.7,475.5L213.7,475.9L214.7,476.4L215.7,477.0L216.7,477.8L217.7,478.6L218.7,479.5L219.7,480.6L220.7,481.6L221.7,482.8L222.7,484.0L223.7,485.3L224.7,486.9L225.7,488.7L226.7,490.8L227.6,492.9L228.6,495.2L229.6,497.4L230.6,499.5L231.6,501.5L232.6,503.4L233.6,505.0L234.6,506.6L235.6,508.2L236.6,509.7L237.6,511.2L238.6,512.6L239.6,514.1L240.6,515.4L241.6,516.7L242.6,517.9L243.6,519.1L244.6,520.2L245.6,521.2L246.6,522.1L247.6,523.0L248.6,523.8L249.6,524.6L250.5,525.4L251.5,526.1L252.5,526.7L253.5,527.3L254.5,527.9L255.5,528.5L256.5,529.0L257.5,529.6L258.5,530.1L259.5,530.5L260.5,530.9L261.5,531.3" fill="none" stroke="#F00010" stroke-width="1.6" stroke-linejoin="round"/>
</g>
<rect x="35" y="419.8" width="227" height="163.7" fill="none" stroke="#1a1a1a" stroke-width="1.8"/>
<line x1="72.83333333333333" y1="583.5" x2="72.83333333333333" y2="586.0" stroke="#000" stroke-width="1.1"/>
<text x="72.83" y="597.8" font-size="10.5" text-anchor="middle" >730</text>
<line x1="110.66666666666666" y1="583.5" x2="110.66666666666666" y2="585.3" stroke="#000" stroke-width="0.9"/>
<line x1="148.5" y1="583.5" x2="148.5" y2="586.0" stroke="#000" stroke-width="1.1"/>
<text x="148.50" y="597.8" font-size="10.5" text-anchor="middle" >720</text>
<line x1="186.33333333333331" y1="583.5" x2="186.33333333333331" y2="585.3" stroke="#000" stroke-width="0.9"/>
<line x1="224.16666666666666" y1="583.5" x2="224.16666666666666" y2="586.0" stroke="#000" stroke-width="1.1"/>
<text x="224.17" y="597.8" font-size="10.5" text-anchor="middle" >710</text>
<text x="12.7" y="437" font-size="19" text-anchor="start" >(e)</text>
<text x="39.4" y="442.5" font-size="15.5" text-anchor="start" >FM-2-1.0NF</text>
<text x="119.6" y="461.3" font-size="12">Fe<tspan font-size="11" dy="-5.5">2+</tspan></text>
<text x="104.7" y="485" font-size="12">2p<tspan font-size="8" dy="2.5">1/2</tspan></text>
<text x="139.5" y="479" font-size="11.8" text-anchor="start" >Satellite</text>
<text x="195.6" y="465" font-size="12">2p<tspan font-size="8" dy="2.5">3/2</tspan></text>
<text x="233.4" y="463.6" font-size="12">Fe<tspan font-size="11" dy="-5.5">2+</tspan></text>
<text x="74.7" y="549.3" font-size="12">Fe<tspan font-size="11" dy="-5.5">3+</tspan></text>
<text x="185.6" y="562.2" font-size="12">Fe<tspan font-size="11" dy="-5.5">3+</tspan></text>
<line x1="133.00" y1="460.00" x2="134.18" y2="499.80" stroke="#000" stroke-width="1.8"/>
<polygon points="134.30,503.80 131.65,498.88 136.65,498.73" fill="#000"/>
<line x1="235.70" y1="464.80" x2="225.41" y2="480.80" stroke="#000" stroke-width="1.8"/>
<polygon points="222.70,485.00 223.42,478.33 228.47,481.58" fill="#000"/>
<line x1="91.80" y1="530.50" x2="100.36" y2="510.11" stroke="#000" stroke-width="1.8"/>
<polygon points="102.30,505.50 102.74,512.19 97.21,509.87" fill="#000"/>
<line x1="201.80" y1="543.30" x2="210.22" y2="521.17" stroke="#000" stroke-width="1.8"/>
<polygon points="212.00,516.50 212.67,523.17 207.06,521.04" fill="#000"/>
<text x="93.6" y="621" font-size="13.7" text-anchor="start" >Binding Energy (eV)</text>
<text transform="translate(22.9,543.5) rotate(-90)" font-size="14.3"><tspan x="0" y="0" textLength="51.7" lengthAdjust="spacingAndGlyphs">Intensity</tspan><tspan x="59" y="0" textLength="34" lengthAdjust="spacingAndGlyphs">(a. u.)</tspan></text>
<clipPath id="cf"><rect x="306.5" y="419.8" width="227.0" height="163.7"/></clipPath><g clip-path="url(#cf)">
<path d="M307.0,494.5L308.0,494.6L309.0,494.7L310.0,494.8L311.0,494.9L312.0,495.0L313.0,495.1L314.0,495.2L315.0,495.3L316.0,495.4L317.0,495.5L318.0,495.6L318.9,495.7L319.9,495.8L320.9,495.8L321.9,495.9L322.9,496.0L323.9,496.1L324.9,496.2L325.9,496.3L326.9,496.3L327.9,496.4L328.9,496.5L329.9,496.6L330.9,496.7L331.9,496.7L332.9,496.8L333.9,496.9L334.9,496.9L335.9,497.0L336.9,497.1L337.9,497.1L338.9,497.2L339.9,497.3L340.9,497.3L341.8,497.4L342.8,497.5L343.8,497.5L344.8,497.6L345.8,497.6L346.8,497.7L347.8,497.8L348.8,497.8L349.8,497.9L350.8,497.9L351.8,498.0L352.8,498.0L353.8,498.1L354.8,498.1L355.8,498.2L356.8,498.3L357.8,498.3L358.8,498.4L359.8,498.4L360.8,498.5L361.8,498.5L362.8,498.6L363.7,498.6L364.7,498.7L365.7,498.7L366.7,498.8L367.7,498.8L368.7,498.8L369.7,498.9L370.7,498.9L371.7,498.9L372.7,499.0L373.7,499.0L374.7,499.0L375.7,499.0L376.7,499.0L377.7,498.9L378.7,498.5L379.7,497.7L380.7,496.7L381.7,495.6L382.7,494.4L383.7,493.3L384.7,492.2L385.7,491.3L386.6,490.5L387.6,489.7L388.6,488.9L389.6,488.1L390.6,487.4L391.6,486.7L392.6,486.2L393.6,485.9L394.6,485.8L395.6,486.0L396.6,486.6L397.6,487.4L398.6,488.4L399.6,489.4L400.6,490.5L401.6,491.6L402.6,492.6L403.6,493.7L404.6,494.9L405.6,496.3L406.6,497.6L407.6,499.0L408.6,500.4L409.5,501.8L410.5,503.1L411.5,504.2L412.5,505.3L413.5,506.1L414.5,506.8L415.5,507.2L416.5,507.6L417.5,507.9L418.5,508.2L419.5,508.5L420.5,508.8L421.5,509.0L422.5,509.2L423.5,509.4L424.5,509.6L425.5,509.8L426.5,510.0L427.5,510.2L428.5,510.4L429.5,510.6L430.5,510.8L431.4,511.0L432.4,511.3L433.4,511.5L434.4,511.8L435.4,512.0L436.4,512.3L437.4,512.5L438.4,512.8L439.4,513.0L440.4,513.3L441.4,513.5L442.4,513.8L443.4,514.0L444.4,514.3L445.4,514.5L446.4,514.7L447.4,515.0L448.4,515.2L449.4,515.4L450.4,515.6L451.4,515.7L452.4,515.9L453.4,516.0L454.3,516.1L455.3,516.3L456.3,516.3L457.3,516.4L458.3,516.5L459.3,516.5L460.3,516.5L461.3,516.5L462.3,516.4L463.3,516.2L464.3,516.1L465.3,515.8L466.3,515.6L467.3,515.3L468.3,515.0L469.3,514.6L470.3,514.3L471.3,513.9L472.3,513.3L473.3,512.5L474.3,511.5L475.3,510.3L476.3,509.0L477.2,507.6L478.2,506.1L479.2,504.6L480.2,503.1L481.2,501.3L482.2,498.9L483.2,496.4L484.2,493.6L485.2,490.9L486.2,488.4L487.2,486.2L488.2,484.5L489.2,483.5L490.2,483.2L491.2,483.6L492.2,484.6L493.2,486.1L494.2,487.9L495.2,490.0L496.2,492.3L497.2,494.8L498.2,497.2L499.1,499.6L500.1,502.2L501.1,505.4L502.1,509.0L503.1,513.0L504.1,517.1L505.1,521.3L506.1,525.4L507.1,529.3L508.1,532.8L509.1,535.7L510.1,538.0L511.1,539.5L512.1,540.7L513.1,541.8L514.1,542.8L515.1,543.6L516.1,544.3L517.1,544.7L518.1,545.0L519.1,545.2L520.1,545.3L521.1,545.5L522.0,545.6L523.0,545.7L524.0,545.8L525.0,545.9L526.0,546.0L527.0,546.1L528.0,546.1L529.0,546.2L530.0,546.2L531.0,546.3L532.0,546.3L533.0,546.3" fill="none" stroke="#10E010" stroke-width="1.4" stroke-linejoin="round"/>
<path d="M307.0,494.6L308.0,494.9L309.0,495.1L310.0,495.4L311.0,495.6L312.0,495.8L313.0,496.0L314.0,496.2L315.0,496.4L316.0,496.6L317.0,496.8L318.0,497.0L318.9,497.2L319.9,497.3L320.9,497.5L321.9,497.6L322.9,497.8L323.9,497.9L324.9,498.0L325.9,498.2L326.9,498.3L327.9,498.4L328.9,498.5L329.9,498.6L330.9,498.6L331.9,498.7L332.9,498.8L333.9,498.8L334.9,498.9L335.9,498.9L336.9,499.0L337.9,499.0L338.9,499.0L339.9,499.0L340.9,499.0L341.8,499.0L342.8,499.0L343.8,498.9L344.8,498.9L345.8,498.9L346.8,498.8L347.8,498.8L348.8,498.7L349.8,498.7L350.8,498.6L351.8,498.5L352.8,498.4L353.8,498.4L354.8,498.3L355.8,498.2L356.8,498.1L357.8,498.0L358.8,497.8L359.8,497.7L360.8,497.6L361.8,497.5L362.8,497.3L363.7,497.2L364.7,497.0L365.7,496.8L366.7,496.5L367.7,496.0L368.7,495.3L369.7,494.6L370.7,493.8L371.7,493.0L372.7,492.2L373.7,491.3L374.7,490.5L375.7,489.8L376.7,489.2L377.7,488.6L378.7,488.3L379.7,488.0L380.7,488.0L381.7,488.2L382.7,488.5L383.7,489.0L384.7,489.5L385.7,490.2L386.6,491.0L387.6,491.9L388.6,492.7L389.6,493.7L390.6,494.7L391.6,496.3L392.6,498.3L393.6,500.4L394.6,502.4L395.6,504.0L396.6,505.0L397.6,505.6L398.6,506.2L399.6,506.7L400.6,507.2L401.6,507.6L402.6,508.0L403.6,508.4L404.6,508.7L405.6,509.0L406.6,509.2L407.6,509.5L408.6,509.7L409.5,509.9L410.5,510.1L411.5,510.3L412.5,510.5L413.5,510.7L414.5,510.9L415.5,511.0L416.5,511.2L417.5,511.4L418.5,511.5L419.5,511.6L420.5,511.7L421.5,511.8L422.5,511.9L423.5,512.0L424.5,512.0" fill="none" stroke="#0000F0" stroke-width="1.4" stroke-linejoin="round"/>
<path d="M408.6,507.4L409.5,507.3L410.5,507.2L411.5,507.2L412.5,507.1L413.5,507.0L414.5,507.0L415.5,507.0L416.5,507.0L417.5,507.0L418.5,507.0L419.5,507.1L420.5,507.1L421.5,507.1L422.5,507.1L423.5,507.2L424.5,507.2L425.5,507.3L426.5,507.3L427.5,507.4L428.5,507.4L429.5,507.5L430.5,507.5L431.4,507.6L432.4,507.7L433.4,507.9L434.4,508.1L435.4,508.3L436.4,508.5L437.4,508.7L438.4,509.0L439.4,509.3L440.4,509.6L441.4,509.9L442.4,510.2L443.4,510.5L444.4,510.8L445.4,511.1L446.4,511.5L447.4,511.9L448.4,512.3L449.4,512.7L450.4,513.2L451.4,513.7L452.4,514.2L453.4,514.7L454.3,515.3L455.3,515.9L456.3,516.5L457.3,517.1" fill="none" stroke="#FF00FF" stroke-width="1.4" stroke-linejoin="round" stroke-dasharray="5,3.5"/>
<path d="M307.0,494.5L308.0,494.6L309.0,494.8L310.0,494.9L311.0,495.0L312.0,495.1L313.0,495.2L314.0,495.3L315.0,495.4L316.0,495.5L317.0,495.6L318.0,495.7L318.9,495.8L319.9,495.9L320.9,496.0L321.9,496.1L322.9,496.3L323.9,496.4L324.9,496.5L325.9,496.6L326.9,496.7L327.9,496.8L328.9,497.0L329.9,497.1L330.9,497.2L331.9,497.3L332.9,497.4L333.9,497.6L334.9,497.7L335.9,497.8L336.9,497.9L337.9,498.1L338.9,498.2L339.9,498.3L340.9,498.5L341.8,498.6L342.8,498.7L343.8,498.8L344.8,499.0L345.8,499.1L346.8,499.2L347.8,499.4L348.8,499.5L349.8,499.6L350.8,499.8L351.8,499.9L352.8,500.1L353.8,500.2L354.8,500.3L355.8,500.5L356.8,500.6L357.8,500.7L358.8,500.9L359.8,501.0L360.8,501.2L361.8,501.3L362.8,501.5L363.7,501.6L364.7,501.7L365.7,501.9L366.7,502.0L367.7,502.2L368.7,502.3L369.7,502.5L370.7,502.6L371.7,502.8L372.7,502.9L373.7,503.1L374.7,503.2L375.7,503.4L376.7,503.5L377.7,503.7L378.7,503.8L379.7,504.0L380.7,504.1L381.7,504.3L382.7,504.4L383.7,504.6L384.7,504.7L385.7,504.9L386.6,505.1L387.6,505.2L388.6,505.4L389.6,505.6L390.6,505.7L391.6,505.9L392.6,506.1L393.6,506.2L394.6,506.4L395.6,506.6L396.6,506.8L397.6,507.0L398.6,507.1L399.6,507.3L400.6,507.5L401.6,507.7L402.6,507.9L403.6,508.0L404.6,508.2L405.6,508.4L406.6,508.6L407.6,508.8L408.6,509.0L409.5,509.2L410.5,509.3L411.5,509.5L412.5,509.7L413.5,509.9L414.5,510.1L415.5,510.3L416.5,510.5L417.5,510.6L418.5,510.8L419.5,511.0L420.5,511.2L421.5,511.4L422.5,511.5L423.5,511.7L424.5,511.9L425.5,512.1L426.5,512.3L427.5,512.4L428.5,512.6L429.5,512.8L430.5,512.9L431.4,513.1L432.4,513.3L433.4,513.4L434.4,513.6L435.4,513.7L436.4,513.9L437.4,514.1L438.4,514.2L439.4,514.4L440.4,514.6L441.4,514.8L442.4,514.9L443.4,515.1L444.4,515.3L445.4,515.5L446.4,515.7L447.4,515.9L448.4,516.1L449.4,516.4L450.4,516.6L451.4,516.8L452.4,517.1L453.4,517.3L454.3,517.6L455.3,517.8L456.3,518.1L457.3,518.4L458.3,518.7L459.3,519.0L460.3,519.3L461.3,519.7L462.3,520.0L463.3,520.4L464.3,520.7L465.3,521.1L466.3,521.5L467.3,522.0L468.3,522.4L469.3,522.9L470.3,523.5L471.3,524.0L472.3,524.5L473.3,525.1L474.3,525.6L475.3,526.1L476.3,526.7L477.2,527.2L478.2,527.8L479.2,528.4L480.2,529.0L481.2,529.6L482.2,530.2L483.2,530.8L484.2,531.3L485.2,531.9L486.2,532.5L487.2,533.1L488.2,533.7L489.2,534.2L490.2,534.8L491.2,535.4L492.2,536.0L493.2,536.5L494.2,537.1L495.2,537.6L496.2,538.1L497.2,538.6L498.2,539.1L499.1,539.6L500.1,540.0L501.1,540.5L502.1,541.0L503.1,541.5L504.1,541.9L505.1,542.3L506.1,542.7L507.1,543.1L508.1,543.5L509.1,543.8L510.1,544.0L511.1,544.3L512.1,544.5L513.1,544.7L514.1,544.9L515.1,545.1L516.1,545.3L517.1,545.5L518.1,545.6L519.1,545.7L520.1,545.8L521.1,545.9L522.0,545.9L523.0,546.0L524.0,546.0L525.0,546.1L526.0,546.1L527.0,546.2L528.0,546.2L529.0,546.2L530.0,546.3L531.0,546.3L532.0,546.3L533.0,546.3" fill="none" stroke="#0000F0" stroke-width="1.4" stroke-linejoin="round"/>
<path d="M307.0,494.5L308.0,494.6L309.0,494.7L310.0,494.8L311.0,494.9L312.0,495.0L313.0,495.1L314.0,495.2L315.0,495.3L316.0,495.4L317.0,495.5L318.0,495.7L318.9,495.8L319.9,495.9L320.9,496.0L321.9,496.1L322.9,496.2L323.9,496.3L324.9,496.4L325.9,496.5L326.9,496.7L327.9,496.8L328.9,496.9L329.9,497.0L330.9,497.1L331.9,497.3L332.9,497.4L333.9,497.5L334.9,497.6L335.9,497.7L336.9,497.9L337.9,498.0L338.9,498.1L339.9,498.3L340.9,498.4L341.8,498.5L342.8,498.6L343.8,498.8L344.8,498.9L345.8,499.0L346.8,499.2L347.8,499.3L348.8,499.4L349.8,499.6L350.8,499.7L351.8,499.8L352.8,500.0L353.8,500.1L354.8,500.3L355.8,500.4L356.8,500.5L357.8,500.7L358.8,500.8L359.8,501.0L360.8,501.1L361.8,501.3L362.8,501.4L363.7,501.6L364.7,501.8L365.7,501.9L366.7,502.1L367.7,502.3L368.7,502.5L369.7,502.7L370.7,502.9L371.7,503.1L372.7,503.3L373.7,503.5L374.7,503.7L375.7,503.9L376.7,504.1L377.7,504.3L378.7,504.5L379.7,504.7L380.7,504.9L381.7,505.1L382.7,505.3L383.7,505.5L384.7,505.6L385.7,505.8L386.6,506.0L387.6,506.2L388.6,506.4L389.6,506.5L390.6,506.7L391.6,506.8L392.6,507.0L393.6,507.1L394.6,507.2L395.6,507.4L396.6,507.5L397.6,507.6L398.6,507.7L399.6,507.8L400.6,507.8L401.6,507.9L402.6,508.0L403.6,508.1L404.6,508.1L405.6,508.2L406.6,508.3L407.6,508.4L408.6,508.4L409.5,508.5L410.5,508.6L411.5,508.6L412.5,508.7L413.5,508.7L414.5,508.8L415.5,508.9L416.5,508.9L417.5,509.0L418.5,509.0L419.5,509.1L420.5,509.1L421.5,509.1L422.5,509.2L423.5,509.2L424.5,509.2L425.5,509.3L426.5,509.3L427.5,509.3L428.5,509.3L429.5,509.3L430.5,509.3L431.4,509.3L432.4,509.2L433.4,509.2L434.4,509.1L435.4,509.0L436.4,508.9L437.4,508.8L438.4,508.6L439.4,508.5L440.4,508.3L441.4,508.1L442.4,507.9L443.4,507.7L444.4,507.5L445.4,507.2L446.4,506.9L447.4,506.7L448.4,506.4L449.4,506.1L450.4,505.7L451.4,505.4L452.4,505.0L453.4,504.7L454.3,504.3L455.3,503.9L456.3,503.5L457.3,503.1L458.3,502.7L459.3,502.3L460.3,501.8L461.3,501.1L462.3,500.0L463.3,498.7L464.3,497.3L465.3,495.7L466.3,494.2L467.3,492.7L468.3,491.4L469.3,490.2L470.3,489.4L471.3,489.0L472.3,489.0L473.3,489.4L474.3,490.3L475.3,491.4L476.3,492.9L477.2,494.4L478.2,496.1L479.2,497.8L480.2,499.4L481.2,501.2L482.2,503.4L483.2,505.7L484.2,508.2L485.2,510.7L486.2,513.1L487.2,515.5L488.2,517.5L489.2,519.3L490.2,521.0L491.2,522.6L492.2,524.2L493.2,525.8L494.2,527.3L495.2,528.7L496.2,530.1L497.2,531.5L498.2,532.7L499.1,533.9L500.1,534.9L501.1,535.9L502.1,536.8L503.1,537.5L504.1,538.1L505.1,538.7L506.1,539.2L507.1,539.7L508.1,540.2L509.1,540.7L510.1,541.1L511.1,541.5L512.1,541.8L513.1,542.2L514.1,542.5L515.1,542.8L516.1,543.1L517.1,543.4L518.1,543.6L519.1,543.9L520.1,544.1L521.1,544.3L522.0,544.6L523.0,544.8L524.0,545.0L525.0,545.2L526.0,545.4L527.0,545.5L528.0,545.7L529.0,545.9L530.0,546.0L531.0,546.1L532.0,546.2L533.0,546.3" fill="none" stroke="#0000F0" stroke-width="1.4" stroke-linejoin="round"/>
<path d="M307.0,496.2L308.1,496.9L309.1,498.4L310.2,497.2L311.2,492.3L312.3,493.7L313.3,492.0L314.4,492.8L315.4,496.5L316.5,493.9L317.5,499.6L318.6,495.5L319.6,500.0L320.7,494.3L321.7,498.4L322.8,493.4L323.8,499.6L324.9,493.9L325.9,498.6L327.0,494.7L328.0,498.8L329.1,496.1L330.1,498.7L331.2,495.7L332.2,495.2L333.3,498.3L334.3,495.6L335.4,496.5L336.4,500.6L337.5,498.2L338.5,498.5L339.6,494.9L340.6,497.6L341.7,495.5L342.7,499.7L343.8,500.1L344.8,499.1L345.9,497.7L346.9,493.4L348.0,497.4L349.0,496.4L350.1,492.9L351.1,498.3L352.2,491.4L353.2,496.0L354.3,492.9L355.3,495.7L356.4,490.4L357.4,490.2L358.5,494.1L359.5,494.5L360.6,488.4L361.6,492.9L362.7,492.4L363.7,491.4L364.8,487.9L365.8,490.5L366.9,487.4L367.9,491.6L369.0,486.8L370.0,489.7L371.1,483.2L372.1,483.9L373.2,483.1L374.2,485.7L375.3,486.0L376.3,480.1L377.4,480.2L378.4,484.4L379.5,478.5L380.5,478.0L381.6,483.5L382.6,484.6L383.7,479.0L384.7,483.7L385.8,483.0L386.8,476.1L387.9,479.3L388.9,483.9L390.0,483.1L391.0,484.0L392.1,481.4L393.1,484.4L394.2,481.5L395.2,483.9L396.3,487.5L397.3,487.1L398.4,484.5L399.4,488.0L400.5,488.8L401.5,493.8L402.6,494.7L403.6,491.9L404.7,492.8L405.7,498.7L406.8,496.9L407.8,502.6L408.9,503.7L409.9,503.9L411.0,502.2L412.0,502.1L413.1,503.5L414.1,497.6L415.2,499.2L416.2,500.3L417.3,498.6L418.3,501.3L419.4,496.8L420.4,499.0L421.5,497.7L422.5,499.1L423.6,498.7L424.6,501.5L425.7,501.7L426.7,497.9L427.8,498.5L428.8,502.9L429.9,497.6L430.9,500.9L432.0,502.4L433.0,501.2L434.1,496.6L435.1,501.7L436.2,502.9L437.2,500.8L438.3,498.5L439.3,502.4L440.4,499.5L441.4,502.6L442.5,500.3L443.5,502.4L444.6,500.6L445.6,503.8L446.7,503.2L447.7,503.4L448.8,502.8L449.8,502.4L450.9,498.3L451.9,498.3L453.0,497.9L454.0,501.2L455.1,499.8L456.1,496.8L457.2,493.4L458.2,494.8L459.3,490.1L460.3,490.0L461.4,485.2L462.4,488.9L463.5,487.7L464.5,483.0L465.6,479.0L466.6,484.5L467.7,479.5L468.7,482.0L469.8,475.1L470.8,479.9L471.9,474.5L472.9,477.6L474.0,471.9L475.0,475.9L476.1,470.9L477.1,469.8L478.2,470.3L479.2,467.6L480.3,471.3L481.3,469.7L482.4,465.2L483.4,469.3L484.5,464.9L485.5,465.9L486.6,463.4L487.6,470.5L488.7,464.6L489.7,472.9L490.8,469.1L491.8,469.2L492.9,470.8L493.9,474.9L495.0,473.4L496.0,480.3L497.1,478.8L498.1,483.0L499.2,484.7L500.2,491.2L501.3,492.3L502.3,501.5L503.4,499.3L504.4,509.1L505.5,511.7L506.5,519.0L507.6,520.2L508.6,532.0L509.7,532.0L510.7,538.6L511.8,536.4L512.8,541.4L513.9,539.4L514.9,542.4L516.0,542.7L517.0,542.1L518.1,540.7L519.1,546.2L520.2,546.7L521.2,541.3L522.3,543.8L523.3,546.3L524.4,547.6L525.4,548.8L526.5,543.8L527.5,547.8L528.6,543.0L529.6,548.7L530.7,544.0L531.7,543.3L532.8,547.0" fill="none" stroke="#000" stroke-width="1.3" stroke-linejoin="round"/>
<path d="M307.0,494.6L308.0,494.9L309.0,495.1L310.0,495.3L311.0,495.5L312.0,495.7L313.0,495.9L314.0,496.0L315.0,496.2L316.0,496.3L317.0,496.4L318.0,496.5L318.9,496.6L319.9,496.7L320.9,496.8L321.9,496.9L322.9,496.9L323.9,497.0L324.9,497.0L325.9,497.1L326.9,497.1L327.9,497.1L328.9,497.1L329.9,497.2L330.9,497.2L331.9,497.2L332.9,497.2L333.9,497.2L334.9,497.2L335.9,497.2L336.9,497.2L337.9,497.2L338.9,497.2L339.9,497.1L340.9,497.0L341.8,496.9L342.8,496.8L343.8,496.6L344.8,496.4L345.8,496.2L346.8,496.0L347.8,495.7L348.8,495.5L349.8,495.2L350.8,494.9L351.8,494.6L352.8,494.3L353.8,494.0L354.8,493.7L355.8,493.3L356.8,493.0L357.8,492.7L358.8,492.4L359.8,492.1L360.8,491.8L361.8,491.4L362.8,491.0L363.7,490.5L364.7,490.0L365.7,489.5L366.7,488.9L367.7,488.3L368.7,487.7L369.7,487.1L370.7,486.5L371.7,485.9L372.7,485.3L373.7,484.7L374.7,484.1L375.7,483.6L376.7,483.1L377.7,482.6L378.7,482.1L379.7,481.7L380.7,481.3L381.7,481.0L382.7,480.8L383.7,480.6L384.7,480.4L385.7,480.4L386.6,480.5L387.6,480.6L388.6,480.9L389.6,481.3L390.6,481.8L391.6,482.4L392.6,483.0L393.6,483.7L394.6,484.5L395.6,485.3L396.6,486.1L397.6,486.9L398.6,487.7L399.6,488.6L400.6,489.4L401.6,490.7L402.6,492.1L403.6,493.7L404.6,495.4L405.6,497.0L406.6,498.5L407.6,499.8L408.6,500.7L409.5,501.2L410.5,501.3L411.5,501.3L412.5,501.2L413.5,501.1L414.5,501.0L415.5,500.9L416.5,500.8L417.5,500.6L418.5,500.5L419.5,500.3L420.5,500.2L421.5,500.0L422.5,499.9L423.5,499.8L424.5,499.7L425.5,499.6L426.5,499.5L427.5,499.5L428.5,499.5L429.5,499.5L430.5,499.6L431.4,499.7L432.4,499.8L433.4,500.0L434.4,500.1L435.4,500.3L436.4,500.5L437.4,500.7L438.4,500.8L439.4,501.0L440.4,501.1L441.4,501.3L442.4,501.4L443.4,501.4L444.4,501.5L445.4,501.5L446.4,501.5L447.4,501.4L448.4,501.3L449.4,501.2L450.4,501.1L451.4,500.9L452.4,500.4L453.4,499.3L454.3,497.9L455.3,496.5L456.3,495.1L457.3,493.7L458.3,492.1L459.3,490.6L460.3,489.1L461.3,487.8L462.3,486.6L463.3,485.4L464.3,484.2L465.3,483.1L466.3,482.0L467.3,480.9L468.3,479.8L469.3,478.8L470.3,477.8L471.3,476.8L472.3,475.8L473.3,474.9L474.3,474.0L475.3,473.0L476.3,472.0L477.2,471.0L478.2,470.1L479.2,469.3L480.2,468.7L481.2,468.3L482.2,468.0L483.2,467.8L484.2,467.5L485.2,467.4L486.2,467.3L487.2,467.4L488.2,467.7L489.2,468.2L490.2,469.0L491.2,470.0L492.2,471.1L493.2,472.4L494.2,473.7L495.2,475.2L496.2,477.3L497.2,479.9L498.2,483.0L499.1,486.4L500.1,489.9L501.1,493.6L502.1,497.4L503.1,501.8L504.1,506.6L505.1,511.4L506.1,516.0L507.1,521.0L508.1,526.3L509.1,531.0L510.1,534.6L511.1,536.6L512.1,538.3L513.1,539.8L514.1,541.1L515.1,542.1L516.1,542.8L517.1,543.3L518.1,543.6L519.1,543.9L520.1,544.1L521.1,544.3L522.0,544.5L523.0,544.7L524.0,544.9L525.0,545.1L526.0,545.2L527.0,545.3L528.0,545.4L529.0,545.5L530.0,545.6L531.0,545.6L532.0,545.7L533.0,545.7" fill="none" stroke="#F00010" stroke-width="1.6" stroke-linejoin="round"/>
</g>
<rect x="306.5" y="419.8" width="227.0" height="163.7" fill="none" stroke="#1a1a1a" stroke-width="1.8"/>
<line x1="344.3333333333333" y1="583.5" x2="344.3333333333333" y2="586.0" stroke="#000" stroke-width="1.1"/>
<text x="344.33" y="596.5999999999999" font-size="10.5" text-anchor="middle" >730</text>
<line x1="382.16666666666663" y1="583.5" x2="382.16666666666663" y2="585.3" stroke="#000" stroke-width="0.9"/>
<line x1="420.0" y1="583.5" x2="420.0" y2="586.0" stroke="#000" stroke-width="1.1"/>
<text x="420.00" y="596.5999999999999" font-size="10.5" text-anchor="middle" >720</text>
<line x1="457.8333333333333" y1="583.5" x2="457.8333333333333" y2="585.3" stroke="#000" stroke-width="0.9"/>
<line x1="495.66666666666663" y1="583.5" x2="495.66666666666663" y2="586.0" stroke="#000" stroke-width="1.1"/>
<text x="495.67" y="596.5999999999999" font-size="10.5" text-anchor="middle" >710</text>
<text x="283.4" y="437" font-size="19" text-anchor="start" >(f)</text>
<text x="309.4" y="442.0" font-size="15.5">FM-2-1.0NF 1000<tspan font-size="10.85" dy="-5.89">th</tspan><tspan dy="5.89"> cycle</tspan></text>
<text x="395.6" y="455.3" font-size="12">Fe<tspan font-size="11" dy="-5.5">2+</tspan></text>
<text x="372.2" y="470.5" font-size="12">2p<tspan font-size="8" dy="2.5">1/2</tspan></text>
<text x="412.5" y="489.6" font-size="11.8" text-anchor="start" >Satellite</text>
<text x="475.2" y="460.5" font-size="12">2p<tspan font-size="8" dy="2.5">3/2</tspan></text>
<text x="508.2" y="462.7" font-size="12">Fe<tspan font-size="11" dy="-5.5">2+</tspan></text>
<text x="349.8" y="531.8" font-size="12">Fe<tspan font-size="11" dy="-5.5">3+</tspan></text>
<text x="461.4" y="561" font-size="12">Fe<tspan font-size="11" dy="-5.5">3+</tspan></text>
<line x1="405.40" y1="456.40" x2="397.08" y2="483.22" stroke="#000" stroke-width="1.8"/>
<polygon points="395.60,488.00 394.51,481.38 400.24,483.16" fill="#000"/>
<line x1="510.50" y1="467.30" x2="494.45" y2="484.09" stroke="#000" stroke-width="1.8"/>
<polygon points="491.00,487.70 492.98,481.29 497.31,485.44" fill="#000"/>
<line x1="363.10" y1="514.50" x2="371.51" y2="493.83" stroke="#000" stroke-width="1.8"/>
<polygon points="373.40,489.20 373.92,495.89 368.36,493.63" fill="#000"/>
<line x1="476.70" y1="541.50" x2="485.09" y2="519.96" stroke="#000" stroke-width="1.8"/>
<polygon points="486.90,515.30 487.52,521.98 481.93,519.80" fill="#000"/>
<text x="364.5" y="620" font-size="13.7" text-anchor="start" >Binding Energy (eV)</text>
<text transform="translate(297.5,543.5) rotate(-90)" font-size="14.3"><tspan x="0" y="0" textLength="51.7" lengthAdjust="spacingAndGlyphs">Intensity</tspan><tspan x="59" y="0" textLength="34" lengthAdjust="spacingAndGlyphs">(a. u.)</tspan></text>
</svg></body></html>
